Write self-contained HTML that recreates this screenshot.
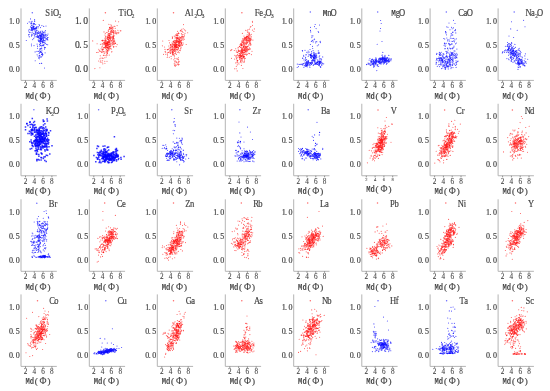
<!DOCTYPE html>
<html><head><meta charset="utf-8"><style>html,body{margin:0;padding:0;background:#fff;overflow:hidden;}svg{display:block}</style></head>
<body><svg width="550" height="391" viewBox="0 0 550 391">
<rect width="550" height="391" fill="#fff"/>
<path d="M28.6 34.9h0M32.1 35.0h0M41.8 46.8h0M32.0 25.6h0M37.6 33.0h0M42.0 41.6h0M47.8 37.5h0M30.0 32.4h0M41.3 39.3h0M41.2 36.3h0M39.4 36.8h0M33.7 28.4h0M37.5 48.2h0M39.1 35.7h0M46.1 34.5h0M35.1 31.2h0M40.9 52.2h0M42.9 54.6h0M34.2 33.2h0M43.3 37.1h0M35.2 60.7h0M29.3 36.8h0M38.4 32.9h0M43.7 26.4h0M41.9 41.2h0M42.9 34.6h0M44.5 49.1h0M40.2 38.8h0M39.9 35.1h0M39.6 46.0h0M41.9 54.3h0M41.0 33.8h0M34.2 29.2h0M45.1 38.6h0M40.7 43.4h0M36.3 33.0h0M39.5 63.5h0M35.4 33.6h0M39.5 52.7h0M43.7 37.0h0M41.8 37.8h0M41.2 63.2h0M44.5 68.0h0M42.7 41.4h0M37.6 46.3h0M33.8 26.7h0M34.6 21.1h0M42.3 54.3h0M42.5 42.8h0M37.1 44.1h0M36.8 27.8h0M41.9 33.3h0M32.4 28.8h0M36.2 27.8h0M43.4 36.8h0M45.2 35.4h0M40.5 41.4h0M39.1 53.5h0M40.1 42.3h0M31.8 27.9h0M34.4 35.5h0M32.6 28.1h0M42.8 32.1h0M38.8 37.7h0M44.2 36.0h0M29.3 32.2h0M34.7 28.4h0M43.2 45.4h0M37.5 46.0h0M35.8 29.0h0M31.8 28.5h0M34.0 45.6h0M31.0 23.6h0M36.0 28.1h0M33.2 24.5h0M45.1 43.0h0M41.3 36.2h0M32.2 29.5h0M34.2 34.6h0M41.1 36.5h0M37.4 32.7h0M29.2 36.5h0M40.4 36.1h0M39.7 55.4h0M33.7 38.3h0M27.5 23.2h0M40.8 37.9h0M31.0 22.0h0M42.0 38.8h0M31.5 45.8h0M42.1 53.9h0M36.2 28.0h0M38.3 36.4h0M40.5 27.6h0M39.7 57.5h0M44.8 47.4h0M34.8 36.9h0M41.5 34.9h0M40.7 40.1h0M36.9 37.0h0M46.1 39.7h0M42.4 33.3h0M42.0 38.2h0M40.2 52.1h0M41.8 37.8h0" stroke="#0000ff" stroke-opacity="0.7" stroke-width="1.15" stroke-linecap="round" fill="none"/>
<path d="M35.9 30.2h0M38.2 39.9h0M42.6 34.3h0M36.2 36.5h0M44.5 42.2h0M33.8 27.9h0M37.7 35.5h0M46.7 38.4h0M40.6 32.6h0M34.6 19.5h0M39.4 55.9h0M46.7 44.4h0M39.7 40.8h0M47.9 37.5h0M41.1 37.9h0M32.1 32.3h0M34.3 23.8h0M44.4 40.5h0M41.8 48.8h0M39.4 38.3h0M32.0 21.4h0M39.6 35.5h0M40.4 35.6h0M42.2 45.5h0M45.1 52.8h0M36.1 28.4h0M43.0 40.0h0M41.2 38.8h0M37.1 30.2h0M41.2 39.1h0M46.6 36.0h0M39.1 24.6h0M44.8 31.8h0M40.8 37.7h0M31.5 29.8h0M46.0 26.0h0M33.2 27.5h0M42.1 31.1h0M44.1 35.7h0M42.3 34.4h0M38.1 27.8h0M34.0 26.3h0M40.9 38.0h0M36.0 32.2h0M42.4 53.5h0M35.7 24.6h0M42.6 42.3h0M43.2 38.9h0M35.7 31.8h0M39.6 41.7h0M34.1 23.2h0M32.7 30.7h0M45.4 30.6h0M45.3 37.0h0M35.3 28.3h0M36.0 29.0h0M39.6 44.4h0M37.2 34.9h0M40.6 40.4h0M46.6 38.6h0M42.8 45.0h0M34.8 28.9h0M40.4 43.8h0M38.4 40.4h0M29.2 29.4h0M34.7 28.2h0M33.5 29.6h0M41.4 41.0h0M43.9 44.4h0M38.2 37.0h0M40.5 45.6h0M33.0 29.2h0M40.9 37.2h0M38.4 31.3h0M40.4 38.0h0M43.8 45.7h0M41.1 35.1h0M41.1 36.1h0M43.5 42.4h0M40.7 51.5h0M36.1 27.3h0M38.8 37.8h0M46.2 38.8h0M33.3 28.8h0M41.9 50.8h0M40.2 56.2h0M39.7 49.0h0M43.4 37.0h0M43.1 35.4h0M30.5 26.9h0M35.5 34.6h0M37.0 51.4h0M38.5 57.9h0M31.5 27.4h0M44.1 34.6h0M42.9 41.1h0M40.5 36.1h0M45.2 43.6h0M41.2 36.7h0M47.3 39.2h0M41.9 25.6h0M42.5 37.9h0M37.9 35.8h0M32.4 27.0h0M42.4 31.2h0" stroke="#0000ff" stroke-opacity="0.7" stroke-width="1.15" stroke-linecap="round" fill="none"/>
<path d="M28.7 30.9h0M33.4 26.3h0M40.9 36.0h0M42.0 54.3h0M31.9 28.0h0M39.7 50.9h0M39.5 25.6h0M38.0 37.3h0M45.3 47.6h0M41.7 63.3h0M40.3 37.8h0M41.6 38.9h0M29.2 21.9h0M38.4 51.4h0M39.2 33.5h0M41.4 34.9h0M43.5 34.0h0M38.5 41.5h0M41.1 41.7h0M34.5 30.0h0M31.9 23.5h0M36.3 27.9h0M41.1 45.4h0M32.0 34.1h0M31.8 34.9h0M48.0 34.0h0M37.9 32.6h0M44.0 40.9h0M42.6 55.5h0M35.5 32.3h0M47.5 38.8h0M26.3 40.5h0M41.8 52.5h0M31.5 36.1h0M40.2 39.2h0M41.2 48.4h0M40.3 48.6h0M45.5 34.8h0M45.1 37.1h0M40.2 49.7h0M35.1 51.9h0M43.6 40.4h0M31.4 30.3h0M32.9 26.0h0M36.9 26.5h0M40.8 32.9h0M44.4 47.8h0M43.4 32.6h0M47.8 39.9h0M33.5 33.2h0M37.8 36.4h0M39.4 58.7h0M41.6 39.8h0M38.5 33.5h0M39.6 34.0h0M30.5 18.9h0M47.7 44.7h0M38.2 26.5h0M45.3 40.8h0M31.4 25.2h0M40.6 35.1h0M40.3 31.4h0M31.1 23.8h0M42.3 36.4h0M44.1 37.4h0M40.7 51.7h0M42.1 40.3h0M36.8 34.0h0M41.8 56.3h0M31.8 29.3h0M37.8 37.4h0M38.0 56.0h0M33.9 23.3h0M31.4 44.1h0M41.0 52.1h0M34.3 24.1h0M40.6 38.8h0M33.5 23.6h0M31.7 22.8h0M43.7 32.2h0M36.6 30.9h0M33.3 27.2h0M40.3 39.7h0M34.7 21.1h0M33.3 27.0h0M43.6 39.9h0M37.6 33.1h0M47.3 35.3h0M43.2 35.4h0M33.6 26.3h0M37.1 54.7h0M43.4 38.7h0M42.1 36.8h0M31.4 28.5h0M32.7 39.6h0M30.6 30.0h0M29.1 34.4h0M41.0 57.5h0M37.3 37.0h0M39.5 32.5h0M43.5 38.8h0M39.7 40.9h0M45.0 32.9h0M41.6 54.4h0M32.5 30.1h0" stroke="#0000ff" stroke-opacity="0.7" stroke-width="1.15" stroke-linecap="round" fill="none"/>
<path d="M21.0 8.400000000000006V80.4H56.8" fill="none" stroke="#b4b4b4" stroke-width="1"/>
<path d="M25.50 80.4v1.6M34.30 80.4v1.6M43.10 80.4v1.6M51.90 80.4v1.6" stroke="#777" stroke-width="0.8"/>
<text x="10.95 13.40 17.85" y="24.1" font-size="8" text-anchor="middle" fill="#444444" stroke="#444444" stroke-width="0.18" font-family="Liberation Serif, serif">1.0</text>
<text x="10.95 13.40 17.85" y="48.1" font-size="8" text-anchor="middle" fill="#444444" stroke="#444444" stroke-width="0.18" font-family="Liberation Serif, serif">0.5</text>
<text x="10.95 13.40 17.85" y="72.1" font-size="8" text-anchor="middle" fill="#444444" stroke="#444444" stroke-width="0.18" font-family="Liberation Serif, serif">0.0</text>
<text x="25.5" y="88.3" font-size="7.2" text-anchor="middle" fill="#444444" stroke="#444444" stroke-width="0.08" font-family="Liberation Serif, serif">2</text>
<text x="34.3" y="88.3" font-size="7.2" text-anchor="middle" fill="#444444" stroke="#444444" stroke-width="0.08" font-family="Liberation Serif, serif">4</text>
<text x="43.1" y="88.3" font-size="7.2" text-anchor="middle" fill="#444444" stroke="#444444" stroke-width="0.08" font-family="Liberation Serif, serif">6</text>
<text x="51.9" y="88.3" font-size="7.2" text-anchor="middle" fill="#444444" stroke="#444444" stroke-width="0.08" font-family="Liberation Serif, serif">8</text>
<text y="99.4" font-size="9" fill="#444444" stroke="#444444" stroke-width="0.18" font-family="Liberation Serif, Noto Serif CJK SC, serif"><tspan x="25.4" font-family="Liberation Mono, monospace" font-size="9.5" font-weight="bold" stroke-width="0" textLength="8.6" lengthAdjust="spacingAndGlyphs">Md</tspan><tspan x="34.8">(</tspan><tspan x="39.6" font-size="9.6" stroke-width="0.05">Φ</tspan><tspan x="47.6">)</tspan></text>
<circle cx="32.3" cy="12.7" r="0.75" fill="#0000ff" fill-opacity="0.6"/>
<text transform="scale(0.9,1)" font-size="9.5" text-anchor="middle" fill="#444444" stroke="#444444" stroke-width="0.18" font-family="Liberation Serif, serif"><tspan x="52.92" y="16.2">S</tspan><tspan x="57.64" y="16.2">i</tspan><tspan x="62.36" y="16.2">O</tspan><tspan x="66.42" y="18.099999999999998" font-size="5.89">2</tspan></text>
<path d="M109.6 34.0h0M110.6 33.0h0M105.4 41.4h0M109.1 35.4h0M108.5 36.0h0M102.9 43.5h0M101.9 49.7h0M111.7 40.3h0M106.0 43.4h0M110.3 46.2h0M109.4 34.7h0M102.5 46.7h0M105.5 42.0h0M114.1 31.8h0M109.0 42.3h0M114.0 38.9h0M113.3 36.6h0M106.7 45.7h0M106.0 44.9h0M104.8 44.2h0M110.5 31.0h0M102.4 40.9h0M111.4 34.5h0M112.2 39.9h0M109.8 42.5h0M107.3 43.0h0M105.4 45.9h0M107.0 36.3h0M115.5 43.3h0M106.9 51.4h0M111.8 28.9h0M109.7 38.5h0M109.7 28.3h0M104.2 44.2h0M108.0 44.0h0M102.8 63.8h0M109.5 35.8h0M111.2 49.1h0M104.0 31.9h0M108.5 48.5h0M100.4 44.3h0M113.5 33.0h0M113.1 31.7h0M113.6 46.8h0M105.5 46.4h0M115.6 21.1h0M106.9 43.2h0M115.6 31.0h0M109.0 47.1h0M110.5 45.7h0M107.8 44.7h0M107.0 61.2h0M110.2 37.9h0M111.6 28.1h0M110.9 24.8h0M110.2 44.6h0M103.7 55.4h0M113.6 36.3h0M112.9 39.3h0M107.4 52.9h0M110.4 34.5h0M108.4 41.7h0M104.9 63.2h0M111.1 26.9h0M113.1 35.1h0M107.3 38.2h0M113.5 37.2h0M113.3 34.9h0M109.7 44.7h0M108.3 37.8h0M108.3 42.2h0M111.0 28.3h0M108.6 40.1h0M108.7 45.0h0M98.7 61.0h0M102.0 44.0h0M107.0 44.0h0M116.2 33.6h0M107.5 44.3h0M114.9 26.3h0M117.1 25.6h0M105.1 55.5h0M118.8 32.2h0M104.8 40.9h0M101.1 48.7h0M107.3 36.7h0M94.9 68.6h0M109.5 27.3h0M120.9 30.7h0M101.7 47.0h0M99.3 50.6h0M107.1 55.1h0M103.4 55.4h0M105.0 35.0h0M106.1 50.1h0M112.3 27.1h0M111.2 41.1h0M108.6 48.9h0M109.8 35.5h0M102.9 49.0h0M104.9 42.6h0M97.1 43.7h0M110.9 28.8h0M113.4 38.3h0M107.5 50.8h0M106.0 47.6h0M114.1 40.4h0M108.4 37.3h0M108.3 39.8h0M114.5 44.0h0M107.4 42.1h0M110.2 46.8h0M109.7 38.2h0M107.1 45.6h0M109.6 27.8h0M108.6 48.6h0M111.8 31.6h0M107.4 47.5h0M98.0 52.4h0M112.6 29.7h0M105.5 40.3h0M102.4 58.1h0M99.9 67.7h0" stroke="#ff0000" stroke-opacity="0.62" stroke-width="1.15" stroke-linecap="round" fill="none"/>
<path d="M111.0 32.2h0M111.6 25.7h0M107.1 45.6h0M103.1 49.4h0M107.1 44.2h0M109.5 33.4h0M110.6 38.1h0M107.6 48.6h0M111.9 37.6h0M110.8 36.1h0M105.1 38.3h0M107.5 41.9h0M110.5 39.6h0M115.2 28.3h0M113.4 40.9h0M105.3 37.5h0M104.6 42.9h0M107.1 43.5h0M102.1 51.2h0M114.1 41.7h0M107.3 47.3h0M100.2 51.2h0M109.3 35.5h0M108.1 47.3h0M112.1 31.6h0M108.4 39.8h0M106.2 57.0h0M109.3 40.8h0M107.5 52.0h0M101.0 58.0h0M109.3 48.6h0M107.2 45.4h0M103.1 58.3h0M113.7 47.1h0M105.2 46.3h0M106.9 42.9h0M112.2 43.0h0M115.2 32.3h0M105.3 43.7h0M109.9 46.4h0M106.5 41.2h0M109.5 43.7h0M109.5 36.8h0M106.7 42.9h0M106.2 44.9h0M102.6 60.7h0M112.7 38.5h0M106.3 42.3h0M113.9 38.8h0M104.1 40.7h0M104.1 47.9h0M115.6 43.3h0M106.6 54.9h0M107.3 46.0h0M108.8 44.4h0M112.6 42.2h0M112.6 36.9h0M108.9 46.0h0M113.6 32.3h0M106.7 38.1h0M109.6 27.6h0M106.8 52.0h0M103.9 40.4h0M107.7 50.4h0M113.2 43.5h0M111.1 32.6h0M105.3 33.3h0M106.9 43.7h0M105.9 48.4h0M107.5 37.1h0M110.2 37.4h0M107.8 38.2h0M107.1 46.9h0M108.5 38.0h0M113.5 30.8h0M109.6 44.3h0M105.6 39.8h0M102.2 52.0h0M115.0 42.9h0M99.9 58.8h0M110.6 38.8h0M104.8 61.2h0M112.2 40.7h0M111.9 32.5h0M110.0 36.9h0M105.0 51.9h0M105.1 43.9h0M112.2 37.9h0M111.9 45.8h0M109.0 29.4h0M96.6 52.5h0M109.8 43.5h0M106.2 43.5h0M111.7 38.0h0M112.7 32.4h0M108.0 43.5h0M108.7 42.7h0M106.3 53.0h0M109.1 50.0h0M109.8 40.8h0M104.3 47.5h0M109.4 36.9h0M108.2 37.2h0M107.2 46.1h0M105.5 45.1h0M111.5 30.5h0M110.1 42.0h0M112.8 44.6h0M105.8 43.3h0M110.3 27.3h0M102.5 50.1h0M112.1 42.1h0M106.4 47.0h0M112.6 27.9h0M106.0 39.9h0M111.6 37.0h0M102.7 40.4h0M105.3 46.2h0M110.7 43.7h0M111.3 32.9h0M108.2 34.0h0M115.2 33.6h0" stroke="#ff0000" stroke-opacity="0.62" stroke-width="1.15" stroke-linecap="round" fill="none"/>
<path d="M108.0 35.7h0M117.1 44.6h0M105.2 44.9h0M111.9 51.6h0M113.2 28.0h0M103.7 42.4h0M108.5 33.3h0M113.2 30.4h0M113.8 41.4h0M107.6 42.8h0M105.6 47.8h0M107.1 32.6h0M108.8 41.3h0M114.1 43.6h0M103.9 52.0h0M105.1 44.9h0M110.9 40.2h0M104.9 42.7h0M92.7 40.9h0M106.3 46.1h0M102.5 40.2h0M108.3 30.3h0M109.3 40.8h0M109.9 29.5h0M108.9 24.3h0M111.7 51.9h0M104.3 53.6h0M115.0 30.7h0M109.2 55.1h0M107.6 37.5h0M107.4 47.2h0M113.0 28.0h0M103.3 20.4h0M100.0 51.2h0M104.7 43.3h0M107.9 41.5h0M109.9 41.0h0M118.6 21.7h0M108.6 39.5h0M106.9 43.0h0M109.0 39.3h0M117.9 30.2h0M118.6 33.1h0M111.7 30.8h0M104.6 47.5h0M108.8 46.3h0M110.6 33.0h0M113.9 33.6h0M113.8 36.5h0M109.2 35.5h0M105.1 39.0h0M113.8 46.2h0M108.3 45.1h0M101.8 52.3h0M109.1 47.8h0M116.1 46.6h0M116.8 33.8h0M110.7 48.4h0M107.0 44.3h0M106.7 47.2h0M102.0 62.3h0M101.8 40.5h0M109.5 38.3h0M114.0 26.3h0M110.8 28.5h0M109.7 37.2h0M116.3 32.2h0M110.3 31.2h0M120.3 30.8h0M108.3 45.2h0M108.2 50.9h0M108.0 47.9h0M101.4 52.1h0M103.6 47.6h0M109.5 46.8h0M106.0 40.5h0M107.0 45.1h0M111.2 43.9h0M109.4 41.9h0M113.7 44.1h0M108.2 41.4h0M102.8 49.3h0M117.5 32.7h0M113.4 37.6h0M109.0 39.3h0M110.1 37.1h0M108.2 34.4h0M112.8 44.0h0M112.9 36.9h0M107.7 43.6h0M109.6 41.0h0M108.4 31.4h0M102.8 45.0h0M105.5 36.3h0M109.6 38.3h0M100.3 62.1h0M105.0 41.7h0M100.8 60.8h0M114.8 41.1h0M109.4 38.9h0M107.1 49.8h0M106.5 49.2h0M109.2 37.0h0M108.4 42.4h0M106.7 32.5h0M114.0 35.4h0M108.3 44.7h0M107.5 53.5h0M100.3 55.7h0M104.8 57.7h0M107.2 42.7h0M103.8 51.6h0M108.8 49.5h0M103.5 51.3h0M109.1 47.2h0M108.1 35.3h0M105.8 47.2h0M113.7 42.3h0M107.6 39.4h0M105.9 43.4h0M103.3 43.9h0M98.8 49.2h0" stroke="#ff0000" stroke-opacity="0.62" stroke-width="1.15" stroke-linecap="round" fill="none"/>
<path d="M89.3 8.400000000000006V80.4H125.1" fill="none" stroke="#b4b4b4" stroke-width="1"/>
<path d="M93.80 80.4v1.6M102.60 80.4v1.6M111.40 80.4v1.6M120.20 80.4v1.6" stroke="#777" stroke-width="0.8"/>
<text x="77.48 80.42 85.76" y="24.1" font-size="9.6" text-anchor="middle" fill="#444444" stroke="#444444" stroke-width="0.18" font-family="Liberation Serif, serif">1.0</text>
<text x="77.48 80.42 85.76" y="48.1" font-size="9.6" text-anchor="middle" fill="#444444" stroke="#444444" stroke-width="0.18" font-family="Liberation Serif, serif">0.5</text>
<text x="77.48 80.42 85.76" y="72.1" font-size="9.6" text-anchor="middle" fill="#444444" stroke="#444444" stroke-width="0.18" font-family="Liberation Serif, serif">0.0</text>
<text x="93.8" y="88.3" font-size="7.2" text-anchor="middle" fill="#444444" stroke="#444444" stroke-width="0.08" font-family="Liberation Serif, serif">2</text>
<text x="102.6" y="88.3" font-size="7.2" text-anchor="middle" fill="#444444" stroke="#444444" stroke-width="0.08" font-family="Liberation Serif, serif">4</text>
<text x="111.4" y="88.3" font-size="7.2" text-anchor="middle" fill="#444444" stroke="#444444" stroke-width="0.08" font-family="Liberation Serif, serif">6</text>
<text x="120.2" y="88.3" font-size="7.2" text-anchor="middle" fill="#444444" stroke="#444444" stroke-width="0.08" font-family="Liberation Serif, serif">8</text>
<text y="99.4" font-size="9" fill="#444444" stroke="#444444" stroke-width="0.18" font-family="Liberation Serif, Noto Serif CJK SC, serif"><tspan x="93.7" font-family="Liberation Mono, monospace" font-size="9.5" font-weight="bold" stroke-width="0" textLength="8.6" lengthAdjust="spacingAndGlyphs">Md</tspan><tspan x="103.1">(</tspan><tspan x="107.9" font-size="9.6" stroke-width="0.05">Φ</tspan><tspan x="115.9">)</tspan></text>
<circle cx="105.4" cy="12.8" r="0.75" fill="#ff0000" fill-opacity="0.6"/>
<text transform="scale(0.9,1)" font-size="9.5" text-anchor="middle" fill="#444444" stroke="#444444" stroke-width="0.18" font-family="Liberation Serif, serif"><tspan x="134.47" y="16.2">T</tspan><tspan x="139.19" y="16.2">i</tspan><tspan x="143.92" y="16.2">O</tspan><tspan x="147.98" y="18.099999999999998" font-size="5.89">2</tspan></text>
<path d="M177.8 42.3h0M167.4 49.8h0M175.4 46.4h0M174.3 50.0h0M176.0 45.1h0M179.4 41.7h0M178.7 38.5h0M183.2 28.7h0M179.2 42.2h0M172.7 44.3h0M179.6 42.6h0M168.4 49.4h0M172.1 47.1h0M176.4 44.2h0M174.9 43.1h0M169.5 42.8h0M170.3 53.0h0M172.7 52.9h0M177.7 46.8h0M178.7 43.6h0M187.7 32.7h0M170.7 50.7h0M176.5 46.2h0M173.3 49.9h0M176.6 46.0h0M182.0 36.6h0M174.5 40.2h0M169.0 40.5h0M174.6 44.0h0M182.9 37.4h0M175.2 46.5h0M177.2 59.3h0M174.1 51.0h0M177.4 47.5h0M181.7 29.2h0M171.4 49.8h0M178.3 41.9h0M177.0 50.0h0M182.9 44.2h0M175.7 41.0h0M177.6 31.3h0M179.0 45.3h0M170.3 50.4h0M179.4 45.3h0M176.1 48.1h0M175.0 46.6h0M176.7 46.0h0M176.0 41.8h0M179.0 41.1h0M174.1 53.5h0M173.9 44.4h0M179.1 42.2h0M172.7 46.5h0M182.6 38.8h0M169.3 57.2h0M179.3 52.7h0M174.1 49.3h0M175.0 61.4h0M175.8 43.0h0M174.2 55.5h0M178.5 57.7h0M179.4 42.0h0M176.4 42.3h0M181.9 34.8h0M178.9 39.6h0M183.0 32.5h0M178.5 41.9h0M177.0 35.4h0M173.8 41.8h0M178.9 45.6h0M178.7 61.1h0M173.8 49.5h0M177.7 38.2h0M175.7 46.7h0M179.2 45.5h0M179.4 40.2h0M177.2 64.5h0M175.8 51.4h0M178.9 33.5h0M174.9 62.0h0M170.4 44.5h0M162.4 45.8h0M174.9 58.4h0M179.6 45.2h0M177.6 42.3h0M178.5 47.2h0M176.3 41.1h0M171.6 49.8h0M171.3 46.6h0M162.7 41.0h0M178.5 48.9h0M178.6 48.0h0M173.1 50.2h0M172.5 49.4h0M170.4 45.8h0M167.5 55.8h0M175.3 44.7h0M171.0 45.4h0M178.2 41.7h0M174.6 65.5h0M183.5 24.6h0M176.4 49.4h0M180.4 41.9h0M181.1 47.1h0M177.2 34.4h0M177.4 38.5h0M173.3 44.5h0M176.3 47.2h0M185.6 30.8h0M167.4 54.2h0M174.6 45.9h0M183.1 40.1h0M179.0 37.8h0M177.0 41.3h0M184.6 29.8h0M178.0 35.6h0M179.6 39.2h0M178.8 43.5h0M179.3 50.3h0" stroke="#ff0000" stroke-opacity="0.62" stroke-width="1.15" stroke-linecap="round" fill="none"/>
<path d="M172.2 51.6h0M177.4 40.3h0M178.4 64.9h0M179.1 42.6h0M172.1 47.4h0M175.2 46.1h0M174.7 48.0h0M174.2 46.1h0M180.3 50.6h0M175.3 50.1h0M181.8 42.4h0M179.7 44.4h0M177.0 37.6h0M174.7 44.3h0M178.0 37.5h0M175.1 60.7h0M176.0 46.0h0M176.7 62.1h0M180.4 41.3h0M177.6 49.8h0M168.8 52.3h0M174.3 47.8h0M179.8 45.0h0M176.8 44.4h0M176.1 45.9h0M177.2 41.7h0M182.0 36.5h0M184.0 34.5h0M177.8 48.0h0M177.3 45.6h0M175.0 49.0h0M176.3 54.4h0M178.6 44.9h0M181.5 43.3h0M182.5 34.7h0M175.8 50.0h0M175.0 44.9h0M171.0 44.7h0M174.2 36.1h0M184.5 35.9h0M174.9 45.5h0M172.6 52.2h0M177.1 35.4h0M176.0 47.4h0M172.4 38.4h0M176.0 45.2h0M172.8 44.0h0M180.2 40.3h0M170.5 47.2h0M183.7 38.7h0M178.6 62.6h0M174.9 49.7h0M180.3 44.9h0M173.2 54.6h0M175.3 65.0h0M175.1 46.7h0M174.4 56.7h0M175.4 47.2h0M180.4 37.8h0M173.6 45.2h0M178.3 64.1h0M174.9 41.2h0M172.8 53.3h0M170.6 53.5h0M179.3 39.5h0M177.9 44.3h0M177.9 47.1h0M172.1 51.1h0M175.5 43.2h0M176.0 35.3h0M165.2 51.4h0M172.6 54.3h0M179.3 46.3h0M179.2 45.3h0M173.9 48.4h0M165.0 49.4h0M169.2 48.0h0M180.6 48.9h0M172.7 45.9h0M181.1 40.4h0M180.4 37.7h0M167.3 52.9h0M180.9 48.1h0M177.0 41.0h0M176.0 42.1h0M173.9 42.6h0M178.8 45.7h0M180.3 30.9h0M175.2 42.6h0M173.2 51.5h0M172.9 43.6h0M173.4 41.5h0M177.3 38.7h0M178.4 41.8h0M175.3 40.6h0M174.4 49.5h0M173.2 50.5h0M178.9 38.2h0M173.9 54.2h0M177.0 58.4h0M176.5 37.9h0M175.4 53.3h0M176.6 47.3h0M172.7 51.8h0M171.9 51.1h0M171.0 44.5h0M172.4 52.0h0M176.5 40.4h0M176.7 44.2h0M173.6 52.5h0M170.1 48.9h0M177.0 33.6h0M171.1 56.4h0M185.0 33.3h0M180.3 44.6h0M168.8 46.0h0M179.0 40.7h0M172.0 52.4h0" stroke="#ff0000" stroke-opacity="0.62" stroke-width="1.15" stroke-linecap="round" fill="none"/>
<path d="M171.3 58.7h0M183.8 37.1h0M179.7 38.0h0M175.0 50.7h0M179.1 64.5h0M183.2 43.0h0M179.4 43.4h0M179.5 43.2h0M172.3 36.8h0M172.4 48.3h0M182.3 31.3h0M179.2 41.4h0M172.6 51.8h0M170.3 51.9h0M178.5 32.7h0M181.8 37.0h0M177.3 63.0h0M181.2 38.7h0M167.2 57.5h0M174.6 46.5h0M176.9 46.7h0M177.8 52.3h0M173.7 47.3h0M176.0 34.6h0M175.0 64.0h0M172.5 37.4h0M176.7 45.0h0M174.3 47.4h0M178.8 43.7h0M175.5 48.7h0M176.6 42.2h0M169.4 51.0h0M177.6 38.5h0M177.1 44.3h0M172.8 52.3h0M181.4 33.6h0M183.0 36.4h0M177.4 49.2h0M173.7 41.0h0M180.4 45.8h0M172.1 42.9h0M175.9 44.5h0M179.1 61.6h0M186.2 44.5h0M172.5 49.7h0M173.8 59.7h0M174.2 63.8h0M168.3 52.5h0M178.4 45.6h0M174.4 42.3h0M170.8 44.7h0M170.3 47.8h0M179.4 46.1h0M178.5 41.7h0M171.5 49.1h0M176.8 39.4h0M165.4 52.2h0M180.8 38.8h0M173.0 55.1h0M172.3 46.1h0M176.1 40.0h0M174.4 51.3h0M179.6 41.2h0M175.1 36.7h0M163.5 54.3h0M181.6 31.1h0M177.1 36.8h0M181.3 43.9h0M174.5 51.3h0M178.0 33.7h0M180.7 30.4h0M175.1 38.1h0M176.3 47.0h0M175.2 46.1h0M167.4 49.5h0M174.3 42.7h0M181.3 45.2h0M177.2 37.8h0M176.4 38.2h0M180.5 42.8h0M178.5 59.5h0M178.4 39.9h0M175.1 44.7h0M172.3 53.7h0M176.1 45.3h0M175.9 43.8h0M176.1 37.5h0M174.6 45.1h0M184.3 39.2h0M181.5 37.8h0M172.7 49.5h0M179.1 41.9h0M173.1 41.2h0M170.3 49.7h0M180.9 42.2h0M181.3 40.9h0M176.0 43.9h0M176.1 65.3h0M175.7 52.7h0M178.5 51.9h0M181.5 43.0h0M181.7 44.9h0M176.3 62.1h0M179.3 36.7h0M178.7 33.6h0M175.2 66.3h0M176.5 47.3h0M170.1 52.7h0M183.6 36.8h0M177.5 41.0h0M164.6 47.0h0M182.4 45.4h0M175.7 47.1h0M165.7 54.2h0M179.7 46.4h0M181.9 39.8h0M176.1 35.0h0M180.4 37.4h0" stroke="#ff0000" stroke-opacity="0.62" stroke-width="1.15" stroke-linecap="round" fill="none"/>
<path d="M157.3 8.400000000000006V80.4H193.10000000000002" fill="none" stroke="#b4b4b4" stroke-width="1"/>
<path d="M161.80 80.4v1.6M170.60 80.4v1.6M179.40 80.4v1.6M188.20 80.4v1.6" stroke="#777" stroke-width="0.8"/>
<text x="147.25 149.70 154.15" y="24.1" font-size="8" text-anchor="middle" fill="#444444" stroke="#444444" stroke-width="0.18" font-family="Liberation Serif, serif">1.0</text>
<text x="147.25 149.70 154.15" y="48.1" font-size="8" text-anchor="middle" fill="#444444" stroke="#444444" stroke-width="0.18" font-family="Liberation Serif, serif">0.5</text>
<text x="147.25 149.70 154.15" y="72.1" font-size="8" text-anchor="middle" fill="#444444" stroke="#444444" stroke-width="0.18" font-family="Liberation Serif, serif">0.0</text>
<text x="161.8" y="88.3" font-size="7.2" text-anchor="middle" fill="#444444" stroke="#444444" stroke-width="0.08" font-family="Liberation Serif, serif">2</text>
<text x="170.6" y="88.3" font-size="7.2" text-anchor="middle" fill="#444444" stroke="#444444" stroke-width="0.08" font-family="Liberation Serif, serif">4</text>
<text x="179.4" y="88.3" font-size="7.2" text-anchor="middle" fill="#444444" stroke="#444444" stroke-width="0.08" font-family="Liberation Serif, serif">6</text>
<text x="188.2" y="88.3" font-size="7.2" text-anchor="middle" fill="#444444" stroke="#444444" stroke-width="0.08" font-family="Liberation Serif, serif">8</text>
<text y="99.4" font-size="9" fill="#444444" stroke="#444444" stroke-width="0.18" font-family="Liberation Serif, Noto Serif CJK SC, serif"><tspan x="161.7" font-family="Liberation Mono, monospace" font-size="9.5" font-weight="bold" stroke-width="0" textLength="8.6" lengthAdjust="spacingAndGlyphs">Md</tspan><tspan x="171.1">(</tspan><tspan x="175.9" font-size="9.6" stroke-width="0.05">Φ</tspan><tspan x="183.9">)</tspan></text>
<circle cx="173.5" cy="12.7" r="0.75" fill="#ff0000" fill-opacity="0.6"/>
<text transform="scale(0.9,1)" font-size="9.5" text-anchor="middle" fill="#444444" stroke="#444444" stroke-width="0.18" font-family="Liberation Serif, serif"><tspan x="208.81" y="16.2">A</tspan><tspan x="213.53" y="16.2">l</tspan><tspan x="217.59" y="18.099999999999998" font-size="5.89">2</tspan><tspan x="221.65" y="16.2">O</tspan><tspan x="225.71" y="18.099999999999998" font-size="5.89">3</tspan></text>
<path d="M248.8 49.0h0M240.2 44.4h0M241.4 44.6h0M250.3 27.1h0M246.3 54.0h0M244.4 43.7h0M243.4 53.0h0M244.5 56.9h0M247.4 46.7h0M244.2 42.1h0M250.4 38.9h0M236.4 52.1h0M250.8 40.1h0M243.2 47.2h0M249.7 39.1h0M246.0 38.1h0M241.8 50.1h0M243.3 43.8h0M245.1 42.6h0M250.1 45.2h0M240.3 47.2h0M244.4 47.1h0M243.1 52.4h0M238.3 47.2h0M234.7 59.1h0M249.1 42.3h0M246.9 47.7h0M248.8 53.4h0M234.9 55.4h0M241.8 58.7h0M230.8 50.6h0M241.8 52.1h0M239.0 53.7h0M240.1 56.9h0M251.1 44.7h0M240.9 50.4h0M240.7 43.6h0M244.8 37.9h0M245.9 47.7h0M252.5 25.3h0M241.0 52.9h0M243.5 46.6h0M231.8 49.5h0M240.7 45.1h0M243.7 52.5h0M245.6 50.7h0M244.2 61.4h0M239.6 46.2h0M244.6 38.4h0M242.5 54.0h0M249.5 42.9h0M241.8 55.8h0M253.9 31.3h0M234.6 68.7h0M251.2 34.4h0M249.8 40.9h0M251.1 36.2h0M247.2 36.9h0M238.2 55.6h0M237.1 57.6h0M248.6 33.1h0M243.1 50.6h0M243.8 56.3h0M237.5 52.4h0M247.3 49.2h0M249.4 47.8h0M238.9 51.0h0M241.4 43.8h0M243.4 47.0h0M239.6 53.6h0M248.3 46.1h0M241.4 56.3h0M240.9 58.9h0M244.6 52.0h0M246.7 36.6h0M249.6 34.5h0M243.4 40.0h0M245.4 47.1h0M248.1 40.6h0M250.6 43.3h0M245.5 54.3h0M244.1 47.5h0M248.8 49.5h0M244.1 50.8h0M244.7 50.3h0M240.3 57.1h0M244.6 58.3h0M241.3 47.1h0M246.4 50.8h0M240.3 44.4h0M237.8 60.6h0M244.4 59.9h0M238.3 49.9h0M237.3 64.8h0M244.2 54.3h0M241.7 45.5h0M244.3 42.0h0M238.1 63.0h0M239.8 55.5h0M243.5 40.7h0M245.6 51.5h0M245.4 37.3h0M240.2 62.3h0M242.9 68.5h0M247.3 30.9h0M247.4 42.3h0M245.1 44.8h0M248.7 38.7h0M242.0 49.3h0M250.2 39.8h0M247.5 36.8h0M251.5 39.1h0M243.1 57.2h0M242.6 52.4h0M240.4 44.4h0M241.5 51.2h0M240.4 54.6h0M236.0 56.9h0M244.5 45.7h0M242.4 33.4h0M242.3 54.2h0M238.3 51.1h0M242.6 58.1h0M249.1 41.0h0M231.5 58.3h0M248.5 39.7h0M236.3 66.3h0" stroke="#ff0000" stroke-opacity="0.62" stroke-width="1.15" stroke-linecap="round" fill="none"/>
<path d="M244.9 39.2h0M249.7 37.9h0M242.2 51.8h0M238.9 50.6h0M252.5 22.2h0M231.1 50.1h0M243.2 47.7h0M242.8 40.4h0M250.9 26.5h0M245.1 52.0h0M243.2 39.6h0M247.2 51.2h0M247.1 39.9h0M248.0 36.7h0M242.4 50.6h0M242.5 42.3h0M247.0 36.3h0M235.8 62.9h0M243.5 49.7h0M246.7 40.6h0M246.0 40.7h0M243.6 55.8h0M239.5 58.9h0M241.3 52.8h0M238.0 52.0h0M245.6 49.8h0M247.2 54.4h0M239.8 54.1h0M241.3 56.3h0M242.8 53.2h0M246.4 36.4h0M240.5 52.0h0M242.4 50.7h0M247.3 54.3h0M252.4 30.1h0M237.3 62.1h0M238.0 48.0h0M242.7 52.3h0M244.7 44.0h0M251.4 54.6h0M243.2 47.4h0M241.2 56.2h0M236.2 68.7h0M246.5 40.5h0M249.6 53.6h0M247.7 48.7h0M244.0 62.4h0M242.1 61.5h0M240.9 60.4h0M245.5 38.8h0M250.1 48.8h0M245.6 46.8h0M237.0 55.4h0M243.9 44.2h0M244.7 52.4h0M252.9 40.1h0M244.2 49.1h0M249.3 40.2h0M241.0 55.4h0M244.5 39.9h0M245.8 43.2h0M247.1 36.9h0M246.7 40.8h0M243.9 45.8h0M242.6 50.1h0M236.8 59.9h0M241.5 41.1h0M239.9 55.6h0M246.1 49.7h0M247.2 34.7h0M246.6 49.9h0M236.6 58.4h0M241.5 44.5h0M241.7 57.0h0M241.9 45.1h0M239.0 64.0h0M247.5 50.3h0M243.2 53.0h0M240.8 58.1h0M239.6 46.4h0M246.3 46.8h0M248.2 38.2h0M250.2 44.6h0M241.2 58.3h0M250.3 38.4h0M249.8 39.4h0M240.7 60.6h0M248.1 40.2h0M245.5 51.5h0M246.7 38.4h0M241.3 45.2h0M240.3 54.2h0M239.8 59.3h0M249.2 36.3h0M246.7 41.5h0M244.7 39.0h0M254.4 28.9h0M238.8 51.1h0M237.5 54.2h0M246.1 39.4h0M241.3 53.1h0M243.7 58.0h0M234.3 50.5h0M246.2 37.4h0M243.9 56.6h0M247.0 41.9h0M242.4 55.2h0M239.5 57.4h0M243.1 56.4h0M248.0 29.6h0M244.0 36.1h0M242.6 41.2h0M239.8 50.7h0M248.7 44.8h0M247.4 48.8h0M243.4 41.8h0M244.2 54.7h0M246.4 42.5h0M237.5 60.6h0M249.0 49.7h0M236.1 56.0h0M247.6 36.2h0M242.1 60.3h0M246.7 38.7h0M248.8 37.9h0M248.9 37.7h0M239.6 55.7h0" stroke="#ff0000" stroke-opacity="0.62" stroke-width="1.15" stroke-linecap="round" fill="none"/>
<path d="M245.1 50.2h0M241.8 45.3h0M249.5 33.4h0M245.6 48.2h0M251.1 37.1h0M250.4 42.8h0M250.0 35.4h0M242.1 59.6h0M246.8 43.6h0M243.1 43.8h0M243.5 42.9h0M241.0 47.6h0M245.4 38.2h0M240.6 57.1h0M241.9 58.6h0M241.4 65.4h0M246.5 51.8h0M243.0 50.0h0M241.2 45.6h0M246.9 50.0h0M250.0 49.0h0M243.3 56.9h0M245.0 53.1h0M238.2 56.8h0M242.5 51.6h0M246.3 44.6h0M249.6 29.1h0M244.9 49.8h0M244.8 39.9h0M247.7 32.3h0M252.0 51.2h0M248.5 41.0h0M248.4 35.4h0M248.5 37.5h0M246.7 50.0h0M243.4 46.1h0M241.7 49.3h0M242.4 48.2h0M241.7 50.9h0M242.8 44.3h0M241.4 49.7h0M243.8 43.0h0M247.7 38.0h0M244.2 49.8h0M243.4 46.4h0M237.6 60.7h0M241.6 43.1h0M241.6 48.5h0M239.3 57.7h0M243.8 38.3h0M248.0 32.0h0M246.3 39.2h0M244.6 48.7h0M241.8 62.7h0M246.6 55.1h0M235.7 48.7h0M240.6 61.4h0M247.5 42.8h0M241.7 55.6h0M244.1 48.2h0M244.3 48.6h0M249.9 41.2h0M242.0 42.3h0M241.4 53.2h0M246.4 47.3h0M237.0 62.0h0M243.4 57.4h0M243.0 45.8h0M247.2 39.1h0M249.6 32.8h0M242.2 54.9h0M247.7 41.0h0M245.0 48.6h0M240.3 55.6h0M244.9 50.6h0M242.9 51.5h0M240.1 56.7h0M243.2 42.1h0M246.6 48.7h0M249.0 34.3h0M244.9 49.8h0M242.5 49.1h0M245.8 30.4h0M244.9 49.3h0M244.0 56.6h0M245.4 40.7h0M244.9 49.6h0M249.7 35.5h0M249.2 40.8h0M236.2 50.8h0M250.7 40.6h0M247.4 46.4h0M243.6 43.0h0M246.2 46.7h0M243.4 50.2h0M245.1 46.4h0M239.3 51.5h0M246.6 37.5h0M249.3 38.4h0M252.4 21.3h0M240.7 51.2h0M248.4 49.7h0M245.3 58.3h0M240.0 55.9h0M246.2 48.6h0M245.9 43.5h0M240.8 56.7h0M241.1 51.2h0M240.7 53.1h0M245.7 48.8h0M241.0 55.9h0M239.6 57.6h0M237.2 70.9h0M246.0 43.3h0M247.0 46.8h0M246.9 40.5h0M244.7 37.6h0M246.7 52.0h0M249.7 43.7h0M243.4 54.7h0M242.5 56.0h0M249.2 41.2h0M239.0 55.6h0M248.1 36.4h0M244.6 50.3h0M242.5 38.8h0" stroke="#ff0000" stroke-opacity="0.62" stroke-width="1.15" stroke-linecap="round" fill="none"/>
<path d="M225.3 8.400000000000006V80.4H261.1" fill="none" stroke="#b4b4b4" stroke-width="1"/>
<path d="M229.80 80.4v1.6M238.60 80.4v1.6M247.40 80.4v1.6M256.20 80.4v1.6" stroke="#777" stroke-width="0.8"/>
<text x="215.25 217.70 222.15" y="24.1" font-size="8" text-anchor="middle" fill="#444444" stroke="#444444" stroke-width="0.18" font-family="Liberation Serif, serif">1.0</text>
<text x="215.25 217.70 222.15" y="48.1" font-size="8" text-anchor="middle" fill="#444444" stroke="#444444" stroke-width="0.18" font-family="Liberation Serif, serif">0.5</text>
<text x="215.25 217.70 222.15" y="72.1" font-size="8" text-anchor="middle" fill="#444444" stroke="#444444" stroke-width="0.18" font-family="Liberation Serif, serif">0.0</text>
<text x="229.8" y="88.3" font-size="7.2" text-anchor="middle" fill="#444444" stroke="#444444" stroke-width="0.08" font-family="Liberation Serif, serif">2</text>
<text x="238.6" y="88.3" font-size="7.2" text-anchor="middle" fill="#444444" stroke="#444444" stroke-width="0.08" font-family="Liberation Serif, serif">4</text>
<text x="247.4" y="88.3" font-size="7.2" text-anchor="middle" fill="#444444" stroke="#444444" stroke-width="0.08" font-family="Liberation Serif, serif">6</text>
<text x="256.2" y="88.3" font-size="7.2" text-anchor="middle" fill="#444444" stroke="#444444" stroke-width="0.08" font-family="Liberation Serif, serif">8</text>
<text y="99.4" font-size="9" fill="#444444" stroke="#444444" stroke-width="0.18" font-family="Liberation Serif, Noto Serif CJK SC, serif"><tspan x="229.7" font-family="Liberation Mono, monospace" font-size="9.5" font-weight="bold" stroke-width="0" textLength="8.6" lengthAdjust="spacingAndGlyphs">Md</tspan><tspan x="239.1">(</tspan><tspan x="243.9" font-size="9.6" stroke-width="0.05">Φ</tspan><tspan x="251.9">)</tspan></text>
<circle cx="241.9" cy="12.7" r="0.75" fill="#ff0000" fill-opacity="0.6"/>
<text transform="scale(0.9,1)" font-size="9.5" text-anchor="middle" fill="#444444" stroke="#444444" stroke-width="0.18" font-family="Liberation Serif, serif"><tspan x="285.58" y="16.2">F</tspan><tspan x="290.31" y="16.2">e</tspan><tspan x="294.37" y="18.099999999999998" font-size="5.89">2</tspan><tspan x="298.43" y="16.2">O</tspan><tspan x="302.49" y="18.099999999999998" font-size="5.89">3</tspan></text>
<path d="M311.3 55.0h0M320.1 63.6h0M307.9 65.6h0M319.2 56.9h0M304.0 59.9h0M306.9 64.1h0M308.0 52.8h0M308.1 60.5h0M302.5 50.9h0M308.2 61.7h0M311.1 58.0h0M315.7 42.8h0M312.4 59.6h0M312.7 48.5h0M303.3 63.5h0M313.2 41.9h0M318.6 61.2h0M315.1 61.7h0M306.5 65.8h0M305.5 60.3h0M315.6 56.8h0M318.6 44.8h0M304.1 63.5h0M308.8 54.8h0M310.9 55.0h0M320.6 66.7h0M318.9 65.3h0M312.6 55.8h0M308.1 51.1h0M303.6 55.2h0M305.5 60.5h0M319.7 61.8h0M318.8 63.8h0M310.0 49.5h0M306.6 65.1h0M318.3 52.9h0M320.1 62.2h0M322.7 63.8h0M315.6 57.3h0M314.5 26.6h0M307.2 66.8h0M311.9 62.8h0M310.0 54.5h0M321.5 64.7h0M305.4 58.8h0M310.5 54.3h0M315.7 63.1h0M319.5 61.9h0M320.4 42.6h0M309.2 64.6h0M314.2 57.4h0M306.7 52.2h0M302.7 58.3h0M314.4 62.1h0M305.6 57.4h0M314.3 60.8h0M307.2 64.6h0M303.8 56.3h0M313.4 57.6h0M310.2 62.7h0M311.9 37.6h0M311.0 55.7h0M309.5 63.0h0M313.7 55.0h0M311.8 53.1h0M319.5 25.0h0M316.2 62.7h0M316.1 28.6h0M306.5 65.9h0M312.7 61.0h0M311.9 60.4h0M319.4 64.0h0M312.5 62.9h0M315.9 53.7h0M319.8 60.7h0M305.2 66.4h0M306.0 64.8h0M304.6 65.2h0M316.4 55.0h0M314.9 61.4h0M313.2 65.3h0M313.9 60.0h0M311.5 64.4h0M308.3 61.4h0M322.4 63.6h0M317.3 45.7h0M305.6 60.3h0M306.1 54.5h0M321.9 62.2h0M301.1 64.5h0M308.0 63.9h0M304.8 65.5h0M319.6 62.9h0M314.8 58.2h0" stroke="#0000ff" stroke-opacity="0.7" stroke-width="1.15" stroke-linecap="round" fill="none"/>
<path d="M297.2 67.5h0M316.1 58.8h0M309.8 65.8h0M305.5 63.1h0M311.2 63.6h0M314.7 54.1h0M315.9 55.8h0M315.6 58.9h0M314.5 55.5h0M319.5 65.8h0M312.5 46.3h0M321.8 65.2h0M319.5 58.9h0M316.1 64.2h0M307.9 61.4h0M299.0 64.3h0M310.5 55.3h0M311.8 56.1h0M319.5 64.3h0M313.4 64.8h0M310.3 54.6h0M313.7 54.1h0M310.5 63.4h0M320.5 58.8h0M314.2 53.5h0M313.1 50.6h0M316.8 64.2h0M316.0 53.8h0M307.6 62.4h0M319.3 53.2h0M308.3 63.5h0M320.6 61.7h0M320.1 41.7h0M314.2 55.6h0M307.1 62.0h0M308.7 62.8h0M306.5 61.2h0M320.2 41.2h0M321.0 58.8h0M302.3 50.6h0M312.1 60.3h0M321.0 63.3h0M314.3 54.8h0M311.5 61.9h0M313.6 58.9h0M302.9 65.2h0M298.4 66.6h0M314.1 60.7h0M314.1 58.7h0M314.0 54.5h0M314.9 54.4h0M317.2 61.3h0M316.7 56.1h0M315.4 63.5h0M317.8 62.4h0M323.7 63.8h0M307.6 63.9h0M314.2 58.6h0M310.5 27.3h0M312.9 35.8h0M318.2 31.5h0M306.1 66.2h0M318.2 53.5h0M314.0 57.7h0M303.9 67.3h0M314.1 56.7h0M301.1 64.2h0M314.1 39.6h0M314.9 63.0h0M321.2 60.8h0M311.3 53.9h0M306.6 63.6h0M317.1 62.7h0M306.9 62.6h0M319.9 61.5h0M317.9 60.1h0M311.4 41.4h0M311.3 57.1h0M317.7 59.9h0M310.4 44.5h0M321.0 62.3h0M316.2 63.5h0M313.5 57.5h0M310.0 62.7h0M310.2 55.3h0M311.6 51.6h0M310.8 63.1h0M310.7 31.9h0M306.6 59.6h0M315.2 24.5h0M302.7 64.3h0M313.3 56.8h0M319.3 62.7h0M305.9 65.2h0" stroke="#0000ff" stroke-opacity="0.7" stroke-width="1.15" stroke-linecap="round" fill="none"/>
<path d="M319.7 55.8h0M304.9 62.0h0M318.7 65.0h0M297.3 64.1h0M314.1 56.0h0M315.0 60.4h0M321.6 59.2h0M306.2 62.6h0M310.5 57.4h0M320.9 61.9h0M308.4 60.9h0M314.6 56.8h0M306.5 62.3h0M309.9 67.3h0M308.2 56.3h0M310.9 63.1h0M317.1 62.6h0M308.6 62.3h0M314.7 64.1h0M316.0 41.5h0M309.9 64.7h0M312.0 62.6h0M315.3 64.2h0M315.8 63.8h0M311.9 35.9h0M320.0 63.1h0M306.0 55.0h0M317.5 62.3h0M311.9 55.5h0M313.6 52.8h0M320.7 67.5h0M314.0 52.4h0M314.3 56.1h0M312.9 61.1h0M316.8 57.6h0M318.9 64.2h0M307.9 65.1h0M306.1 65.4h0M318.1 61.2h0M316.1 63.0h0M305.6 64.4h0M305.9 65.1h0M302.9 64.1h0M320.6 66.7h0M310.5 30.4h0M316.9 62.5h0M316.8 41.7h0M307.3 63.0h0M319.0 61.8h0M307.2 65.2h0M322.7 56.9h0M314.6 39.0h0M313.5 58.6h0M314.8 55.3h0M315.7 56.4h0M312.6 63.1h0M314.7 64.4h0M313.2 60.4h0M313.6 55.8h0M319.0 52.4h0M313.6 57.5h0M318.6 32.5h0M311.3 55.6h0M314.7 56.0h0M310.3 64.9h0M318.3 50.8h0M312.6 56.6h0M309.1 52.1h0M314.7 58.3h0M307.1 63.9h0M314.3 59.1h0M302.7 58.0h0M311.6 58.2h0M318.0 63.1h0M312.8 40.2h0M319.2 62.5h0M311.2 56.9h0M310.4 55.2h0M305.0 50.3h0M312.2 40.7h0M315.2 57.7h0M313.9 60.0h0M316.5 57.2h0M299.9 64.5h0M315.9 55.6h0M320.1 61.8h0M320.2 61.6h0M310.0 62.8h0M313.3 57.4h0M310.4 56.0h0M317.5 64.4h0M305.9 63.3h0M314.4 55.2h0" stroke="#0000ff" stroke-opacity="0.7" stroke-width="1.15" stroke-linecap="round" fill="none"/>
<path d="M293.7 8.400000000000006V80.4H329.5" fill="none" stroke="#b4b4b4" stroke-width="1"/>
<path d="M298.20 80.4v1.6M307.00 80.4v1.6M315.80 80.4v1.6M324.60 80.4v1.6" stroke="#777" stroke-width="0.8"/>
<text x="283.65 286.10 290.55" y="24.1" font-size="8" text-anchor="middle" fill="#444444" stroke="#444444" stroke-width="0.18" font-family="Liberation Serif, serif">1.0</text>
<text x="283.65 286.10 290.55" y="48.1" font-size="8" text-anchor="middle" fill="#444444" stroke="#444444" stroke-width="0.18" font-family="Liberation Serif, serif">0.5</text>
<text x="283.65 286.10 290.55" y="72.1" font-size="8" text-anchor="middle" fill="#444444" stroke="#444444" stroke-width="0.18" font-family="Liberation Serif, serif">0.0</text>
<text x="298.2" y="88.3" font-size="7.2" text-anchor="middle" fill="#444444" stroke="#444444" stroke-width="0.08" font-family="Liberation Serif, serif">2</text>
<text x="307.0" y="88.3" font-size="7.2" text-anchor="middle" fill="#444444" stroke="#444444" stroke-width="0.08" font-family="Liberation Serif, serif">4</text>
<text x="315.8" y="88.3" font-size="7.2" text-anchor="middle" fill="#444444" stroke="#444444" stroke-width="0.08" font-family="Liberation Serif, serif">6</text>
<text x="324.6" y="88.3" font-size="7.2" text-anchor="middle" fill="#444444" stroke="#444444" stroke-width="0.08" font-family="Liberation Serif, serif">8</text>
<text y="99.4" font-size="9" fill="#444444" stroke="#444444" stroke-width="0.18" font-family="Liberation Serif, Noto Serif CJK SC, serif"><tspan x="298.1" font-family="Liberation Mono, monospace" font-size="9.5" font-weight="bold" stroke-width="0" textLength="8.6" lengthAdjust="spacingAndGlyphs">Md</tspan><tspan x="307.5">(</tspan><tspan x="312.3" font-size="9.6" stroke-width="0.05">Φ</tspan><tspan x="320.3">)</tspan></text>
<circle cx="310.3" cy="11.9" r="0.75" fill="#0000ff" fill-opacity="0.6"/>
<text transform="scale(0.9,1)" font-size="9.5" text-anchor="middle" fill="#444444" stroke="#444444" stroke-width="0.18" font-family="Liberation Serif, serif"><tspan x="358.69" y="16.2" font-family="Liberation Mono, monospace" font-weight="bold" stroke-width="0" textLength="5.11" lengthAdjust="spacingAndGlyphs" text-anchor="start">M</tspan><tspan x="365.97" y="16.2">n</tspan><tspan x="370.69" y="16.2">O</tspan></text>
<path d="M376.1 60.0h0M379.6 61.1h0M385.4 61.1h0M387.1 58.1h0M377.4 66.0h0M386.7 60.0h0M375.6 58.0h0M382.8 57.5h0M372.0 62.3h0M386.4 60.9h0M386.4 60.0h0M383.1 57.8h0M376.6 62.0h0M388.2 61.3h0M371.9 64.0h0M384.2 57.1h0M385.0 59.2h0M380.0 63.5h0M369.9 58.5h0M378.2 61.6h0M368.1 63.1h0M381.3 61.8h0M373.5 62.8h0M373.4 65.0h0M373.1 61.3h0M380.3 58.7h0M381.8 62.4h0M375.9 57.7h0M371.6 61.4h0M388.5 59.7h0M377.1 65.6h0M373.6 60.4h0M384.0 61.9h0M379.1 59.5h0M386.2 59.1h0M371.5 59.6h0M387.1 60.1h0M384.9 56.0h0M379.4 61.5h0M370.4 65.1h0M381.3 59.2h0M369.0 63.9h0M374.0 63.8h0M375.9 60.2h0M384.1 63.3h0M372.2 63.5h0M375.3 61.9h0M384.4 60.2h0M390.8 59.8h0M376.2 58.8h0M371.5 61.0h0M377.8 61.5h0M376.3 61.1h0M388.8 55.4h0M382.5 58.7h0M384.3 62.9h0M379.0 59.2h0M381.5 61.8h0M382.3 61.6h0M386.2 61.0h0M384.1 58.0h0M369.1 60.1h0M371.5 59.8h0M388.5 59.4h0M384.9 58.9h0M380.4 62.3h0M382.3 60.0h0M389.1 61.5h0M372.5 63.7h0M382.2 58.9h0M374.5 62.4h0M389.2 58.3h0M382.4 55.1h0M381.7 63.8h0M383.7 60.2h0M383.0 61.4h0M382.5 58.4h0M375.6 60.0h0M382.7 57.0h0M381.9 55.2h0M388.1 58.8h0M387.8 60.5h0M391.0 58.8h0M385.3 60.8h0" stroke="#0000ff" stroke-opacity="0.7" stroke-width="1.15" stroke-linecap="round" fill="none"/>
<path d="M389.1 61.5h0M382.4 57.5h0M388.0 60.9h0M384.3 59.8h0M375.2 62.9h0M374.6 63.0h0M382.3 59.1h0M380.5 59.3h0M386.4 60.7h0M385.2 59.2h0M373.7 67.2h0M385.5 60.6h0M386.0 60.1h0M382.8 52.4h0M376.1 60.4h0M378.6 66.5h0M376.2 61.9h0M379.3 58.2h0M382.0 41.5h0M386.3 58.6h0M384.4 58.6h0M380.5 58.4h0M381.1 57.9h0M373.7 66.2h0M384.5 61.6h0M377.1 62.0h0M384.3 62.7h0M386.0 61.1h0M380.6 20.5h0M380.0 31.0h0M372.9 59.6h0M381.2 23.5h0M378.6 59.0h0M384.1 58.7h0M366.5 64.6h0M382.2 57.9h0M379.8 63.2h0M373.3 60.2h0M372.3 59.0h0M371.0 61.9h0M380.7 61.0h0M376.5 60.1h0M386.0 61.0h0M387.1 58.1h0M373.9 65.5h0M376.8 70.6h0M371.1 62.4h0M386.3 61.8h0M381.9 62.7h0M371.4 62.1h0M380.6 59.8h0M386.9 61.8h0M381.5 59.1h0M386.2 60.9h0M386.3 59.6h0M382.9 58.1h0M378.8 59.1h0M381.8 62.3h0M381.9 60.7h0M389.6 60.9h0M386.2 62.1h0M387.7 57.6h0M380.7 60.0h0M372.9 63.8h0M383.1 57.8h0M377.7 65.1h0M384.8 60.9h0M383.3 58.4h0M386.4 64.2h0M375.3 62.1h0M387.4 61.8h0M385.5 58.7h0M373.0 61.8h0M388.1 60.2h0M383.4 59.4h0M384.4 57.1h0M375.4 63.7h0M379.6 62.3h0M373.1 61.4h0M378.6 62.1h0M382.4 59.2h0M374.9 59.7h0M376.0 63.7h0M380.5 60.6h0" stroke="#0000ff" stroke-opacity="0.7" stroke-width="1.15" stroke-linecap="round" fill="none"/>
<path d="M384.4 60.4h0M384.8 60.6h0M369.9 64.7h0M382.4 60.4h0M383.7 59.1h0M368.4 64.0h0M385.1 59.5h0M372.7 59.8h0M386.0 59.8h0M370.9 65.2h0M375.9 62.6h0M376.6 61.6h0M379.9 58.0h0M378.2 62.3h0M373.7 64.5h0M373.4 63.9h0M374.4 66.2h0M376.1 59.4h0M373.8 63.1h0M374.5 61.4h0M383.9 62.6h0M380.1 61.4h0M390.9 60.7h0M380.5 28.5h0M375.7 60.9h0M385.0 55.2h0M379.3 61.4h0M377.3 60.5h0M375.3 63.5h0M385.5 62.3h0M382.7 56.7h0M385.4 60.8h0M371.1 61.6h0M385.4 58.5h0M383.2 61.9h0M383.0 61.0h0M386.8 63.6h0M383.5 64.0h0M379.8 58.3h0M382.2 58.8h0M373.2 63.1h0M384.7 58.3h0M376.1 63.7h0M374.9 64.9h0M372.0 64.2h0M376.0 64.3h0M380.2 63.3h0M384.0 59.9h0M385.4 57.1h0M376.0 61.5h0M388.9 59.9h0M385.3 62.1h0M385.7 61.0h0M378.1 61.6h0M378.4 61.4h0M382.4 59.7h0M377.8 64.6h0M380.8 59.2h0M366.9 64.3h0M370.7 60.8h0M379.4 59.0h0M389.5 59.7h0M385.0 59.7h0M380.3 64.0h0M388.8 62.3h0M381.8 58.3h0M385.0 61.9h0M380.9 59.4h0M387.9 60.4h0M372.2 64.5h0M386.2 57.7h0M378.6 60.6h0M370.0 63.3h0M375.2 60.0h0M379.1 62.9h0M391.2 59.0h0M379.3 60.3h0M383.7 58.2h0M382.0 59.0h0M380.2 62.4h0M387.1 63.5h0M373.4 61.7h0M377.2 44.2h0" stroke="#0000ff" stroke-opacity="0.7" stroke-width="1.15" stroke-linecap="round" fill="none"/>
<path d="M361.8 8.400000000000006V80.4H397.6" fill="none" stroke="#b4b4b4" stroke-width="1"/>
<path d="M366.30 80.4v1.6M375.10 80.4v1.6M383.90 80.4v1.6M392.70 80.4v1.6" stroke="#777" stroke-width="0.8"/>
<text x="351.75 354.20 358.65" y="24.1" font-size="8" text-anchor="middle" fill="#444444" stroke="#444444" stroke-width="0.18" font-family="Liberation Serif, serif">1.0</text>
<text x="351.75 354.20 358.65" y="48.1" font-size="8" text-anchor="middle" fill="#444444" stroke="#444444" stroke-width="0.18" font-family="Liberation Serif, serif">0.5</text>
<text x="351.75 354.20 358.65" y="72.1" font-size="8" text-anchor="middle" fill="#444444" stroke="#444444" stroke-width="0.18" font-family="Liberation Serif, serif">0.0</text>
<text x="366.3" y="88.3" font-size="7.2" text-anchor="middle" fill="#444444" stroke="#444444" stroke-width="0.08" font-family="Liberation Serif, serif">2</text>
<text x="375.1" y="88.3" font-size="7.2" text-anchor="middle" fill="#444444" stroke="#444444" stroke-width="0.08" font-family="Liberation Serif, serif">4</text>
<text x="383.9" y="88.3" font-size="7.2" text-anchor="middle" fill="#444444" stroke="#444444" stroke-width="0.08" font-family="Liberation Serif, serif">6</text>
<text x="392.7" y="88.3" font-size="7.2" text-anchor="middle" fill="#444444" stroke="#444444" stroke-width="0.08" font-family="Liberation Serif, serif">8</text>
<text y="99.4" font-size="9" fill="#444444" stroke="#444444" stroke-width="0.18" font-family="Liberation Serif, Noto Serif CJK SC, serif"><tspan x="366.2" font-family="Liberation Mono, monospace" font-size="9.5" font-weight="bold" stroke-width="0" textLength="8.6" lengthAdjust="spacingAndGlyphs">Md</tspan><tspan x="375.6">(</tspan><tspan x="380.4" font-size="9.6" stroke-width="0.05">Φ</tspan><tspan x="388.4">)</tspan></text>
<circle cx="377.7" cy="11.9" r="0.75" fill="#0000ff" fill-opacity="0.6"/>
<text transform="scale(0.9,1)" font-size="9.5" text-anchor="middle" fill="#444444" stroke="#444444" stroke-width="0.18" font-family="Liberation Serif, serif"><tspan x="434.69" y="16.2" font-family="Liberation Mono, monospace" font-weight="bold" stroke-width="0" textLength="5.11" lengthAdjust="spacingAndGlyphs" text-anchor="start">M</tspan><tspan x="441.97" y="16.2">g</tspan><tspan x="446.69" y="16.2">O</tspan></text>
<path d="M443.4 64.9h0M439.4 52.4h0M449.6 56.9h0M448.2 50.0h0M446.8 38.0h0M448.0 59.0h0M439.6 54.8h0M447.7 48.1h0M453.0 52.5h0M456.5 57.0h0M454.5 41.8h0M455.5 58.1h0M456.9 49.1h0M448.1 67.7h0M439.9 58.8h0M445.8 63.8h0M446.9 65.9h0M454.1 50.9h0M453.0 32.0h0M447.3 56.2h0M453.2 58.8h0M438.9 57.0h0M437.8 58.8h0M439.6 66.6h0M437.3 66.3h0M458.0 61.1h0M456.7 53.2h0M444.5 67.1h0M441.2 54.9h0M445.6 31.6h0M445.2 61.4h0M436.1 64.2h0M445.1 60.7h0M453.5 20.3h0M446.7 53.0h0M452.0 41.3h0M451.2 55.0h0M441.9 61.1h0M451.6 53.3h0M453.8 63.7h0M436.8 58.4h0M446.2 43.3h0M447.4 66.7h0M450.0 60.3h0M452.2 61.5h0M436.1 62.8h0M452.7 34.9h0M450.8 48.8h0M453.0 58.5h0M451.0 68.6h0M442.9 61.0h0M442.9 61.7h0M443.2 61.5h0M442.9 66.1h0M444.1 45.3h0M445.9 59.3h0M455.5 56.8h0M440.2 57.9h0M440.5 54.9h0M443.8 62.1h0M440.2 55.4h0M445.7 61.3h0M447.7 59.7h0M453.3 54.5h0M445.1 48.5h0M453.6 54.8h0M444.7 60.5h0M444.6 57.8h0M450.2 55.7h0M440.2 53.1h0M456.7 55.7h0M446.3 59.0h0M445.7 64.1h0M455.1 30.7h0M446.4 64.9h0M448.3 69.0h0M444.3 60.4h0M451.1 54.7h0M448.9 43.3h0M445.6 68.6h0M451.6 59.5h0M454.6 64.1h0M446.3 56.1h0M449.8 58.1h0M441.3 52.2h0M449.3 64.3h0M440.6 61.1h0M449.9 45.6h0M456.6 64.6h0M452.5 60.2h0M445.2 46.5h0M442.3 59.8h0M440.7 57.5h0M439.1 54.1h0M445.7 67.5h0M452.6 64.2h0M450.2 52.1h0M449.7 41.1h0M444.4 43.8h0M456.3 38.8h0M452.5 57.7h0M450.7 65.0h0M443.8 38.5h0M445.3 69.4h0M455.2 56.7h0M452.9 59.1h0M452.4 54.1h0" stroke="#0000ff" stroke-opacity="0.7" stroke-width="1.15" stroke-linecap="round" fill="none"/>
<path d="M443.6 58.0h0M449.7 61.5h0M453.0 56.2h0M445.9 67.3h0M436.5 59.5h0M450.5 57.9h0M455.2 54.2h0M442.0 62.4h0M455.5 29.6h0M452.0 64.9h0M450.8 48.6h0M436.6 54.4h0M447.7 52.1h0M448.0 27.2h0M447.0 66.5h0M446.5 53.7h0M455.0 51.0h0M440.1 60.0h0M449.5 54.7h0M444.7 39.0h0M456.6 62.0h0M450.1 66.6h0M451.8 52.9h0M451.4 55.3h0M449.3 60.6h0M447.3 63.1h0M451.3 67.3h0M454.9 39.8h0M457.5 54.7h0M444.4 64.1h0M441.5 58.8h0M439.7 58.9h0M452.8 41.5h0M439.5 54.8h0M450.8 44.5h0M440.7 64.2h0M448.2 53.0h0M443.0 58.3h0M451.1 57.3h0M453.0 67.6h0M450.2 64.3h0M453.5 61.7h0M442.8 68.0h0M440.2 53.6h0M452.3 62.6h0M450.8 60.5h0M455.4 65.4h0M456.1 67.4h0M439.7 60.6h0M440.3 58.5h0M444.9 67.9h0M441.7 59.8h0M447.7 62.7h0M447.2 65.7h0M448.4 66.6h0M452.7 32.4h0M448.9 59.8h0M450.8 62.0h0M441.3 59.5h0M451.3 54.4h0M449.4 44.1h0M443.9 66.1h0M449.9 62.4h0M450.3 64.9h0M450.0 29.7h0M454.3 55.5h0M454.9 58.2h0M455.0 30.4h0M442.4 60.2h0M449.5 60.7h0M443.0 59.1h0M456.4 43.0h0M449.1 56.3h0M455.7 62.7h0M446.0 51.4h0M451.6 27.3h0M451.7 43.8h0M452.2 28.7h0M450.3 38.1h0M447.3 62.8h0M451.8 35.2h0M445.8 65.9h0M449.6 63.0h0M449.3 59.9h0M448.0 61.4h0M448.3 62.8h0M450.9 59.8h0M453.2 47.9h0M442.4 60.6h0M452.6 65.5h0M454.0 46.0h0M444.8 58.3h0M442.9 62.6h0M446.9 65.8h0M448.7 43.8h0M442.1 62.0h0M440.4 62.8h0M452.8 59.8h0M438.0 60.3h0M439.5 58.0h0M443.0 53.9h0M449.6 59.3h0M449.9 53.7h0M448.2 66.2h0M455.5 43.8h0M441.5 57.9h0M444.7 43.1h0" stroke="#0000ff" stroke-opacity="0.7" stroke-width="1.15" stroke-linecap="round" fill="none"/>
<path d="M439.8 64.5h0M444.7 63.0h0M436.6 62.6h0M447.6 57.6h0M450.0 63.7h0M457.7 61.6h0M450.0 55.4h0M445.7 45.0h0M442.4 56.9h0M450.1 58.5h0M457.0 57.8h0M452.9 53.6h0M454.1 55.5h0M441.3 60.6h0M455.0 23.5h0M443.7 53.9h0M441.0 65.1h0M455.7 55.7h0M451.1 33.7h0M448.8 65.9h0M441.7 60.5h0M453.9 38.2h0M441.9 63.9h0M445.3 62.4h0M442.6 60.9h0M439.4 60.2h0M443.9 54.3h0M451.4 59.4h0M452.3 55.1h0M442.1 64.0h0M450.1 56.8h0M456.5 57.6h0M446.6 55.9h0M441.5 68.6h0M436.9 53.4h0M448.1 60.8h0M451.6 33.8h0M451.9 38.2h0M448.5 59.1h0M455.9 54.6h0M452.3 48.0h0M452.4 48.7h0M441.3 60.3h0M452.1 44.0h0M439.5 60.1h0M452.5 48.7h0M447.0 62.5h0M447.6 48.6h0M446.8 61.2h0M449.9 56.1h0M443.1 55.7h0M442.6 59.3h0M449.8 64.9h0M445.8 32.9h0M444.9 43.3h0M455.8 32.9h0M456.5 62.9h0M445.6 31.7h0M443.0 66.1h0M446.7 63.4h0M449.0 39.7h0M452.2 52.9h0M438.5 64.7h0M448.4 59.6h0M443.7 57.3h0M453.1 38.5h0M446.4 64.4h0M444.3 65.6h0M454.1 57.3h0M443.8 57.4h0M438.4 58.4h0M454.8 53.3h0M453.5 27.8h0M441.4 58.2h0M438.8 61.8h0M453.9 47.0h0M449.9 61.8h0M450.8 58.6h0M449.0 23.0h0M445.0 48.8h0M450.2 63.7h0M447.2 61.3h0M456.0 60.7h0M449.8 48.1h0M453.8 40.8h0M446.7 56.5h0M436.2 60.7h0M453.0 60.3h0M447.7 39.8h0M446.6 56.9h0M446.2 32.7h0M451.9 52.5h0M448.0 66.0h0M448.0 62.6h0M444.4 65.5h0M450.6 36.0h0M446.8 26.8h0M447.8 40.9h0M445.5 56.9h0M442.7 55.6h0M449.9 44.4h0M443.0 56.1h0M445.6 62.1h0M446.4 34.8h0M446.8 51.9h0M447.8 63.7h0" stroke="#0000ff" stroke-opacity="0.7" stroke-width="1.15" stroke-linecap="round" fill="none"/>
<path d="M430.1 8.400000000000006V80.4H465.90000000000003" fill="none" stroke="#b4b4b4" stroke-width="1"/>
<path d="M434.60 80.4v1.6M443.40 80.4v1.6M452.20 80.4v1.6M461.00 80.4v1.6" stroke="#777" stroke-width="0.8"/>
<text x="420.05 422.50 426.95" y="24.1" font-size="8" text-anchor="middle" fill="#444444" stroke="#444444" stroke-width="0.18" font-family="Liberation Serif, serif">1.0</text>
<text x="420.05 422.50 426.95" y="48.1" font-size="8" text-anchor="middle" fill="#444444" stroke="#444444" stroke-width="0.18" font-family="Liberation Serif, serif">0.5</text>
<text x="420.05 422.50 426.95" y="72.1" font-size="8" text-anchor="middle" fill="#444444" stroke="#444444" stroke-width="0.18" font-family="Liberation Serif, serif">0.0</text>
<text x="434.6" y="88.3" font-size="7.2" text-anchor="middle" fill="#444444" stroke="#444444" stroke-width="0.08" font-family="Liberation Serif, serif">2</text>
<text x="443.4" y="88.3" font-size="7.2" text-anchor="middle" fill="#444444" stroke="#444444" stroke-width="0.08" font-family="Liberation Serif, serif">4</text>
<text x="452.2" y="88.3" font-size="7.2" text-anchor="middle" fill="#444444" stroke="#444444" stroke-width="0.08" font-family="Liberation Serif, serif">6</text>
<text x="461.0" y="88.3" font-size="7.2" text-anchor="middle" fill="#444444" stroke="#444444" stroke-width="0.08" font-family="Liberation Serif, serif">8</text>
<text y="99.4" font-size="9" fill="#444444" stroke="#444444" stroke-width="0.18" font-family="Liberation Serif, Noto Serif CJK SC, serif"><tspan x="434.5" font-family="Liberation Mono, monospace" font-size="9.5" font-weight="bold" stroke-width="0" textLength="8.6" lengthAdjust="spacingAndGlyphs">Md</tspan><tspan x="443.9">(</tspan><tspan x="448.7" font-size="9.6" stroke-width="0.05">Φ</tspan><tspan x="456.7">)</tspan></text>
<circle cx="446.3" cy="11.9" r="0.75" fill="#0000ff" fill-opacity="0.6"/>
<text transform="scale(0.9,1)" font-size="9.5" text-anchor="middle" fill="#444444" stroke="#444444" stroke-width="0.18" font-family="Liberation Serif, serif"><tspan x="512.47" y="16.2">C</tspan><tspan x="517.19" y="16.2">a</tspan><tspan x="521.92" y="16.2">O</tspan></text>
<path d="M525.9 61.8h0M509.7 45.8h0M518.1 63.6h0M517.7 63.3h0M511.9 51.2h0M509.3 47.8h0M520.4 66.5h0M520.3 53.5h0M509.0 36.0h0M511.5 21.7h0M515.9 50.8h0M514.5 48.3h0M518.5 62.0h0M519.3 66.0h0M511.1 57.0h0M513.8 57.9h0M512.8 51.7h0M521.9 62.3h0M516.9 58.6h0M515.7 51.6h0M506.9 50.6h0M510.5 54.0h0M513.7 58.1h0M508.6 55.2h0M521.0 63.1h0M510.4 44.4h0M510.5 49.2h0M507.5 50.1h0M509.7 48.5h0M510.8 57.2h0M514.1 56.5h0M515.0 52.0h0M521.2 59.2h0M512.8 53.7h0M513.0 55.1h0M507.2 51.7h0M511.6 58.0h0M507.0 46.2h0M510.6 52.6h0M525.4 61.8h0M519.7 59.8h0M521.2 63.1h0M517.2 53.1h0M508.6 49.6h0M516.5 60.2h0M515.7 54.4h0M518.4 62.1h0M512.3 52.2h0M523.4 64.6h0M511.3 53.5h0M511.5 59.3h0M513.1 50.9h0M521.0 60.1h0M521.8 59.3h0M510.9 49.3h0M512.6 50.8h0M514.7 52.0h0M514.2 52.1h0M510.6 55.0h0M511.5 51.5h0M521.0 52.5h0M505.4 46.2h0M518.6 61.5h0M513.7 52.7h0M518.1 62.8h0M510.7 49.9h0M519.6 62.7h0M505.7 49.8h0M513.6 37.5h0M512.2 47.5h0M520.8 59.7h0M510.1 51.2h0M511.3 52.4h0M515.1 54.3h0M521.6 62.7h0M516.0 59.1h0M507.6 44.6h0M514.1 52.9h0M513.6 52.3h0M518.8 63.6h0M516.9 52.2h0M518.6 63.5h0M502.6 52.5h0M517.0 57.4h0M511.8 51.8h0M516.4 57.8h0M524.9 65.9h0M518.1 55.0h0M511.7 61.5h0M514.1 53.9h0M513.4 50.1h0M504.6 52.3h0M505.0 50.7h0M520.9 59.7h0M510.1 46.3h0M521.4 61.0h0M524.2 65.1h0" stroke="#0000ff" stroke-opacity="0.7" stroke-width="1.15" stroke-linecap="round" fill="none"/>
<path d="M520.1 67.5h0M508.5 52.4h0M516.9 51.9h0M510.7 28.9h0M525.0 26.7h0M518.6 65.1h0M523.6 20.3h0M516.1 54.9h0M521.8 61.9h0M511.4 52.9h0M515.1 55.4h0M524.4 60.7h0M502.9 51.7h0M516.7 63.7h0M524.7 65.6h0M519.3 63.6h0M524.8 55.9h0M521.7 61.7h0M525.1 58.7h0M515.4 54.3h0M509.1 59.7h0M521.6 63.5h0M511.4 45.1h0M511.1 50.1h0M522.2 64.5h0M517.5 62.6h0M516.3 55.8h0M513.3 58.5h0M522.7 60.2h0M518.5 56.2h0M507.7 46.4h0M512.6 51.0h0M510.5 52.8h0M507.5 49.5h0M507.5 42.5h0M517.2 54.2h0M517.8 61.8h0M513.9 50.3h0M512.7 51.3h0M519.1 48.4h0M511.0 61.0h0M518.9 64.7h0M523.9 63.1h0M510.0 44.2h0M520.5 54.9h0M513.6 55.4h0M508.6 48.2h0M518.5 65.1h0M511.7 43.4h0M518.2 56.8h0M518.5 54.6h0M510.6 58.0h0M517.7 59.1h0M519.5 64.2h0M519.3 53.3h0M513.4 54.3h0M508.4 48.3h0M521.4 61.7h0M509.2 43.5h0M515.4 51.2h0M513.9 53.5h0M514.3 60.5h0M514.1 55.1h0M508.7 49.4h0M513.1 53.9h0M512.5 54.0h0M513.1 50.9h0M518.0 50.1h0M526.2 63.2h0M516.8 51.5h0M518.0 67.0h0M511.0 56.6h0M518.1 60.4h0M517.2 55.4h0M513.0 53.0h0M506.9 58.6h0M519.7 58.2h0M511.3 60.4h0M520.3 63.2h0M509.6 46.7h0M502.9 51.5h0M515.4 47.4h0M525.1 62.0h0M514.9 44.4h0M508.6 52.0h0M509.1 52.1h0M512.8 59.5h0M517.2 30.3h0M514.7 56.3h0M521.9 56.8h0M520.5 51.2h0M522.3 62.9h0M516.3 56.6h0M513.6 54.7h0M514.3 55.6h0M511.8 53.5h0M510.2 50.7h0" stroke="#0000ff" stroke-opacity="0.7" stroke-width="1.15" stroke-linecap="round" fill="none"/>
<path d="M519.2 60.9h0M506.7 52.5h0M522.4 61.2h0M519.4 58.6h0M512.2 55.5h0M518.6 62.9h0M516.3 53.0h0M518.8 58.9h0M509.6 50.2h0M519.6 50.7h0M512.0 49.4h0M514.4 52.9h0M508.2 49.8h0M508.5 59.0h0M517.9 63.9h0M510.8 50.7h0M521.2 60.8h0M508.5 43.9h0M507.8 45.3h0M517.9 60.7h0M511.2 45.9h0M511.1 56.5h0M513.0 62.5h0M512.7 57.2h0M518.9 63.4h0M511.4 54.2h0M516.5 52.7h0M515.8 63.2h0M514.2 55.8h0M508.6 48.2h0M527.7 59.2h0M509.1 47.0h0M518.8 49.9h0M513.1 48.2h0M520.0 62.3h0M523.2 63.0h0M520.1 56.6h0M515.7 53.5h0M511.7 47.2h0M522.5 57.7h0M504.7 50.7h0M515.8 60.2h0M520.5 59.9h0M508.8 46.7h0M522.6 63.3h0M520.8 63.4h0M519.0 64.3h0M512.4 53.5h0M517.6 57.2h0M523.1 65.2h0M516.2 56.5h0M509.2 53.9h0M521.2 63.0h0M521.0 60.7h0M518.6 56.2h0M502.3 53.0h0M512.4 55.2h0M519.7 59.5h0M518.5 59.1h0M513.4 48.8h0M515.1 62.0h0M515.5 51.5h0M518.5 53.1h0M518.0 69.4h0M515.7 60.0h0M508.4 47.2h0M518.0 62.1h0M508.9 46.4h0M524.2 63.2h0M515.1 53.0h0M518.7 58.6h0M518.6 67.5h0M519.6 63.7h0M512.3 49.7h0M513.5 51.0h0M519.5 54.9h0M513.3 50.2h0M517.7 64.2h0M512.7 50.0h0M513.2 46.3h0M511.6 42.6h0M518.3 60.6h0M510.2 57.5h0M516.6 50.5h0M508.5 50.3h0M512.2 48.1h0M510.9 58.1h0M508.8 48.5h0M520.9 61.5h0M514.2 61.5h0M515.3 51.4h0M520.1 64.3h0M525.4 53.8h0M512.2 54.0h0M511.4 48.6h0M514.7 53.0h0" stroke="#0000ff" stroke-opacity="0.7" stroke-width="1.15" stroke-linecap="round" fill="none"/>
<path d="M498.1 8.400000000000006V80.4H533.9" fill="none" stroke="#b4b4b4" stroke-width="1"/>
<path d="M502.60 80.4v1.6M511.40 80.4v1.6M520.20 80.4v1.6M529.00 80.4v1.6" stroke="#777" stroke-width="0.8"/>
<text x="488.05 490.50 494.95" y="24.1" font-size="8" text-anchor="middle" fill="#444444" stroke="#444444" stroke-width="0.18" font-family="Liberation Serif, serif">1.0</text>
<text x="488.05 490.50 494.95" y="48.1" font-size="8" text-anchor="middle" fill="#444444" stroke="#444444" stroke-width="0.18" font-family="Liberation Serif, serif">0.5</text>
<text x="488.05 490.50 494.95" y="72.1" font-size="8" text-anchor="middle" fill="#444444" stroke="#444444" stroke-width="0.18" font-family="Liberation Serif, serif">0.0</text>
<text x="502.6" y="88.3" font-size="7.2" text-anchor="middle" fill="#444444" stroke="#444444" stroke-width="0.08" font-family="Liberation Serif, serif">2</text>
<text x="511.4" y="88.3" font-size="7.2" text-anchor="middle" fill="#444444" stroke="#444444" stroke-width="0.08" font-family="Liberation Serif, serif">4</text>
<text x="520.2" y="88.3" font-size="7.2" text-anchor="middle" fill="#444444" stroke="#444444" stroke-width="0.08" font-family="Liberation Serif, serif">6</text>
<text x="529.0" y="88.3" font-size="7.2" text-anchor="middle" fill="#444444" stroke="#444444" stroke-width="0.08" font-family="Liberation Serif, serif">8</text>
<text y="99.4" font-size="9" fill="#444444" stroke="#444444" stroke-width="0.18" font-family="Liberation Serif, Noto Serif CJK SC, serif"><tspan x="502.5" font-family="Liberation Mono, monospace" font-size="9.5" font-weight="bold" stroke-width="0" textLength="8.6" lengthAdjust="spacingAndGlyphs">Md</tspan><tspan x="511.9">(</tspan><tspan x="516.7" font-size="9.6" stroke-width="0.05">Φ</tspan><tspan x="524.7">)</tspan></text>
<circle cx="514.2" cy="11.9" r="0.75" fill="#0000ff" fill-opacity="0.6"/>
<text transform="scale(0.9,1)" font-size="9.5" text-anchor="middle" fill="#444444" stroke="#444444" stroke-width="0.18" font-family="Liberation Serif, serif"><tspan x="587.36" y="16.2">N</tspan><tspan x="592.08" y="16.2">a</tspan><tspan x="596.14" y="18.099999999999998" font-size="5.89">2</tspan><tspan x="600.21" y="16.2">O</tspan></text>
<path d="M48.0 141.9h0M33.9 141.6h0M46.9 139.7h0M34.5 140.7h0M35.1 150.8h0M36.0 147.0h0M37.7 144.6h0M39.3 128.3h0M38.4 134.0h0M37.3 132.5h0M37.9 130.6h0M44.4 140.3h0M44.1 139.1h0M43.2 120.1h0M38.6 132.3h0M39.1 142.7h0M31.8 133.4h0M36.5 140.1h0M30.2 122.1h0M36.8 159.4h0M39.5 130.3h0M31.7 148.4h0M38.2 147.7h0M37.0 136.4h0M44.6 139.2h0M38.5 145.8h0M41.9 154.0h0M31.1 139.9h0M32.9 125.9h0M38.3 159.4h0M39.0 135.2h0M41.5 136.2h0M34.2 127.8h0M43.4 141.9h0M36.1 131.7h0M45.2 156.8h0M36.5 139.0h0M40.2 140.3h0M40.2 135.4h0M45.3 142.0h0M32.6 134.5h0M47.1 118.9h0M43.2 146.8h0M38.9 145.4h0M45.9 146.3h0M43.4 134.3h0M25.5 129.8h0M38.6 134.4h0M48.5 132.5h0M41.1 136.3h0M42.5 139.6h0M41.4 149.8h0M37.3 141.1h0M42.2 128.2h0M39.0 128.4h0M39.2 160.0h0M42.3 139.1h0M29.8 141.8h0M45.9 144.3h0M46.4 144.3h0M39.0 135.6h0M44.5 133.5h0M48.4 143.9h0M37.9 141.2h0M37.0 150.3h0M32.2 129.6h0M32.3 118.6h0M35.3 145.9h0M35.8 140.5h0M37.6 143.4h0M31.9 142.8h0M42.0 134.0h0M45.7 127.0h0M40.9 132.7h0M47.4 121.1h0M37.0 129.4h0M39.9 141.3h0M41.1 135.7h0M40.6 135.8h0M34.4 129.8h0M42.4 128.5h0M26.9 123.4h0M38.9 146.9h0M41.6 141.4h0M36.7 145.7h0M36.8 143.2h0M39.8 138.7h0M37.3 141.0h0M39.6 132.9h0M31.5 129.7h0M41.1 152.9h0M48.7 142.6h0M44.1 128.2h0M38.6 142.0h0M46.6 136.3h0M41.3 136.6h0M39.7 143.6h0M45.5 133.5h0M38.5 132.7h0M39.6 132.1h0M44.5 144.0h0M35.6 143.3h0M39.7 137.7h0M45.9 129.2h0M43.3 132.1h0M36.9 129.6h0M52.0 145.7h0M28.0 133.6h0M38.0 137.4h0M36.3 145.8h0M43.9 157.1h0M41.2 130.8h0M42.9 137.9h0M39.8 137.8h0M29.9 133.4h0M46.0 140.6h0M41.1 139.7h0M37.2 144.8h0M36.9 141.3h0M47.3 146.9h0M37.3 139.9h0M35.8 127.5h0M47.8 150.1h0M43.6 133.8h0M43.9 134.1h0" stroke="#0000ff" stroke-opacity="0.8" stroke-width="1.5" stroke-linecap="square" fill="none"/>
<path d="M46.8 148.9h0M35.9 135.4h0M35.0 132.2h0M36.2 137.7h0M46.3 146.6h0M36.5 140.2h0M41.5 141.8h0M40.8 147.2h0M37.5 130.6h0M43.4 130.3h0M34.1 130.1h0M44.7 137.6h0M32.8 127.2h0M32.8 124.7h0M35.6 145.9h0M36.5 141.5h0M39.0 145.4h0M34.0 130.3h0M25.5 127.0h0M35.5 143.7h0M35.1 143.1h0M36.3 144.9h0M46.2 161.4h0M40.1 139.8h0M44.0 121.3h0M42.5 141.5h0M45.2 137.7h0M37.7 134.5h0M44.5 141.3h0M42.4 146.6h0M36.4 153.1h0M35.7 140.3h0M39.8 141.5h0M34.5 136.2h0M39.1 130.0h0M40.6 132.5h0M36.6 145.2h0M46.7 131.0h0M35.5 142.0h0M45.2 138.7h0M36.0 134.4h0M46.7 135.2h0M42.8 142.7h0M32.2 129.1h0M49.8 154.0h0M44.2 146.2h0M38.8 154.6h0M44.6 135.1h0M50.5 130.7h0M43.3 139.6h0M42.2 133.5h0M40.3 149.4h0M41.1 159.9h0M46.4 133.4h0M47.0 129.4h0M39.8 137.5h0M48.9 133.0h0M34.9 141.3h0M40.9 137.1h0M42.2 137.3h0M46.1 133.8h0M32.4 130.6h0M37.5 141.4h0M47.3 143.5h0M41.5 138.7h0M30.2 148.9h0M33.4 142.9h0M46.7 145.5h0M46.3 134.6h0M40.1 135.2h0M41.7 134.5h0M38.2 136.3h0M47.1 130.0h0M37.6 134.1h0M36.6 153.7h0M38.4 154.5h0M42.2 143.0h0M41.7 153.5h0M44.8 138.4h0M40.5 134.1h0M44.7 137.5h0M43.7 135.2h0M45.7 132.6h0M48.7 140.0h0M43.5 125.1h0M40.8 146.8h0M43.2 127.4h0M36.5 137.5h0M42.4 137.9h0M37.9 139.7h0M32.8 133.8h0M35.4 144.9h0M43.5 146.3h0M32.5 145.5h0M39.9 131.0h0M46.3 136.2h0M34.1 141.1h0M44.0 137.0h0M41.1 136.8h0M36.9 160.7h0M43.4 158.5h0M43.7 130.1h0M31.2 130.0h0M40.2 140.0h0M29.4 131.3h0M36.7 138.6h0M36.0 129.9h0M39.6 137.8h0M48.6 135.2h0M36.6 142.2h0M39.8 133.3h0M31.4 142.1h0M33.1 146.4h0M44.3 140.8h0M36.0 148.7h0M38.3 141.1h0M35.1 143.3h0M46.3 146.9h0M41.6 157.8h0M39.4 144.3h0M38.5 145.1h0M41.9 141.9h0M42.2 138.0h0M47.7 141.2h0M36.4 130.3h0" stroke="#0000ff" stroke-opacity="0.8" stroke-width="1.5" stroke-linecap="square" fill="none"/>
<path d="M42.0 131.6h0M39.9 136.0h0M41.4 141.1h0M43.8 140.6h0M41.9 140.3h0M38.8 141.9h0M45.6 138.7h0M40.5 143.9h0M38.0 131.0h0M45.1 150.9h0M37.8 143.4h0M41.9 137.7h0M49.0 146.7h0M43.1 136.8h0M34.5 121.4h0M31.3 135.1h0M47.0 141.2h0M39.4 144.8h0M44.9 143.8h0M38.9 131.7h0M37.5 151.5h0M38.6 149.1h0M42.5 131.2h0M46.7 130.2h0M38.1 149.2h0M46.3 133.7h0M41.5 134.2h0M41.2 126.8h0M47.6 138.7h0M43.8 143.2h0M35.3 139.6h0M42.5 137.6h0M41.5 148.1h0M40.0 141.7h0M44.7 146.6h0M39.6 136.3h0M34.0 125.6h0M41.0 157.6h0M30.6 132.0h0M40.9 139.8h0M42.7 141.3h0M44.6 135.8h0M35.8 137.3h0M39.6 138.7h0M34.9 124.7h0M45.1 145.7h0M26.8 123.8h0M44.3 139.0h0M45.3 137.4h0M40.5 143.1h0M37.9 136.8h0M37.0 149.9h0M41.5 142.5h0M37.1 132.8h0M43.9 139.0h0M36.6 130.7h0M31.7 130.8h0M42.9 147.3h0M38.7 133.7h0M39.3 138.9h0M44.8 147.2h0M40.3 144.5h0M40.1 134.9h0M43.0 140.5h0M44.9 149.8h0M42.2 145.2h0M39.3 142.4h0M32.0 143.5h0M39.4 134.7h0M43.6 133.2h0M41.7 136.7h0M31.5 124.4h0M37.9 142.8h0M45.3 131.1h0M44.9 123.8h0M31.7 124.3h0M42.8 132.0h0M46.9 150.1h0M43.4 121.5h0M37.5 146.6h0M36.4 154.2h0M33.6 122.5h0M40.9 139.4h0M34.8 144.5h0M44.0 135.6h0M40.6 127.9h0M32.3 145.6h0M34.3 132.0h0M42.4 134.1h0M40.8 148.8h0M36.0 150.7h0M37.8 145.8h0M43.1 148.1h0M41.7 126.8h0M38.9 156.2h0M29.8 122.2h0M47.5 155.5h0M46.9 139.8h0M43.9 140.4h0M31.8 133.1h0M40.8 143.5h0M38.4 133.4h0M30.1 124.6h0M47.6 138.3h0M27.9 125.4h0M46.3 155.2h0M30.3 127.2h0M42.8 139.1h0M40.9 138.8h0M48.6 140.1h0M39.6 138.1h0M39.5 145.1h0M39.0 139.5h0M43.1 140.1h0M40.1 127.2h0M36.0 127.6h0M44.5 130.5h0M42.0 141.6h0M34.4 128.4h0M39.3 129.8h0M40.3 140.9h0M44.8 160.4h0M46.5 143.2h0M44.6 146.4h0M45.9 143.4h0" stroke="#0000ff" stroke-opacity="0.8" stroke-width="1.5" stroke-linecap="square" fill="none"/>
<path d="M21.0 103.75V175.75H56.8" fill="none" stroke="#b4b4b4" stroke-width="1"/>
<path d="M25.50 175.75v1.6M34.30 175.75v1.6M43.10 175.75v1.6M51.90 175.75v1.6" stroke="#777" stroke-width="0.8"/>
<text x="10.95 13.40 17.85" y="119.4" font-size="8" text-anchor="middle" fill="#444444" stroke="#444444" stroke-width="0.18" font-family="Liberation Serif, serif">1.0</text>
<text x="10.95 13.40 17.85" y="143.4" font-size="8" text-anchor="middle" fill="#444444" stroke="#444444" stroke-width="0.18" font-family="Liberation Serif, serif">0.5</text>
<text x="10.95 13.40 17.85" y="167.4" font-size="8" text-anchor="middle" fill="#444444" stroke="#444444" stroke-width="0.18" font-family="Liberation Serif, serif">0.0</text>
<text x="25.5" y="183.7" font-size="7.2" text-anchor="middle" fill="#444444" stroke="#444444" stroke-width="0.08" font-family="Liberation Serif, serif">2</text>
<text x="34.3" y="183.7" font-size="7.2" text-anchor="middle" fill="#444444" stroke="#444444" stroke-width="0.08" font-family="Liberation Serif, serif">4</text>
<text x="43.1" y="183.7" font-size="7.2" text-anchor="middle" fill="#444444" stroke="#444444" stroke-width="0.08" font-family="Liberation Serif, serif">6</text>
<text x="51.9" y="183.7" font-size="7.2" text-anchor="middle" fill="#444444" stroke="#444444" stroke-width="0.08" font-family="Liberation Serif, serif">8</text>
<text y="193.7" font-size="9" fill="#444444" stroke="#444444" stroke-width="0.18" font-family="Liberation Serif, Noto Serif CJK SC, serif"><tspan x="25.4" font-family="Liberation Mono, monospace" font-size="9.5" font-weight="bold" stroke-width="0" textLength="8.6" lengthAdjust="spacingAndGlyphs">Md</tspan><tspan x="34.8">(</tspan><tspan x="39.6" font-size="9.6" stroke-width="0.05">Φ</tspan><tspan x="47.6">)</tspan></text>
<circle cx="33.9" cy="109.8" r="0.75" fill="#0000ff" fill-opacity="0.6"/>
<text transform="scale(0.9,1)" font-size="9.5" text-anchor="middle" fill="#444444" stroke="#444444" stroke-width="0.18" font-family="Liberation Serif, serif"><tspan x="54.36" y="113.7">K</tspan><tspan x="58.42" y="115.60000000000001" font-size="5.89">2</tspan><tspan x="62.48" y="113.7">O</tspan></text>
<path d="M111.4 162.5h0M117.6 155.7h0M100.4 154.9h0M110.3 160.1h0M107.6 159.4h0M108.9 159.4h0M106.3 151.8h0M103.7 151.8h0M95.8 161.8h0M111.9 152.9h0M105.4 152.9h0M113.1 158.8h0M105.7 158.3h0M107.7 159.1h0M109.1 162.6h0M111.6 159.2h0M109.2 158.5h0M109.8 155.1h0M104.8 160.1h0M103.2 156.4h0M120.9 157.4h0M105.8 155.4h0M105.6 151.4h0M112.8 157.8h0M109.2 160.2h0M117.6 156.5h0M112.3 159.9h0M112.1 155.2h0M99.2 162.5h0M105.7 151.4h0M108.1 156.5h0M111.4 159.8h0M117.5 150.6h0M112.8 161.1h0M110.2 155.4h0M103.7 158.7h0M107.9 147.3h0M112.5 159.1h0M103.5 158.7h0M99.3 155.0h0M107.4 150.9h0M97.4 159.1h0M111.4 154.7h0M113.7 159.9h0M106.2 159.0h0M105.9 159.8h0M111.8 157.0h0M108.6 159.5h0M107.9 155.1h0M97.4 152.6h0M104.9 146.1h0M109.0 154.1h0M109.8 157.3h0M110.7 153.6h0M104.1 155.6h0M110.0 158.0h0M113.1 157.7h0M108.6 162.3h0M106.2 156.2h0M110.7 158.3h0M113.1 157.4h0M113.5 158.9h0M105.0 154.2h0M116.5 154.1h0M110.7 155.5h0M111.9 156.6h0M98.6 153.0h0M118.0 155.0h0M108.0 155.0h0M124.1 156.5h0M103.7 157.6h0M106.1 156.5h0M107.4 156.8h0M114.5 158.3h0M117.5 155.7h0M99.6 155.3h0M112.1 156.3h0M109.9 158.4h0M104.7 160.9h0M97.5 146.0h0M104.3 156.5h0M103.1 146.2h0M102.8 153.9h0M115.7 155.6h0M102.1 158.2h0M109.3 159.8h0M114.7 159.7h0M116.4 149.4h0M106.2 154.3h0M108.6 147.1h0M115.2 157.5h0" stroke="#0000ff" stroke-opacity="0.8" stroke-width="1.5" stroke-linecap="square" fill="none"/>
<path d="M98.8 156.0h0M107.6 161.7h0M110.5 155.6h0M102.5 155.8h0M105.1 150.5h0M104.9 157.3h0M101.2 155.9h0M111.7 157.0h0M108.2 158.7h0M109.2 159.8h0M113.7 154.0h0M106.7 156.5h0M104.6 160.3h0M101.8 155.5h0M102.0 158.7h0M104.9 161.9h0M111.2 160.2h0M111.8 158.6h0M109.1 157.6h0M93.9 155.6h0M107.0 155.8h0M107.3 154.3h0M110.7 158.8h0M104.8 154.8h0M116.3 155.5h0M115.5 152.9h0M97.7 157.9h0M106.8 158.0h0M99.3 154.7h0M118.2 159.4h0M109.7 158.9h0M117.9 156.4h0M106.4 152.3h0M102.4 161.5h0M116.4 153.1h0M112.9 156.9h0M99.5 154.4h0M105.5 156.2h0M108.4 162.7h0M116.6 155.2h0M109.8 156.8h0M103.9 153.7h0M116.5 151.0h0M113.3 154.1h0M116.5 160.9h0M100.9 155.5h0M113.1 156.8h0M108.0 155.3h0M98.8 157.5h0M100.9 162.8h0M115.5 149.6h0M116.0 157.2h0M108.7 150.0h0M96.4 157.6h0M110.8 159.2h0M114.4 158.0h0M107.3 157.0h0M116.4 148.4h0M108.9 155.1h0M104.3 155.0h0M109.6 154.9h0M108.4 156.3h0M108.5 162.4h0M112.9 157.8h0M114.3 160.4h0M103.8 149.4h0M113.4 152.1h0M100.4 152.4h0M107.4 153.1h0M103.4 161.3h0M108.1 156.8h0M98.0 159.2h0M121.1 159.2h0M111.5 153.3h0M103.2 156.2h0M103.4 152.7h0M104.2 148.7h0M107.6 158.5h0M103.1 157.9h0M107.3 156.3h0M105.5 149.3h0M108.4 159.1h0M99.2 152.8h0M110.9 159.7h0M117.0 156.9h0M109.9 156.5h0M110.6 156.1h0M113.2 153.5h0M110.7 155.9h0M104.1 150.2h0" stroke="#0000ff" stroke-opacity="0.8" stroke-width="1.5" stroke-linecap="square" fill="none"/>
<path d="M105.7 152.0h0M105.0 156.6h0M106.4 156.6h0M109.2 156.0h0M108.9 155.0h0M105.5 161.1h0M114.1 151.9h0M107.1 158.0h0M105.4 155.3h0M106.3 159.0h0M99.9 161.4h0M113.7 159.9h0M115.3 157.9h0M105.3 154.7h0M104.1 156.9h0M102.7 157.1h0M108.8 153.5h0M102.9 153.7h0M105.1 154.8h0M106.3 160.1h0M117.8 156.2h0M111.0 154.9h0M103.5 158.6h0M103.1 153.2h0M118.2 155.9h0M106.3 156.8h0M116.4 159.7h0M114.9 156.5h0M104.6 161.4h0M113.8 154.8h0M107.3 147.4h0M105.3 154.5h0M116.7 154.5h0M105.3 157.2h0M113.3 156.0h0M103.2 154.3h0M114.4 136.8h0M113.5 155.5h0M104.4 156.4h0M110.6 159.3h0M114.9 154.7h0M103.5 159.0h0M101.5 153.8h0M111.1 155.2h0M112.2 162.1h0M113.0 152.7h0M109.9 159.5h0M106.8 155.7h0M101.4 150.2h0M111.5 156.0h0M108.2 155.8h0M111.6 154.4h0M118.7 158.4h0M106.4 156.2h0M102.1 151.8h0M98.5 146.4h0M99.8 159.8h0M114.8 157.1h0M110.1 155.1h0M113.3 157.2h0M105.4 157.6h0M112.5 158.7h0M109.1 156.0h0M110.6 159.4h0M100.1 151.5h0M106.0 158.5h0M115.8 151.3h0M100.9 151.2h0M112.9 152.3h0M109.3 159.8h0M105.6 155.5h0M106.8 156.2h0M96.9 148.4h0M103.1 157.7h0M105.7 160.3h0M106.2 156.2h0M114.4 155.9h0M101.2 153.6h0M105.7 159.3h0M97.9 154.7h0M116.7 155.1h0M108.1 154.8h0M108.9 153.9h0M105.8 156.3h0M115.1 157.1h0M104.4 152.3h0M105.9 152.1h0M116.0 156.6h0M113.5 157.6h0M108.6 154.9h0" stroke="#0000ff" stroke-opacity="0.8" stroke-width="1.5" stroke-linecap="square" fill="none"/>
<path d="M89.3 103.75V175.75H125.1" fill="none" stroke="#b4b4b4" stroke-width="1"/>
<path d="M93.80 175.75v1.6M102.60 175.75v1.6M111.40 175.75v1.6M120.20 175.75v1.6" stroke="#777" stroke-width="0.8"/>
<text x="79.25 81.70 86.15" y="119.4" font-size="8" text-anchor="middle" fill="#444444" stroke="#444444" stroke-width="0.18" font-family="Liberation Serif, serif">1.0</text>
<text x="79.25 81.70 86.15" y="143.4" font-size="8" text-anchor="middle" fill="#444444" stroke="#444444" stroke-width="0.18" font-family="Liberation Serif, serif">0.5</text>
<text x="79.25 81.70 86.15" y="167.4" font-size="8" text-anchor="middle" fill="#444444" stroke="#444444" stroke-width="0.18" font-family="Liberation Serif, serif">0.0</text>
<text x="93.8" y="183.7" font-size="7.2" text-anchor="middle" fill="#444444" stroke="#444444" stroke-width="0.08" font-family="Liberation Serif, serif">2</text>
<text x="102.6" y="183.7" font-size="7.2" text-anchor="middle" fill="#444444" stroke="#444444" stroke-width="0.08" font-family="Liberation Serif, serif">4</text>
<text x="111.4" y="183.7" font-size="7.2" text-anchor="middle" fill="#444444" stroke="#444444" stroke-width="0.08" font-family="Liberation Serif, serif">6</text>
<text x="120.2" y="183.7" font-size="7.2" text-anchor="middle" fill="#444444" stroke="#444444" stroke-width="0.08" font-family="Liberation Serif, serif">8</text>
<text y="193.7" font-size="9" fill="#444444" stroke="#444444" stroke-width="0.18" font-family="Liberation Serif, Noto Serif CJK SC, serif"><tspan x="93.7" font-family="Liberation Mono, monospace" font-size="9.5" font-weight="bold" stroke-width="0" textLength="8.6" lengthAdjust="spacingAndGlyphs">Md</tspan><tspan x="103.1">(</tspan><tspan x="107.9" font-size="9.6" stroke-width="0.05">Φ</tspan><tspan x="115.9">)</tspan></text>
<circle cx="98.6" cy="109.8" r="0.75" fill="#0000ff" fill-opacity="0.6"/>
<text transform="scale(0.9,1)" font-size="9.5" text-anchor="middle" fill="#444444" stroke="#444444" stroke-width="0.18" font-family="Liberation Serif, serif"><tspan x="126.03" y="113.7">P</tspan><tspan x="130.09" y="115.60000000000001" font-size="5.89">2</tspan><tspan x="134.15" y="113.7">O</tspan><tspan x="138.21" y="115.60000000000001" font-size="5.89">5</tspan></text>
<path d="M177.6 158.4h0M165.6 148.8h0M183.4 160.5h0M181.3 140.9h0M179.1 152.6h0M173.0 151.8h0M183.7 157.6h0M179.7 154.6h0M170.7 154.6h0M173.6 150.7h0M180.4 140.2h0M170.0 153.6h0M176.0 153.6h0M180.7 160.0h0M179.6 164.8h0M172.2 157.1h0M172.2 155.2h0M174.1 158.9h0M183.2 150.1h0M180.5 155.2h0M181.5 154.3h0M176.0 155.2h0M177.2 155.4h0M182.7 156.1h0M170.1 158.4h0M166.5 156.4h0M176.3 146.5h0M180.2 156.4h0M183.5 150.5h0M182.6 157.4h0M175.1 150.3h0M186.7 154.7h0M179.7 157.7h0M180.7 158.6h0M186.2 155.8h0M166.6 158.2h0M175.1 152.7h0M179.8 156.4h0M178.9 156.9h0M176.0 143.3h0M167.1 153.8h0M178.1 154.7h0M174.6 159.6h0M171.9 157.6h0M175.0 124.7h0M179.6 153.1h0M173.6 122.1h0M169.9 156.7h0M176.8 152.4h0M179.4 158.2h0M174.5 153.2h0M170.4 152.7h0M177.0 142.7h0M170.0 152.5h0M172.7 153.0h0M168.7 153.2h0M181.5 159.9h0M168.7 160.2h0M181.6 153.9h0M172.6 151.9h0M166.6 148.6h0M170.8 150.6h0M172.7 154.5h0M182.5 157.9h0M177.5 157.0h0M180.8 153.9h0M182.9 158.4h0M165.6 156.1h0M169.8 151.9h0M170.8 152.1h0M169.9 151.7h0M171.1 150.8h0M174.7 156.3h0M177.9 151.2h0M175.5 157.6h0M167.5 150.5h0M172.5 157.1h0M179.3 155.5h0M171.7 153.5h0M166.4 146.8h0M181.2 148.9h0M183.6 154.4h0M174.7 154.1h0M166.5 153.2h0M172.2 148.7h0M180.4 151.6h0M180.3 147.6h0" stroke="#0000ff" stroke-opacity="0.7" stroke-width="1.15" stroke-linecap="round" fill="none"/>
<path d="M180.7 155.2h0M177.8 156.4h0M179.4 158.2h0M173.1 130.2h0M170.1 156.8h0M181.7 140.6h0M173.5 149.8h0M179.9 141.1h0M175.2 126.0h0M177.9 145.6h0M167.3 154.6h0M180.2 155.8h0M169.7 155.1h0M173.6 156.7h0M179.7 157.7h0M169.2 153.2h0M178.0 142.2h0M173.6 150.1h0M173.8 152.2h0M179.1 158.3h0M175.4 126.2h0M169.2 153.8h0M184.2 156.4h0M174.6 143.4h0M177.1 153.5h0M176.9 155.5h0M168.2 160.0h0M175.1 159.7h0M180.6 157.8h0M173.7 159.6h0M166.7 149.0h0M172.4 156.4h0M173.2 141.9h0M175.9 147.3h0M178.0 144.1h0M180.2 159.6h0M180.4 151.1h0M179.1 157.3h0M178.4 147.4h0M174.1 154.6h0M167.1 160.4h0M181.4 152.1h0M169.4 156.4h0M164.2 148.5h0M180.3 147.1h0M177.9 142.8h0M174.2 146.9h0M171.0 155.1h0M170.0 152.2h0M170.0 151.5h0M174.3 118.5h0M176.8 158.6h0M183.7 161.9h0M166.2 156.4h0M173.9 155.4h0M184.1 161.4h0M181.4 142.3h0M177.8 145.7h0M179.1 154.5h0M170.7 158.7h0M170.8 154.7h0M180.4 141.0h0M174.7 156.5h0M179.9 154.1h0M180.0 157.3h0M177.3 153.3h0M172.5 153.6h0M167.8 153.2h0M183.7 157.1h0M162.2 148.3h0M175.1 124.7h0M175.5 153.8h0M176.3 159.5h0M174.3 147.2h0M180.5 152.6h0M177.6 153.2h0M178.7 146.9h0M175.7 157.6h0M178.1 156.3h0M180.3 159.2h0M177.9 154.9h0M173.4 153.9h0M178.7 156.7h0M178.9 156.2h0M176.0 150.5h0M181.7 143.1h0M171.0 153.6h0" stroke="#0000ff" stroke-opacity="0.7" stroke-width="1.15" stroke-linecap="round" fill="none"/>
<path d="M169.8 158.3h0M174.6 130.6h0M182.2 156.9h0M185.7 159.0h0M180.9 151.4h0M167.6 156.1h0M182.3 138.8h0M165.6 155.1h0M163.9 145.2h0M166.7 156.1h0M170.7 153.7h0M173.4 133.7h0M171.7 151.9h0M175.6 152.7h0M168.5 154.2h0M183.0 160.5h0M181.5 155.2h0M167.7 160.0h0M188.7 158.3h0M182.0 139.7h0M172.5 152.7h0M170.2 154.1h0M175.9 149.9h0M182.3 159.9h0M171.2 150.7h0M175.3 153.3h0M176.6 142.3h0M179.2 155.7h0M162.9 145.3h0M174.3 154.3h0M186.1 154.5h0M179.3 149.9h0M173.9 160.3h0M179.3 155.9h0M180.5 159.9h0M172.7 156.0h0M171.4 152.9h0M176.7 150.4h0M177.3 149.1h0M182.5 159.7h0M172.3 154.2h0M170.5 156.7h0M178.7 147.8h0M182.9 156.5h0M175.0 147.8h0M167.0 153.9h0M176.4 157.8h0M167.8 153.1h0M176.8 161.7h0M181.3 157.3h0M177.9 145.3h0M179.4 138.2h0M166.6 148.5h0M170.3 152.0h0M183.5 153.2h0M171.6 153.6h0M172.7 153.6h0M182.0 138.1h0M178.2 155.0h0M172.0 151.2h0M176.8 138.1h0M164.5 147.5h0M179.6 156.3h0M170.6 154.8h0M174.2 121.6h0M182.3 144.2h0M178.6 149.6h0M167.5 155.6h0M173.8 155.1h0M175.1 159.0h0M172.5 155.7h0M168.8 157.1h0M182.5 156.3h0M165.7 144.8h0M171.2 154.9h0M183.6 158.3h0M173.5 150.3h0M175.5 150.8h0M168.6 153.7h0M170.7 154.7h0M178.8 153.2h0M170.7 152.1h0M173.6 158.8h0M169.5 160.0h0M166.7 154.5h0M167.4 156.3h0" stroke="#0000ff" stroke-opacity="0.7" stroke-width="1.15" stroke-linecap="round" fill="none"/>
<path d="M157.3 103.75V175.75H193.10000000000002" fill="none" stroke="#b4b4b4" stroke-width="1"/>
<path d="M161.80 175.75v1.6M170.60 175.75v1.6M179.40 175.75v1.6M188.20 175.75v1.6" stroke="#777" stroke-width="0.8"/>
<text x="147.25 149.70 154.15" y="119.4" font-size="8" text-anchor="middle" fill="#444444" stroke="#444444" stroke-width="0.18" font-family="Liberation Serif, serif">1.0</text>
<text x="147.25 149.70 154.15" y="143.4" font-size="8" text-anchor="middle" fill="#444444" stroke="#444444" stroke-width="0.18" font-family="Liberation Serif, serif">0.5</text>
<text x="147.25 149.70 154.15" y="167.4" font-size="8" text-anchor="middle" fill="#444444" stroke="#444444" stroke-width="0.18" font-family="Liberation Serif, serif">0.0</text>
<text x="161.8" y="183.7" font-size="7.2" text-anchor="middle" fill="#444444" stroke="#444444" stroke-width="0.08" font-family="Liberation Serif, serif">2</text>
<text x="170.6" y="183.7" font-size="7.2" text-anchor="middle" fill="#444444" stroke="#444444" stroke-width="0.08" font-family="Liberation Serif, serif">4</text>
<text x="179.4" y="183.7" font-size="7.2" text-anchor="middle" fill="#444444" stroke="#444444" stroke-width="0.08" font-family="Liberation Serif, serif">6</text>
<text x="188.2" y="183.7" font-size="7.2" text-anchor="middle" fill="#444444" stroke="#444444" stroke-width="0.08" font-family="Liberation Serif, serif">8</text>
<text y="193.7" font-size="9" fill="#444444" stroke="#444444" stroke-width="0.18" font-family="Liberation Serif, Noto Serif CJK SC, serif"><tspan x="161.7" font-family="Liberation Mono, monospace" font-size="9.5" font-weight="bold" stroke-width="0" textLength="8.6" lengthAdjust="spacingAndGlyphs">Md</tspan><tspan x="171.1">(</tspan><tspan x="175.9" font-size="9.6" stroke-width="0.05">Φ</tspan><tspan x="183.9">)</tspan></text>
<circle cx="171.8" cy="109.8" r="0.75" fill="#0000ff" fill-opacity="0.6"/>
<text transform="scale(0.9,1)" font-size="9.5" text-anchor="middle" fill="#444444" stroke="#444444" stroke-width="0.18" font-family="Liberation Serif, serif"><tspan x="207.36" y="113.7">S</tspan><tspan x="212.08" y="113.7">r</tspan></text>
<path d="M242.1 150.7h0M237.2 154.2h0M240.5 148.1h0M240.2 142.8h0M248.5 158.4h0M242.7 156.9h0M246.7 156.1h0M244.3 154.1h0M247.5 156.5h0M242.2 160.5h0M245.9 155.2h0M247.7 155.7h0M247.1 156.7h0M247.1 160.8h0M244.0 161.7h0M240.7 153.9h0M247.8 155.8h0M241.6 156.3h0M247.8 159.3h0M248.6 159.1h0M249.9 152.7h0M254.3 152.1h0M253.2 155.7h0M252.5 151.9h0M253.0 157.8h0M245.3 157.1h0M246.9 161.3h0M241.8 152.7h0M245.9 156.2h0M239.4 157.5h0M242.1 156.7h0M247.0 156.5h0M244.7 156.1h0M252.0 158.1h0M244.0 148.7h0M244.4 154.0h0M243.4 155.2h0M250.1 152.8h0M248.6 153.8h0M246.5 157.4h0M247.9 159.0h0M245.8 155.9h0M245.3 151.2h0M247.2 151.7h0M245.4 156.9h0M237.7 142.3h0M246.7 153.7h0M239.1 155.2h0M249.5 157.0h0M242.0 153.3h0M247.6 155.3h0M251.6 152.4h0M245.2 154.0h0M240.3 141.6h0M240.0 160.7h0M240.5 159.2h0M250.5 157.1h0M235.7 150.4h0M253.7 155.5h0M252.4 155.9h0M244.4 150.9h0M246.5 157.2h0M245.0 157.2h0M243.0 157.6h0M244.3 157.6h0M243.0 156.0h0M246.5 155.3h0M242.3 153.7h0M250.7 152.5h0M237.3 151.9h0M244.0 157.6h0M244.4 155.6h0M245.7 155.0h0M253.4 153.9h0M238.6 140.8h0M238.5 158.9h0M243.3 157.1h0M238.6 145.3h0M239.8 132.9h0M245.0 155.6h0M246.6 154.2h0" stroke="#0000ff" stroke-opacity="0.7" stroke-width="1.15" stroke-linecap="round" fill="none"/>
<path d="M241.0 154.2h0M245.9 154.9h0M240.6 156.6h0M247.2 155.3h0M250.7 153.1h0M244.0 152.8h0M242.8 156.9h0M248.7 156.6h0M250.4 154.2h0M246.3 152.9h0M248.1 158.8h0M247.3 157.3h0M244.6 152.8h0M250.1 161.4h0M240.6 148.8h0M242.5 153.1h0M247.9 155.8h0M254.7 154.5h0M243.8 156.7h0M239.0 122.0h0M240.8 160.0h0M243.1 159.7h0M245.4 153.1h0M251.0 153.7h0M254.0 161.7h0M244.8 153.7h0M248.8 154.4h0M248.3 157.6h0M253.6 150.5h0M238.4 151.3h0M243.3 155.1h0M246.2 156.6h0M237.4 142.0h0M248.3 156.9h0M244.0 155.4h0M245.1 156.9h0M247.4 153.9h0M242.2 157.7h0M246.2 160.1h0M248.7 156.7h0M249.3 154.1h0M248.9 153.2h0M247.9 153.1h0M245.1 156.2h0M247.1 158.3h0M248.8 157.5h0M252.2 156.3h0M246.7 150.8h0M252.9 161.0h0M249.3 161.5h0M241.1 161.1h0M247.5 154.3h0M235.8 156.1h0M248.2 161.3h0M251.7 154.3h0M243.9 156.5h0M255.2 151.9h0M247.2 155.0h0M252.3 155.1h0M248.0 152.3h0M248.0 155.6h0M241.2 157.2h0M251.5 154.2h0M247.4 156.4h0M245.8 153.9h0M252.6 161.1h0M240.5 141.4h0M250.3 158.3h0M244.3 156.1h0M248.9 155.1h0M247.4 151.4h0M252.8 152.8h0M247.5 155.5h0M246.6 156.1h0M245.4 161.0h0M243.2 156.1h0M244.9 158.9h0M248.0 157.2h0M249.9 159.3h0M244.0 154.9h0M236.2 152.9h0" stroke="#0000ff" stroke-opacity="0.7" stroke-width="1.15" stroke-linecap="round" fill="none"/>
<path d="M246.9 156.7h0M248.3 153.3h0M237.8 142.8h0M252.8 156.1h0M246.2 156.8h0M246.3 155.8h0M236.2 150.4h0M249.0 155.0h0M245.8 151.2h0M244.0 142.0h0M250.1 158.1h0M238.6 158.6h0M247.3 155.1h0M240.1 147.7h0M250.4 132.0h0M254.7 154.0h0M235.0 155.8h0M240.3 158.9h0M243.2 155.9h0M247.3 155.6h0M241.3 159.1h0M252.3 156.3h0M246.2 151.9h0M250.9 155.7h0M248.4 156.1h0M252.5 154.3h0M249.4 157.2h0M247.0 154.4h0M239.9 157.5h0M252.5 139.5h0M246.4 155.4h0M241.0 156.1h0M253.1 157.8h0M252.3 151.6h0M239.6 146.6h0M252.1 155.1h0M254.1 158.5h0M253.2 153.3h0M245.5 159.3h0M247.5 127.1h0M249.5 158.8h0M247.9 153.6h0M239.0 155.2h0M249.0 155.7h0M239.0 156.9h0M249.7 151.7h0M244.0 154.8h0M241.0 137.0h0M253.4 154.1h0M246.7 151.9h0M245.4 155.4h0M237.2 155.9h0M238.8 142.5h0M240.3 141.6h0M245.3 151.6h0M251.3 157.2h0M245.1 157.2h0M237.9 146.4h0M250.1 157.3h0M237.2 161.0h0M251.9 154.4h0M244.5 155.4h0M238.6 151.8h0M248.4 156.2h0M245.2 156.0h0M245.9 155.5h0M239.3 161.0h0M248.6 158.1h0M243.6 158.2h0M248.7 154.3h0M245.6 151.6h0M249.6 150.4h0M244.5 153.3h0M246.5 156.1h0M240.6 158.4h0M244.9 155.8h0M246.8 155.9h0M251.9 156.6h0M250.5 151.5h0M247.0 158.1h0" stroke="#0000ff" stroke-opacity="0.7" stroke-width="1.15" stroke-linecap="round" fill="none"/>
<path d="M225.3 103.75V175.75H261.1" fill="none" stroke="#b4b4b4" stroke-width="1"/>
<path d="M229.80 175.75v1.6M238.60 175.75v1.6M247.40 175.75v1.6M256.20 175.75v1.6" stroke="#777" stroke-width="0.8"/>
<text x="215.25 217.70 222.15" y="119.4" font-size="8" text-anchor="middle" fill="#444444" stroke="#444444" stroke-width="0.18" font-family="Liberation Serif, serif">1.0</text>
<text x="215.25 217.70 222.15" y="143.4" font-size="8" text-anchor="middle" fill="#444444" stroke="#444444" stroke-width="0.18" font-family="Liberation Serif, serif">0.5</text>
<text x="215.25 217.70 222.15" y="167.4" font-size="8" text-anchor="middle" fill="#444444" stroke="#444444" stroke-width="0.18" font-family="Liberation Serif, serif">0.0</text>
<text x="229.8" y="183.7" font-size="7.2" text-anchor="middle" fill="#444444" stroke="#444444" stroke-width="0.08" font-family="Liberation Serif, serif">2</text>
<text x="238.6" y="183.7" font-size="7.2" text-anchor="middle" fill="#444444" stroke="#444444" stroke-width="0.08" font-family="Liberation Serif, serif">4</text>
<text x="247.4" y="183.7" font-size="7.2" text-anchor="middle" fill="#444444" stroke="#444444" stroke-width="0.08" font-family="Liberation Serif, serif">6</text>
<text x="256.2" y="183.7" font-size="7.2" text-anchor="middle" fill="#444444" stroke="#444444" stroke-width="0.08" font-family="Liberation Serif, serif">8</text>
<text y="193.7" font-size="9" fill="#444444" stroke="#444444" stroke-width="0.18" font-family="Liberation Serif, Noto Serif CJK SC, serif"><tspan x="229.7" font-family="Liberation Mono, monospace" font-size="9.5" font-weight="bold" stroke-width="0" textLength="8.6" lengthAdjust="spacingAndGlyphs">Md</tspan><tspan x="239.1">(</tspan><tspan x="243.9" font-size="9.6" stroke-width="0.05">Φ</tspan><tspan x="251.9">)</tspan></text>
<circle cx="239.9" cy="109.8" r="0.75" fill="#0000ff" fill-opacity="0.6"/>
<text transform="scale(0.9,1)" font-size="9.5" text-anchor="middle" fill="#444444" stroke="#444444" stroke-width="0.18" font-family="Liberation Serif, serif"><tspan x="283.47" y="113.7">Z</tspan><tspan x="288.19" y="113.7">r</tspan></text>
<path d="M311.3 156.3h0M308.3 153.8h0M314.2 153.8h0M308.9 154.1h0M318.3 153.3h0M311.2 153.6h0M313.3 156.2h0M320.2 154.8h0M317.9 157.0h0M305.0 151.7h0M320.3 155.0h0M315.1 145.8h0M320.1 153.3h0M318.6 155.2h0M318.9 157.2h0M313.1 159.7h0M304.4 159.9h0M317.5 153.8h0M317.0 154.8h0M300.7 152.6h0M315.6 154.0h0M307.3 151.3h0M314.9 157.5h0M312.2 136.2h0M306.5 153.4h0M307.9 152.9h0M304.4 153.3h0M319.7 155.6h0M317.0 155.7h0M309.1 150.8h0M318.8 157.0h0M314.9 157.0h0M318.9 155.8h0M307.5 154.7h0M310.4 155.5h0M315.6 143.3h0M303.5 150.7h0M310.4 156.9h0M306.9 150.1h0M305.2 152.3h0M306.9 152.2h0M317.2 156.3h0M318.7 153.4h0M314.4 154.0h0M302.6 152.9h0M316.5 153.8h0M303.9 151.0h0M307.5 155.0h0M306.0 152.8h0M315.6 145.6h0M316.6 157.1h0M315.5 157.0h0M304.9 152.0h0M300.8 155.9h0M316.0 157.3h0M308.9 154.7h0M310.2 155.8h0M314.1 148.7h0M319.6 157.5h0M315.1 158.8h0M318.4 159.8h0M307.0 152.0h0M308.3 154.1h0M301.5 155.1h0M299.7 153.6h0M315.8 155.3h0M315.8 155.4h0M312.2 155.2h0M305.5 153.4h0M307.1 149.0h0M307.8 152.9h0M315.4 158.1h0M316.6 160.5h0M300.6 150.9h0M305.9 153.1h0M298.6 148.5h0M313.8 149.0h0M316.4 156.3h0M313.9 149.3h0M307.0 154.9h0M317.1 144.0h0M310.5 158.3h0M316.7 153.5h0M318.9 157.3h0M316.5 155.4h0" stroke="#0000ff" stroke-opacity="0.7" stroke-width="1.15" stroke-linecap="round" fill="none"/>
<path d="M314.0 154.2h0M300.4 153.0h0M302.2 158.4h0M319.0 155.4h0M320.3 154.8h0M317.3 158.2h0M302.4 156.2h0M314.4 148.5h0M316.9 155.1h0M307.1 155.0h0M316.7 158.2h0M316.7 151.4h0M307.9 151.5h0M307.1 152.2h0M314.6 152.4h0M312.7 156.3h0M309.2 153.2h0M304.7 152.0h0M312.2 149.0h0M301.9 151.8h0M305.9 151.8h0M301.9 158.7h0M308.3 151.3h0M310.1 155.6h0M307.5 149.6h0M308.2 155.4h0M309.8 153.8h0M305.8 148.5h0M315.1 150.0h0M314.7 156.1h0M302.1 151.6h0M305.4 152.2h0M312.5 158.5h0M311.3 155.7h0M314.7 155.1h0M313.3 137.5h0M307.0 153.7h0M306.8 153.8h0M300.7 148.9h0M312.9 156.6h0M305.7 152.1h0M309.2 156.1h0M307.2 152.7h0M318.5 154.8h0M308.2 154.4h0M314.6 156.1h0M314.9 149.3h0M315.1 155.1h0M317.0 122.3h0M311.3 151.4h0M302.1 152.7h0M306.5 151.9h0M301.1 150.8h0M308.1 153.2h0M318.0 153.4h0M301.7 149.4h0M306.6 158.0h0M312.8 158.5h0M320.0 154.1h0M308.6 154.3h0M316.8 155.6h0M311.8 158.2h0M302.9 150.7h0M319.1 153.9h0M307.0 151.9h0M315.1 154.4h0M302.3 151.5h0M319.6 132.5h0M306.7 152.1h0M317.0 157.3h0M308.8 154.2h0M319.3 155.9h0M314.8 158.2h0M314.3 157.0h0M312.5 155.9h0M303.9 150.6h0M303.6 154.7h0M317.6 154.0h0M315.7 153.4h0M307.1 151.4h0M302.5 148.4h0M322.8 148.3h0M308.5 153.8h0M310.5 156.2h0M306.8 153.2h0" stroke="#0000ff" stroke-opacity="0.7" stroke-width="1.15" stroke-linecap="round" fill="none"/>
<path d="M308.6 153.0h0M322.7 149.4h0M313.8 155.9h0M315.1 152.6h0M316.7 153.6h0M304.0 154.6h0M315.6 143.3h0M308.8 149.6h0M314.2 153.8h0M313.9 156.5h0M317.7 156.7h0M316.6 155.7h0M304.4 153.9h0M314.9 152.7h0M318.0 157.5h0M302.4 148.6h0M312.9 154.6h0M316.1 155.3h0M314.9 154.8h0M314.2 153.0h0M313.9 155.0h0M320.0 155.1h0M317.1 153.8h0M305.0 152.3h0M308.3 151.3h0M317.4 153.7h0M307.5 151.0h0M301.4 149.2h0M317.0 158.2h0M319.9 156.0h0M303.7 152.2h0M314.7 153.9h0M310.0 152.5h0M316.8 144.6h0M306.9 152.0h0M308.7 153.4h0M317.3 156.0h0M318.2 159.4h0M303.0 152.0h0M314.4 157.3h0M315.5 156.3h0M305.4 158.0h0M313.3 155.2h0M310.9 152.1h0M299.6 149.6h0M318.4 156.7h0M312.3 154.5h0M314.5 154.0h0M315.5 154.8h0M305.9 153.8h0M314.6 134.9h0M319.6 132.4h0M319.3 134.9h0M315.7 154.0h0M313.5 140.4h0M317.1 159.6h0M315.5 153.0h0M317.3 158.9h0M302.7 158.7h0M315.3 154.1h0M310.6 153.7h0M316.2 157.9h0M320.8 158.9h0M309.9 152.9h0M298.6 151.4h0M309.4 156.9h0M303.9 155.3h0M313.5 153.5h0M315.6 156.4h0M311.7 151.1h0M312.0 154.5h0M307.7 155.9h0M313.8 155.9h0M308.4 153.5h0M301.4 154.4h0M307.2 152.5h0M317.1 157.5h0M319.1 154.2h0M313.6 158.3h0M309.7 152.0h0M310.6 150.5h0M306.0 151.6h0M306.5 149.3h0M307.6 154.0h0" stroke="#0000ff" stroke-opacity="0.7" stroke-width="1.15" stroke-linecap="round" fill="none"/>
<path d="M293.7 103.75V175.75H329.5" fill="none" stroke="#b4b4b4" stroke-width="1"/>
<path d="M298.20 175.75v1.6M307.00 175.75v1.6M315.80 175.75v1.6M324.60 175.75v1.6" stroke="#777" stroke-width="0.8"/>
<text x="283.65 286.10 290.55" y="119.4" font-size="8" text-anchor="middle" fill="#444444" stroke="#444444" stroke-width="0.18" font-family="Liberation Serif, serif">1.0</text>
<text x="283.65 286.10 290.55" y="143.4" font-size="8" text-anchor="middle" fill="#444444" stroke="#444444" stroke-width="0.18" font-family="Liberation Serif, serif">0.5</text>
<text x="283.65 286.10 290.55" y="167.4" font-size="8" text-anchor="middle" fill="#444444" stroke="#444444" stroke-width="0.18" font-family="Liberation Serif, serif">0.0</text>
<text x="298.2" y="183.7" font-size="7.2" text-anchor="middle" fill="#444444" stroke="#444444" stroke-width="0.08" font-family="Liberation Serif, serif">2</text>
<text x="307.0" y="183.7" font-size="7.2" text-anchor="middle" fill="#444444" stroke="#444444" stroke-width="0.08" font-family="Liberation Serif, serif">4</text>
<text x="315.8" y="183.7" font-size="7.2" text-anchor="middle" fill="#444444" stroke="#444444" stroke-width="0.08" font-family="Liberation Serif, serif">6</text>
<text x="324.6" y="183.7" font-size="7.2" text-anchor="middle" fill="#444444" stroke="#444444" stroke-width="0.08" font-family="Liberation Serif, serif">8</text>
<text y="193.7" font-size="9" fill="#444444" stroke="#444444" stroke-width="0.18" font-family="Liberation Serif, Noto Serif CJK SC, serif"><tspan x="298.1" font-family="Liberation Mono, monospace" font-size="9.5" font-weight="bold" stroke-width="0" textLength="8.6" lengthAdjust="spacingAndGlyphs">Md</tspan><tspan x="307.5">(</tspan><tspan x="312.3" font-size="9.6" stroke-width="0.05">Φ</tspan><tspan x="320.3">)</tspan></text>
<circle cx="308.2" cy="109.8" r="0.75" fill="#0000ff" fill-opacity="0.6"/>
<text transform="scale(0.9,1)" font-size="9.5" text-anchor="middle" fill="#444444" stroke="#444444" stroke-width="0.18" font-family="Liberation Serif, serif"><tspan x="359.81" y="113.7">B</tspan><tspan x="364.53" y="113.7">a</tspan></text>
<path d="M378.6 148.6h0M371.1 155.3h0M376.8 147.8h0M385.6 137.0h0M380.7 151.0h0M373.4 156.5h0M380.0 152.2h0M385.6 139.0h0M377.5 144.3h0M386.9 136.5h0M380.9 133.9h0M380.2 147.3h0M380.6 142.7h0M381.1 151.9h0M384.6 134.2h0M375.1 152.6h0M375.7 150.6h0M382.0 143.7h0M377.8 147.9h0M381.0 140.3h0M377.7 149.6h0M377.8 127.7h0M381.9 132.1h0M385.1 126.0h0M384.5 144.6h0M382.6 144.9h0M384.7 145.5h0M376.2 156.9h0M379.5 149.9h0M373.3 159.3h0M378.8 142.1h0M377.0 145.4h0M367.4 162.8h0M376.7 144.6h0M381.5 138.1h0M379.4 149.3h0M380.1 142.6h0M384.7 134.3h0M383.4 140.1h0M379.1 151.6h0M381.9 136.0h0M381.0 140.6h0M386.8 127.2h0M384.3 141.9h0M391.9 123.9h0M382.8 148.6h0M376.1 156.3h0M379.2 155.4h0M381.6 141.0h0M376.8 149.8h0M383.4 132.9h0M376.0 151.4h0M378.3 146.3h0M377.7 143.4h0M382.4 141.1h0M382.5 139.7h0M378.4 158.4h0M382.9 141.9h0M381.4 139.1h0M384.6 133.5h0M382.1 145.3h0M376.1 147.3h0M386.8 138.0h0M380.8 143.2h0M380.4 144.5h0M381.1 149.5h0M384.3 138.9h0M381.4 141.9h0M381.8 139.8h0M379.9 138.8h0M381.1 134.7h0M376.3 152.8h0M381.5 140.2h0M380.3 144.9h0M380.5 149.2h0M382.9 145.5h0M376.9 145.8h0M381.9 148.4h0M383.8 143.7h0M382.7 152.3h0M382.4 142.9h0M379.1 146.8h0M384.8 130.7h0M385.0 121.0h0M382.0 147.7h0M381.6 141.7h0M378.4 145.6h0M378.6 146.3h0M381.2 142.5h0M372.4 147.7h0M386.9 138.5h0M382.4 146.3h0M377.2 144.3h0M381.4 130.5h0M377.5 155.9h0M383.3 135.3h0M378.5 149.7h0M385.0 128.9h0M383.6 136.6h0M376.7 146.8h0M380.0 141.3h0M373.7 147.3h0M380.5 146.9h0M382.9 138.1h0M381.0 152.1h0M379.3 142.6h0M382.8 140.1h0M384.1 139.7h0M382.7 142.1h0M380.0 151.2h0M376.9 147.1h0M381.9 133.3h0M376.1 145.6h0M373.0 144.6h0M381.0 139.4h0M379.7 142.3h0M385.9 143.4h0M383.5 144.5h0M375.0 147.2h0M383.0 135.9h0" stroke="#ff0000" stroke-opacity="0.62" stroke-width="1.15" stroke-linecap="round" fill="none"/>
<path d="M380.8 141.9h0M383.2 137.9h0M378.0 150.7h0M379.8 148.7h0M375.2 149.1h0M380.7 143.9h0M387.4 134.2h0M374.0 143.2h0M382.0 144.7h0M378.8 149.0h0M381.6 136.0h0M374.7 152.8h0M384.7 139.5h0M384.9 139.4h0M381.1 133.3h0M380.6 150.5h0M385.6 138.4h0M379.8 155.1h0M381.0 147.0h0M377.0 156.6h0M383.3 134.9h0M377.3 146.6h0M382.3 146.2h0M378.1 140.3h0M380.6 141.3h0M380.8 139.1h0M372.3 148.3h0M379.3 140.6h0M377.1 146.5h0M384.0 142.7h0M377.3 151.3h0M376.1 145.6h0M375.4 155.3h0M383.3 144.1h0M382.0 130.1h0M372.6 152.8h0M380.4 142.0h0M376.9 144.4h0M382.8 137.6h0M379.9 150.7h0M384.3 138.4h0M379.1 143.2h0M381.6 147.4h0M383.3 135.7h0M379.8 138.3h0M378.2 142.6h0M382.4 141.2h0M382.6 147.2h0M380.3 142.9h0M379.0 148.7h0M379.9 143.7h0M382.1 130.9h0M380.4 145.5h0M382.1 148.5h0M379.6 146.8h0M375.3 158.2h0M386.1 136.5h0M382.6 136.6h0M378.7 145.9h0M374.0 147.2h0M392.1 124.3h0M378.3 133.1h0M383.8 133.0h0M386.4 139.0h0M382.6 141.8h0M381.1 146.6h0M381.9 134.5h0M382.2 140.1h0M379.6 151.4h0M384.9 131.0h0M382.3 134.5h0M385.8 137.4h0M384.4 137.0h0M384.5 146.4h0M380.3 149.3h0M377.4 144.6h0M380.8 141.9h0M379.1 142.9h0M380.3 147.6h0M377.6 139.2h0M379.3 145.8h0M374.7 155.5h0M378.2 148.5h0M375.4 145.3h0M380.6 140.5h0M379.0 142.8h0M382.3 139.9h0M385.3 136.6h0M376.0 151.4h0M376.0 143.5h0M384.4 131.3h0M379.6 136.6h0M379.8 133.6h0M381.6 142.1h0M378.8 149.8h0M377.9 147.5h0M370.1 158.0h0M383.8 146.4h0M380.8 139.8h0M378.6 142.0h0M377.1 147.4h0M379.8 147.3h0M381.2 149.3h0M381.2 138.5h0M376.4 143.4h0M383.1 148.8h0M385.3 132.4h0M378.6 144.2h0M382.9 139.6h0M383.2 139.6h0M384.7 139.2h0M382.8 141.9h0M385.5 125.2h0M378.4 146.7h0M378.5 147.5h0M381.4 142.0h0M380.3 137.4h0M383.1 139.6h0M381.3 147.1h0M381.8 138.8h0" stroke="#ff0000" stroke-opacity="0.62" stroke-width="1.15" stroke-linecap="round" fill="none"/>
<path d="M391.0 142.2h0M381.7 139.9h0M382.2 149.7h0M378.7 147.1h0M378.7 147.0h0M378.6 149.0h0M377.7 150.5h0M384.2 138.6h0M383.0 147.3h0M382.0 150.0h0M374.1 155.4h0M383.3 149.6h0M379.9 140.5h0M375.7 146.2h0M385.0 140.4h0M379.4 147.8h0M381.2 148.7h0M379.0 142.3h0M381.3 141.0h0M375.2 143.8h0M384.8 140.9h0M385.8 137.7h0M382.1 139.3h0M386.0 142.4h0M380.2 145.6h0M379.4 145.2h0M381.0 128.5h0M376.7 151.9h0M384.3 146.1h0M376.2 150.7h0M381.5 145.4h0M379.7 146.8h0M379.5 145.9h0M385.5 131.2h0M382.1 154.6h0M375.8 151.3h0M382.7 144.6h0M380.9 139.6h0M377.0 143.1h0M381.7 132.4h0M379.9 151.4h0M380.6 140.5h0M374.2 152.2h0M388.8 126.4h0M381.4 147.2h0M375.9 153.8h0M376.7 143.5h0M379.0 138.7h0M375.4 146.3h0M381.3 142.2h0M381.5 139.2h0M378.0 141.1h0M378.4 139.2h0M382.5 144.3h0M386.2 142.7h0M378.4 149.9h0M371.2 156.2h0M378.3 136.8h0M381.8 150.6h0M382.0 142.4h0M374.5 160.7h0M380.9 146.2h0M375.9 150.8h0M383.3 131.5h0M382.0 135.1h0M379.5 138.5h0M382.0 141.1h0M378.2 139.0h0M379.9 143.4h0M386.4 117.5h0M381.4 143.3h0M374.7 157.8h0M382.9 142.7h0M381.9 147.6h0M372.4 160.0h0M377.9 146.8h0M378.4 151.1h0M377.9 154.2h0M382.6 140.3h0M384.6 131.4h0M381.1 136.0h0M379.3 142.2h0M382.2 143.2h0M383.7 136.9h0M369.2 150.3h0M381.3 146.5h0M383.8 138.0h0M380.8 145.9h0M379.2 146.5h0M379.7 139.3h0M385.2 128.1h0M384.6 133.4h0M380.9 143.3h0M379.6 155.2h0M381.0 143.5h0M380.2 144.9h0M380.0 145.8h0M373.4 157.7h0M374.1 150.8h0M379.5 140.2h0M381.3 136.4h0M377.1 151.0h0M381.6 148.3h0M379.3 142.5h0M380.3 139.9h0M377.4 143.5h0M381.7 143.8h0M381.5 152.4h0M385.7 138.0h0M372.9 158.3h0M383.9 136.7h0M371.4 150.8h0M378.1 149.6h0M382.9 133.0h0M379.4 145.9h0M381.7 137.4h0M374.1 150.9h0M383.8 128.6h0M384.4 142.9h0M383.7 139.8h0" stroke="#ff0000" stroke-opacity="0.62" stroke-width="1.15" stroke-linecap="round" fill="none"/>
<path d="M361.8 103.75V175.75H397.6" fill="none" stroke="#b4b4b4" stroke-width="1"/>
<path d="M366.30 175.75v1.6M375.10 175.75v1.6M383.90 175.75v1.6M392.70 175.75v1.6" stroke="#777" stroke-width="0.8"/>
<text x="351.75 354.20 358.65" y="119.4" font-size="8" text-anchor="middle" fill="#444444" stroke="#444444" stroke-width="0.18" font-family="Liberation Serif, serif">1.0</text>
<text x="351.75 354.20 358.65" y="143.4" font-size="8" text-anchor="middle" fill="#444444" stroke="#444444" stroke-width="0.18" font-family="Liberation Serif, serif">0.5</text>
<text x="351.75 354.20 358.65" y="167.4" font-size="8" text-anchor="middle" fill="#444444" stroke="#444444" stroke-width="0.18" font-family="Liberation Serif, serif">0.0</text>
<text x="366.3" y="181.2" font-size="4.5" text-anchor="middle" fill="#444444" stroke="#444444" stroke-width="0.08" font-family="Liberation Serif, serif">2</text>
<text x="375.1" y="181.2" font-size="4.5" text-anchor="middle" fill="#444444" stroke="#444444" stroke-width="0.08" font-family="Liberation Serif, serif">4</text>
<text x="383.9" y="181.2" font-size="4.5" text-anchor="middle" fill="#444444" stroke="#444444" stroke-width="0.08" font-family="Liberation Serif, serif">6</text>
<text x="392.7" y="181.2" font-size="4.5" text-anchor="middle" fill="#444444" stroke="#444444" stroke-width="0.08" font-family="Liberation Serif, serif">8</text>
<text y="191.9" font-size="9" fill="#444444" stroke="#444444" stroke-width="0.18" font-family="Liberation Serif, Noto Serif CJK SC, serif"><tspan x="366.2" font-family="Liberation Mono, monospace" font-size="9.5" font-weight="bold" stroke-width="0" textLength="8.6" lengthAdjust="spacingAndGlyphs">Md</tspan><tspan x="375.6">(</tspan><tspan x="380.4" font-size="9.6" stroke-width="0.05">Φ</tspan><tspan x="388.4">)</tspan></text>
<circle cx="378" cy="110" r="0.75" fill="#ff0000" fill-opacity="0.6"/>
<text transform="scale(0.9,1)" font-size="9.5" text-anchor="middle" fill="#444444" stroke="#444444" stroke-width="0.18" font-family="Liberation Serif, serif"><tspan x="437.47" y="113.7">V</tspan></text>
<path d="M443.7 145.7h0M443.0 149.3h0M444.0 149.5h0M448.7 140.5h0M448.3 151.5h0M454.5 132.3h0M443.3 151.9h0M453.3 139.3h0M451.6 133.0h0M450.8 141.4h0M448.9 123.9h0M452.0 138.6h0M441.4 147.5h0M446.3 149.3h0M444.1 143.9h0M443.6 150.8h0M440.6 148.7h0M449.2 136.8h0M444.6 151.2h0M452.5 136.9h0M452.5 140.7h0M446.5 147.6h0M452.3 137.1h0M454.1 137.8h0M449.3 134.7h0M449.7 142.0h0M448.8 139.7h0M443.8 140.2h0M444.7 143.5h0M448.3 141.2h0M443.7 153.8h0M441.4 152.7h0M455.2 129.6h0M444.1 153.3h0M449.9 130.3h0M455.3 129.0h0M443.7 148.1h0M452.8 143.4h0M447.9 135.4h0M448.2 152.5h0M443.6 160.2h0M441.4 152.6h0M447.7 148.8h0M446.5 144.0h0M443.1 156.3h0M448.2 148.2h0M446.4 136.7h0M441.5 148.7h0M447.4 135.3h0M442.8 146.3h0M448.6 133.0h0M439.9 150.3h0M446.0 145.7h0M439.1 155.4h0M439.1 154.1h0M444.3 156.3h0M447.0 159.2h0M444.8 149.9h0M445.9 148.2h0M437.5 155.1h0M455.7 137.3h0M450.9 140.5h0M449.4 143.5h0M450.4 146.9h0M446.7 139.6h0M444.7 153.3h0M447.9 151.0h0M449.8 138.4h0M450.2 132.8h0M452.0 140.7h0M447.1 145.1h0M445.3 136.1h0M445.1 142.1h0M451.3 141.3h0M445.2 145.3h0M445.8 147.1h0M449.5 145.8h0M446.7 143.8h0M449.6 141.7h0M441.0 153.6h0M451.1 143.9h0M452.0 140.9h0M452.3 137.1h0M449.8 147.9h0M442.0 147.9h0M440.7 157.9h0M451.6 121.4h0M452.5 146.0h0M447.3 147.3h0M449.6 144.7h0M454.7 141.5h0M448.7 151.9h0M460.3 124.1h0M445.6 145.4h0M445.0 144.4h0M448.9 145.2h0M454.2 140.8h0M455.5 135.8h0M445.4 145.9h0M449.6 143.1h0M455.3 126.7h0M442.3 156.5h0M448.0 145.8h0M444.5 136.5h0M449.4 141.7h0M443.6 148.4h0M445.7 152.4h0M448.4 140.8h0M445.0 147.4h0M444.8 149.9h0M444.2 147.2h0M446.2 147.2h0M451.9 141.4h0M447.3 138.5h0M441.6 156.6h0M448.2 144.3h0M447.1 146.4h0M453.2 136.4h0M445.8 154.8h0M451.6 139.2h0M449.5 133.8h0M447.3 155.0h0M442.1 156.9h0M446.4 152.7h0M441.1 151.4h0M444.7 140.2h0M453.2 133.9h0M446.8 144.6h0M443.2 155.9h0M453.1 133.1h0" stroke="#ff0000" stroke-opacity="0.62" stroke-width="1.15" stroke-linecap="round" fill="none"/>
<path d="M447.8 138.4h0M447.1 135.5h0M446.0 136.2h0M443.8 149.6h0M456.2 138.0h0M452.4 137.9h0M451.3 130.0h0M444.6 147.0h0M439.3 160.4h0M443.9 151.5h0M452.6 132.5h0M446.7 143.5h0M441.8 155.9h0M449.0 138.3h0M447.0 133.7h0M448.4 142.8h0M444.3 142.5h0M444.1 148.0h0M449.5 145.9h0M447.4 148.7h0M445.2 141.6h0M452.2 135.0h0M454.8 120.2h0M446.8 146.3h0M448.0 139.4h0M448.6 140.4h0M444.2 148.5h0M440.8 152.9h0M448.8 137.1h0M448.4 141.7h0M452.8 137.1h0M446.5 148.8h0M453.8 132.9h0M445.4 147.7h0M453.7 124.1h0M448.6 153.1h0M451.5 132.2h0M451.5 137.1h0M455.0 136.7h0M451.6 140.1h0M449.1 126.3h0M443.0 146.2h0M449.2 139.2h0M447.9 133.5h0M447.0 146.6h0M451.6 133.8h0M449.3 135.1h0M445.5 151.1h0M450.2 142.1h0M445.3 147.4h0M447.0 144.5h0M447.3 143.2h0M449.9 142.4h0M445.6 144.5h0M450.4 138.3h0M449.9 145.2h0M445.0 148.0h0M446.9 144.8h0M450.4 133.3h0M450.4 138.2h0M447.4 150.8h0M449.9 140.4h0M443.0 140.8h0M451.7 142.7h0M447.6 143.9h0M451.8 132.4h0M451.8 146.1h0M444.6 152.2h0M448.8 144.1h0M437.9 159.5h0M441.2 153.5h0M449.9 137.9h0M447.0 143.5h0M453.2 135.0h0M443.9 149.8h0M448.7 150.7h0M453.3 141.1h0M439.3 153.4h0M440.9 151.7h0M452.7 132.2h0M444.9 138.7h0M449.6 144.6h0M452.8 136.0h0M449.5 136.1h0M445.7 151.6h0M455.3 126.8h0M446.3 146.3h0M452.7 131.5h0M449.7 142.5h0M451.6 133.7h0M447.2 149.4h0M451.5 135.1h0M450.4 134.0h0M449.4 138.4h0M441.5 158.5h0M442.9 147.8h0M451.3 141.5h0M459.1 131.2h0M451.3 142.3h0M446.8 145.3h0M439.7 152.5h0M448.0 149.2h0M454.8 133.4h0M450.7 139.2h0M441.0 150.7h0M446.0 155.7h0M451.9 139.0h0M440.2 147.6h0M442.2 155.3h0M445.1 156.3h0M448.9 136.9h0M449.1 147.3h0M446.5 131.8h0M449.6 147.2h0M452.7 137.8h0M449.5 151.4h0M442.2 152.3h0M439.0 145.4h0M449.5 146.0h0M448.0 142.5h0M452.9 134.1h0M450.5 143.4h0M457.6 129.3h0M453.0 146.0h0M452.7 147.0h0M443.6 162.8h0M446.7 147.1h0M454.9 137.8h0M450.1 135.1h0" stroke="#ff0000" stroke-opacity="0.62" stroke-width="1.15" stroke-linecap="round" fill="none"/>
<path d="M453.0 136.9h0M446.3 141.2h0M434.8 163.1h0M451.3 132.4h0M446.1 135.6h0M452.4 147.5h0M449.8 142.7h0M445.0 151.3h0M456.9 136.6h0M443.0 151.5h0M444.3 150.4h0M449.3 146.0h0M451.7 140.5h0M448.3 146.7h0M443.6 152.6h0M446.0 150.2h0M450.8 150.8h0M449.4 136.4h0M446.5 145.4h0M451.8 142.2h0M450.0 139.2h0M447.3 139.9h0M450.4 142.6h0M442.0 149.6h0M452.7 135.0h0M455.3 137.4h0M447.4 149.9h0M445.7 155.2h0M452.0 136.6h0M452.2 141.9h0M456.0 137.0h0M451.8 133.9h0M444.0 150.7h0M454.1 137.4h0M443.2 146.7h0M446.5 143.0h0M452.9 127.2h0M451.2 136.4h0M450.3 134.9h0M445.8 147.9h0M442.6 153.5h0M446.4 143.0h0M444.5 153.5h0M440.0 161.8h0M451.7 134.2h0M449.6 138.6h0M441.3 150.8h0M455.7 137.0h0M450.4 155.3h0M443.0 148.6h0M448.9 136.3h0M446.2 142.7h0M445.1 136.8h0M449.9 135.3h0M453.4 133.6h0M444.3 155.4h0M444.5 145.6h0M448.8 143.1h0M446.1 155.8h0M442.7 150.8h0M446.9 145.4h0M438.3 145.7h0M445.9 144.9h0M445.7 141.0h0M448.7 125.9h0M447.0 143.5h0M450.2 140.1h0M447.5 142.4h0M451.1 138.1h0M451.7 139.6h0M438.3 159.8h0M451.5 142.4h0M444.3 150.3h0M445.8 149.0h0M445.9 152.2h0M458.4 133.2h0M450.0 145.5h0M446.5 147.6h0M436.2 151.2h0M445.3 145.9h0M450.9 139.8h0M441.7 154.8h0M448.0 144.5h0M446.2 153.9h0M451.8 140.5h0M447.4 146.6h0M447.3 145.9h0M452.2 138.5h0M441.0 154.1h0M452.4 143.1h0M451.2 137.9h0M453.8 136.9h0M446.6 149.8h0M449.5 135.3h0M453.6 137.4h0M445.4 141.5h0M451.3 140.4h0M446.4 129.9h0M444.6 145.1h0M450.1 143.0h0M451.5 133.6h0M448.6 143.1h0M444.9 156.6h0M446.8 147.0h0M445.7 147.1h0M445.2 145.7h0M444.0 150.9h0M450.5 148.6h0M450.1 155.5h0M450.1 141.7h0M448.3 153.7h0M448.0 156.3h0M448.0 147.4h0M441.9 145.2h0M446.9 132.5h0M446.7 144.4h0M452.9 151.4h0M445.3 149.4h0M444.1 144.1h0M449.2 145.5h0M446.9 143.1h0M441.6 152.0h0M441.2 148.3h0M451.2 144.7h0M448.6 146.7h0M444.6 152.2h0M449.5 130.6h0M446.7 146.1h0M446.6 159.5h0" stroke="#ff0000" stroke-opacity="0.62" stroke-width="1.15" stroke-linecap="round" fill="none"/>
<path d="M430.1 103.75V175.75H465.90000000000003" fill="none" stroke="#b4b4b4" stroke-width="1"/>
<path d="M434.60 175.75v1.6M443.40 175.75v1.6M452.20 175.75v1.6M461.00 175.75v1.6" stroke="#777" stroke-width="0.8"/>
<text x="420.05 422.50 426.95" y="119.4" font-size="8" text-anchor="middle" fill="#444444" stroke="#444444" stroke-width="0.18" font-family="Liberation Serif, serif">1.0</text>
<text x="420.05 422.50 426.95" y="143.4" font-size="8" text-anchor="middle" fill="#444444" stroke="#444444" stroke-width="0.18" font-family="Liberation Serif, serif">0.5</text>
<text x="420.05 422.50 426.95" y="167.4" font-size="8" text-anchor="middle" fill="#444444" stroke="#444444" stroke-width="0.18" font-family="Liberation Serif, serif">0.0</text>
<text x="434.6" y="183.7" font-size="7.2" text-anchor="middle" fill="#444444" stroke="#444444" stroke-width="0.08" font-family="Liberation Serif, serif">2</text>
<text x="443.4" y="183.7" font-size="7.2" text-anchor="middle" fill="#444444" stroke="#444444" stroke-width="0.08" font-family="Liberation Serif, serif">4</text>
<text x="452.2" y="183.7" font-size="7.2" text-anchor="middle" fill="#444444" stroke="#444444" stroke-width="0.08" font-family="Liberation Serif, serif">6</text>
<text x="461.0" y="183.7" font-size="7.2" text-anchor="middle" fill="#444444" stroke="#444444" stroke-width="0.08" font-family="Liberation Serif, serif">8</text>
<text y="193.7" font-size="9" fill="#444444" stroke="#444444" stroke-width="0.18" font-family="Liberation Serif, Noto Serif CJK SC, serif"><tspan x="434.5" font-family="Liberation Mono, monospace" font-size="9.5" font-weight="bold" stroke-width="0" textLength="8.6" lengthAdjust="spacingAndGlyphs">Md</tspan><tspan x="443.9">(</tspan><tspan x="448.7" font-size="9.6" stroke-width="0.05">Φ</tspan><tspan x="456.7">)</tspan></text>
<circle cx="444.6" cy="110" r="0.75" fill="#ff0000" fill-opacity="0.6"/>
<text transform="scale(0.9,1)" font-size="9.5" text-anchor="middle" fill="#444444" stroke="#444444" stroke-width="0.18" font-family="Liberation Serif, serif"><tspan x="509.92" y="113.7">C</tspan><tspan x="514.64" y="113.7">r</tspan></text>
<path d="M518.5 144.3h0M521.1 138.1h0M522.6 143.4h0M521.6 134.5h0M512.4 144.1h0M514.6 144.6h0M516.6 143.9h0M508.4 141.8h0M521.1 146.8h0M510.3 156.1h0M520.8 139.5h0M517.9 131.7h0M520.3 145.8h0M521.5 139.5h0M521.4 139.5h0M514.7 144.5h0M522.3 141.1h0M512.2 150.4h0M520.5 138.9h0M514.5 145.0h0M519.5 142.4h0M512.1 149.2h0M522.4 148.8h0M522.4 118.5h0M516.2 139.3h0M514.6 145.0h0M519.0 146.9h0M516.8 147.4h0M518.6 139.1h0M520.5 140.6h0M519.3 143.1h0M515.0 130.1h0M511.3 145.1h0M514.6 150.8h0M520.2 142.7h0M521.8 147.2h0M522.0 132.3h0M519.0 138.2h0M519.6 141.1h0M517.3 144.9h0M520.3 137.9h0M514.2 143.6h0M518.8 146.6h0M510.1 144.3h0M514.4 146.8h0M509.8 135.1h0M521.9 134.3h0M517.4 135.7h0M521.3 143.4h0M512.9 146.0h0M518.2 146.0h0M517.0 144.4h0M512.0 147.7h0M514.9 143.8h0M516.3 144.6h0M526.7 144.2h0M513.0 141.9h0M517.1 148.1h0M521.1 148.4h0M515.7 136.0h0M521.1 140.6h0M519.9 140.3h0M520.5 148.9h0M521.2 141.1h0M516.5 135.7h0M511.1 138.7h0M522.1 145.4h0M516.2 142.1h0M519.8 141.4h0M525.5 142.0h0M519.1 146.8h0M516.1 141.5h0M510.3 152.1h0M515.2 140.2h0M519.5 143.1h0M510.7 152.1h0M520.1 144.5h0M517.6 145.5h0M519.5 141.3h0M513.7 147.8h0M515.8 136.9h0M521.4 143.9h0M517.8 149.4h0M517.2 147.2h0M513.6 144.0h0M516.7 146.6h0M513.8 149.2h0M514.7 140.9h0M525.2 138.2h0M516.5 139.6h0M515.8 145.6h0M518.4 141.9h0M514.5 141.7h0M522.1 144.8h0M513.7 143.3h0M507.7 137.6h0M519.6 142.3h0M518.3 132.0h0" stroke="#ff0000" stroke-opacity="0.62" stroke-width="1.15" stroke-linecap="round" fill="none"/>
<path d="M518.5 141.9h0M520.8 140.6h0M515.4 138.6h0M513.3 141.5h0M516.6 143.8h0M517.2 148.3h0M516.4 147.8h0M517.8 132.2h0M512.8 154.8h0M523.6 136.7h0M520.1 143.4h0M518.3 143.0h0M520.7 147.9h0M517.4 134.0h0M518.7 128.5h0M516.4 142.8h0M522.9 144.6h0M517.4 150.9h0M515.6 143.6h0M523.3 139.0h0M514.3 142.5h0M526.1 132.9h0M512.6 134.1h0M520.5 150.0h0M518.8 137.7h0M503.5 151.9h0M516.2 140.4h0M519.4 140.5h0M513.1 151.4h0M514.9 147.6h0M511.8 155.5h0M515.4 144.6h0M524.6 141.6h0M520.2 137.4h0M516.9 136.4h0M519.3 150.2h0M517.2 146.0h0M509.6 145.1h0M514.8 136.6h0M527.5 152.2h0M516.9 146.3h0M517.3 147.3h0M513.0 137.7h0M515.0 146.2h0M515.5 138.4h0M518.0 139.8h0M513.0 140.8h0M520.3 137.1h0M523.7 142.1h0M513.7 139.1h0M513.8 143.7h0M517.6 142.4h0M522.8 151.5h0M512.2 156.5h0M521.9 137.5h0M510.3 133.3h0M514.3 145.2h0M514.9 148.6h0M513.1 142.9h0M523.6 151.2h0M520.9 146.3h0M511.5 147.7h0M515.4 142.8h0M516.1 139.2h0M512.9 130.0h0M517.5 139.9h0M518.4 142.3h0M516.2 143.0h0M522.8 149.4h0M526.4 139.6h0M521.0 140.9h0M525.6 138.9h0M517.7 138.9h0M514.4 142.7h0M514.1 130.9h0M515.8 156.3h0M518.8 144.9h0M515.0 143.4h0M520.3 143.8h0M516.0 148.0h0M524.6 143.6h0M511.1 133.9h0M520.8 144.0h0M515.6 156.0h0M520.9 141.6h0M529.2 126.2h0M513.8 158.4h0M516.1 140.4h0M522.9 141.1h0M515.4 140.2h0M517.0 143.2h0M515.9 146.7h0M514.3 150.9h0M519.3 154.4h0M517.6 138.4h0M514.6 137.1h0M523.1 147.4h0" stroke="#ff0000" stroke-opacity="0.62" stroke-width="1.15" stroke-linecap="round" fill="none"/>
<path d="M517.8 143.9h0M518.7 141.2h0M516.9 135.1h0M517.5 154.9h0M521.9 141.3h0M513.2 146.5h0M521.4 116.5h0M520.7 137.6h0M520.1 122.6h0M521.0 142.9h0M522.0 136.2h0M521.5 141.3h0M513.3 144.6h0M522.9 146.2h0M515.6 151.1h0M512.2 157.1h0M520.7 154.7h0M510.4 142.7h0M515.3 155.4h0M524.7 134.9h0M516.6 145.6h0M522.3 131.1h0M512.3 147.0h0M517.2 143.5h0M517.9 141.5h0M510.8 143.9h0M525.3 146.4h0M515.8 143.1h0M513.8 153.0h0M513.8 140.8h0M518.0 150.6h0M514.4 152.4h0M517.5 144.3h0M528.7 136.6h0M521.2 143.0h0M514.5 139.9h0M521.3 158.1h0M521.3 147.7h0M519.7 154.8h0M519.3 140.7h0M518.7 141.3h0M522.5 147.6h0M522.9 136.1h0M521.5 140.5h0M521.1 143.7h0M519.7 137.8h0M525.6 147.2h0M511.4 144.3h0M517.1 146.8h0M514.5 142.8h0M512.7 154.7h0M515.4 145.6h0M512.7 137.0h0M526.9 139.0h0M514.0 146.1h0M523.8 140.7h0M519.0 155.4h0M519.7 140.6h0M525.7 127.5h0M523.9 139.5h0M520.7 137.4h0M520.3 141.4h0M514.9 143.9h0M523.4 142.9h0M512.7 159.9h0M518.4 135.5h0M520.9 143.6h0M519.9 148.4h0M515.4 149.0h0M515.1 147.8h0M518.4 138.6h0M517.5 140.4h0M516.4 151.5h0M522.0 140.5h0M515.3 142.8h0M519.2 141.4h0M518.8 134.2h0M514.2 142.1h0M520.3 143.1h0M522.9 142.7h0M522.9 142.9h0M521.0 143.8h0M521.1 148.3h0M519.0 143.2h0M523.3 137.2h0M518.1 139.5h0M514.7 143.3h0M520.4 140.3h0M521.3 150.6h0M514.9 146.6h0M520.5 149.9h0M518.6 149.6h0M513.9 146.4h0M517.6 158.0h0M510.3 140.5h0M513.7 144.3h0M516.2 141.6h0" stroke="#ff0000" stroke-opacity="0.62" stroke-width="1.15" stroke-linecap="round" fill="none"/>
<path d="M498.1 103.75V175.75H533.9" fill="none" stroke="#b4b4b4" stroke-width="1"/>
<path d="M502.60 175.75v1.6M511.40 175.75v1.6M520.20 175.75v1.6M529.00 175.75v1.6" stroke="#777" stroke-width="0.8"/>
<text x="488.05 490.50 494.95" y="119.4" font-size="8" text-anchor="middle" fill="#444444" stroke="#444444" stroke-width="0.18" font-family="Liberation Serif, serif">1.0</text>
<text x="488.05 490.50 494.95" y="143.4" font-size="8" text-anchor="middle" fill="#444444" stroke="#444444" stroke-width="0.18" font-family="Liberation Serif, serif">0.5</text>
<text x="488.05 490.50 494.95" y="167.4" font-size="8" text-anchor="middle" fill="#444444" stroke="#444444" stroke-width="0.18" font-family="Liberation Serif, serif">0.0</text>
<text x="502.6" y="183.7" font-size="7.2" text-anchor="middle" fill="#444444" stroke="#444444" stroke-width="0.08" font-family="Liberation Serif, serif">2</text>
<text x="511.4" y="183.7" font-size="7.2" text-anchor="middle" fill="#444444" stroke="#444444" stroke-width="0.08" font-family="Liberation Serif, serif">4</text>
<text x="520.2" y="183.7" font-size="7.2" text-anchor="middle" fill="#444444" stroke="#444444" stroke-width="0.08" font-family="Liberation Serif, serif">6</text>
<text x="529.0" y="183.7" font-size="7.2" text-anchor="middle" fill="#444444" stroke="#444444" stroke-width="0.08" font-family="Liberation Serif, serif">8</text>
<text y="193.7" font-size="9" fill="#444444" stroke="#444444" stroke-width="0.18" font-family="Liberation Serif, Noto Serif CJK SC, serif"><tspan x="502.5" font-family="Liberation Mono, monospace" font-size="9.5" font-weight="bold" stroke-width="0" textLength="8.6" lengthAdjust="spacingAndGlyphs">Md</tspan><tspan x="511.9">(</tspan><tspan x="516.7" font-size="9.6" stroke-width="0.05">Φ</tspan><tspan x="524.7">)</tspan></text>
<circle cx="512.4" cy="110" r="0.75" fill="#ff0000" fill-opacity="0.6"/>
<text transform="scale(0.9,1)" font-size="9.5" text-anchor="middle" fill="#444444" stroke="#444444" stroke-width="0.18" font-family="Liberation Serif, serif"><tspan x="586.47" y="113.7">N</tspan><tspan x="591.19" y="113.7">d</tspan></text>
<path d="M32.3 239.4h0M36.8 237.3h0M43.3 249.9h0M42.8 241.4h0M47.4 228.4h0M43.1 235.3h0M50.3 257.2h0M41.4 257.0h0M37.9 244.2h0M39.8 257.0h0M41.9 226.5h0M47.3 228.3h0M46.8 229.4h0M43.4 256.0h0M44.1 231.3h0M40.8 255.9h0M45.7 221.8h0M37.8 249.7h0M37.9 252.5h0M46.7 233.3h0M43.4 231.4h0M42.7 256.2h0M37.1 241.6h0M32.4 257.4h0M45.1 256.9h0M39.6 229.1h0M44.4 228.7h0M50.2 257.5h0M36.4 257.3h0M43.1 237.3h0M40.5 237.3h0M32.1 235.7h0M44.1 211.5h0M44.6 243.4h0M43.1 226.3h0M40.9 225.9h0M38.6 237.2h0M33.8 243.2h0M40.3 246.6h0M43.5 257.2h0M33.7 242.0h0M41.6 223.5h0M31.7 236.0h0M39.3 221.5h0M44.3 255.5h0M47.9 256.7h0M40.7 251.5h0M40.0 256.8h0M39.9 221.3h0M38.0 237.2h0M38.1 225.7h0M44.9 256.5h0M38.4 238.1h0M32.2 233.0h0M38.0 256.8h0M42.4 228.4h0M45.4 223.6h0M38.8 249.7h0M45.5 256.6h0M44.3 233.1h0M38.8 256.7h0M46.9 224.3h0M37.5 236.0h0M39.6 224.4h0M39.4 231.3h0M45.1 255.3h0M37.1 236.5h0M38.7 235.2h0M44.2 257.1h0M32.2 252.4h0M37.3 231.4h0M45.1 257.1h0M40.4 256.2h0M32.4 250.7h0M34.2 241.6h0M44.8 229.0h0M38.2 247.0h0M41.4 223.8h0M36.6 236.1h0M45.3 230.6h0M38.5 241.0h0M41.8 233.2h0M49.4 256.7h0M43.5 240.7h0M47.8 257.3h0M33.0 245.4h0M38.9 235.9h0M33.1 250.0h0M37.9 237.7h0M44.2 256.8h0M39.8 236.1h0M39.4 240.1h0M45.6 225.6h0M42.9 230.2h0M44.6 234.7h0M43.4 236.0h0M38.4 256.5h0M44.9 247.7h0M43.7 257.1h0M44.9 232.8h0M44.6 225.0h0M38.7 245.9h0M42.2 257.7h0M46.1 231.3h0M39.9 225.7h0M44.0 256.7h0M39.0 238.8h0M40.3 243.6h0M46.9 256.8h0M41.5 257.4h0M44.6 257.8h0M45.0 229.0h0M32.1 256.3h0" stroke="#0000ff" stroke-opacity="0.7" stroke-width="1.15" stroke-linecap="round" fill="none"/>
<path d="M41.5 238.0h0M33.7 242.1h0M47.5 229.1h0M42.8 257.2h0M43.8 239.0h0M43.7 256.9h0M39.0 221.8h0M34.3 247.7h0M45.0 256.5h0M38.8 251.7h0M34.0 250.5h0M44.1 224.8h0M45.2 235.4h0M41.9 257.3h0M39.9 224.9h0M44.2 239.6h0M41.5 227.8h0M40.3 256.4h0M45.9 247.7h0M39.4 244.2h0M43.7 257.2h0M44.4 248.5h0M31.7 245.4h0M43.7 228.4h0M31.8 241.4h0M45.3 256.6h0M44.5 256.5h0M38.8 247.9h0M40.8 256.8h0M35.7 235.2h0M45.5 248.8h0M32.9 242.5h0M44.6 222.1h0M46.4 230.4h0M32.9 238.5h0M38.1 225.7h0M39.7 256.5h0M39.3 248.1h0M37.9 246.9h0M41.6 231.7h0M38.3 250.0h0M38.0 244.3h0M43.7 257.1h0M45.3 257.4h0M35.7 257.1h0M40.0 231.2h0M33.2 253.0h0M46.1 256.6h0M41.5 256.1h0M39.7 234.1h0M42.0 228.6h0M45.4 256.1h0M38.2 223.8h0M43.0 245.8h0M44.7 237.0h0M39.6 237.4h0M40.0 250.5h0M45.3 245.4h0M46.6 241.0h0M45.2 238.0h0M46.3 232.7h0M37.6 222.4h0M40.2 242.8h0M38.7 240.7h0M44.7 257.3h0M48.7 218.1h0M34.9 238.5h0M37.4 236.4h0M43.9 232.4h0M39.2 245.6h0M39.3 244.5h0M46.5 213.5h0M45.4 256.2h0M43.4 227.1h0M45.3 235.4h0M41.5 235.3h0M44.6 255.6h0M44.1 256.0h0M36.4 250.2h0M42.5 255.8h0M36.3 250.5h0M47.0 256.7h0M43.1 255.6h0M35.2 248.9h0M39.7 241.2h0M44.0 221.2h0M32.8 233.7h0M37.8 244.2h0M49.0 257.0h0M48.8 255.7h0M43.4 238.8h0M34.0 250.6h0M45.9 236.2h0M34.2 222.0h0M32.1 257.1h0M42.8 222.7h0M39.6 256.8h0M46.7 239.6h0M43.3 223.4h0M44.0 256.5h0M38.6 251.3h0M38.7 249.3h0M42.1 237.8h0M49.7 256.1h0M44.6 241.0h0M37.6 229.9h0M46.1 210.8h0M41.7 232.2h0M39.1 245.8h0M34.7 252.6h0M48.2 254.2h0M40.4 230.4h0" stroke="#0000ff" stroke-opacity="0.7" stroke-width="1.15" stroke-linecap="round" fill="none"/>
<path d="M39.9 243.9h0M43.5 244.8h0M43.3 235.3h0M47.8 227.7h0M40.3 239.2h0M47.2 256.6h0M39.0 235.7h0M38.2 246.2h0M37.4 223.6h0M34.6 237.7h0M40.3 257.7h0M38.2 257.2h0M40.0 240.5h0M45.0 234.4h0M46.1 223.7h0M43.3 218.2h0M39.0 241.2h0M40.7 227.4h0M44.5 234.9h0M44.7 257.0h0M44.4 256.3h0M49.0 256.9h0M39.3 256.8h0M39.8 256.7h0M43.3 256.4h0M38.1 232.0h0M38.2 231.8h0M42.9 225.4h0M47.8 224.2h0M40.4 237.0h0M40.0 232.6h0M35.1 246.1h0M40.8 237.3h0M39.2 235.7h0M48.5 217.5h0M40.8 229.9h0M36.4 248.4h0M39.1 236.2h0M38.8 246.1h0M43.1 226.5h0M41.2 252.7h0M34.1 242.6h0M37.8 240.3h0M38.7 227.9h0M30.8 241.4h0M45.1 229.1h0M43.0 235.4h0M33.9 241.0h0M39.6 225.5h0M43.3 255.4h0M45.0 239.1h0M37.9 246.3h0M39.9 230.1h0M38.5 216.5h0M47.3 223.7h0M41.9 257.6h0M47.5 221.8h0M37.3 221.4h0M41.9 256.8h0M35.5 247.3h0M46.2 224.4h0M45.4 255.9h0M33.9 255.2h0M39.4 238.1h0M36.9 242.4h0M45.9 224.4h0M31.8 242.7h0M44.3 256.2h0M43.5 235.8h0M41.9 256.8h0M36.8 249.0h0M41.5 257.5h0M37.6 235.9h0M34.1 235.9h0M32.7 244.3h0M42.1 240.4h0M34.1 248.4h0M42.8 256.5h0M35.9 237.3h0M38.2 240.9h0M41.7 231.9h0M40.9 252.3h0M42.5 223.6h0M37.7 224.3h0M39.5 256.3h0M36.0 242.0h0M39.5 236.5h0M48.3 216.8h0M42.4 256.4h0M48.9 256.7h0M35.6 252.4h0M38.6 239.7h0M33.9 242.7h0M47.6 225.8h0M37.9 231.6h0M43.1 226.7h0M40.5 256.5h0M39.0 234.9h0M41.9 230.6h0M34.4 245.5h0M41.0 257.3h0M48.6 253.9h0M39.2 240.8h0M46.3 229.5h0M40.9 225.5h0M39.2 235.1h0M34.3 256.2h0M36.0 244.9h0M44.3 251.0h0M40.3 242.4h0M44.9 225.6h0M37.3 218.8h0" stroke="#0000ff" stroke-opacity="0.7" stroke-width="1.15" stroke-linecap="round" fill="none"/>
<path d="M21.0 199.3V271.3H56.8" fill="none" stroke="#b4b4b4" stroke-width="1"/>
<path d="M25.50 271.3v1.6M34.30 271.3v1.6M43.10 271.3v1.6M51.90 271.3v1.6" stroke="#777" stroke-width="0.8"/>
<text x="10.95 13.40 17.85" y="215.0" font-size="8" text-anchor="middle" fill="#444444" stroke="#444444" stroke-width="0.18" font-family="Liberation Serif, serif">1.0</text>
<text x="10.95 13.40 17.85" y="239.0" font-size="8" text-anchor="middle" fill="#444444" stroke="#444444" stroke-width="0.18" font-family="Liberation Serif, serif">0.5</text>
<text x="10.95 13.40 17.85" y="263.0" font-size="8" text-anchor="middle" fill="#444444" stroke="#444444" stroke-width="0.18" font-family="Liberation Serif, serif">0.0</text>
<text x="25.5" y="279.2" font-size="7.2" text-anchor="middle" fill="#444444" stroke="#444444" stroke-width="0.08" font-family="Liberation Serif, serif">2</text>
<text x="34.3" y="279.2" font-size="7.2" text-anchor="middle" fill="#444444" stroke="#444444" stroke-width="0.08" font-family="Liberation Serif, serif">4</text>
<text x="43.1" y="279.2" font-size="7.2" text-anchor="middle" fill="#444444" stroke="#444444" stroke-width="0.08" font-family="Liberation Serif, serif">6</text>
<text x="51.9" y="279.2" font-size="7.2" text-anchor="middle" fill="#444444" stroke="#444444" stroke-width="0.08" font-family="Liberation Serif, serif">8</text>
<text y="289.6" font-size="9" fill="#444444" stroke="#444444" stroke-width="0.18" font-family="Liberation Serif, Noto Serif CJK SC, serif"><tspan x="25.4" font-family="Liberation Mono, monospace" font-size="9.5" font-weight="bold" stroke-width="0" textLength="8.6" lengthAdjust="spacingAndGlyphs">Md</tspan><tspan x="34.8">(</tspan><tspan x="39.6" font-size="9.6" stroke-width="0.05">Φ</tspan><tspan x="47.6">)</tspan></text>
<circle cx="36.8" cy="203.3" r="0.75" fill="#0000ff" fill-opacity="0.6"/>
<text transform="scale(0.9,1)" font-size="9.5" text-anchor="middle" fill="#444444" stroke="#444444" stroke-width="0.18" font-family="Liberation Serif, serif"><tspan x="57.36" y="206.8">B</tspan><tspan x="62.08" y="206.8">r</tspan></text>
<path d="M113.9 234.2h0M99.9 241.8h0M113.1 234.7h0M105.1 240.7h0M105.7 245.2h0M100.5 245.1h0M113.9 227.7h0M111.5 232.9h0M109.6 240.4h0M112.3 233.2h0M107.9 242.4h0M106.2 246.0h0M111.4 229.6h0M104.2 238.0h0M111.2 233.5h0M115.6 233.9h0M110.6 240.8h0M105.7 241.0h0M111.0 234.4h0M112.7 237.2h0M115.2 237.5h0M111.9 232.3h0M99.1 252.6h0M111.6 231.3h0M108.7 239.9h0M117.3 233.9h0M113.7 229.0h0M109.5 239.2h0M105.1 247.4h0M108.1 240.6h0M107.8 240.1h0M109.8 245.5h0M114.3 231.3h0M112.0 229.8h0M99.7 237.2h0M105.2 241.1h0M112.9 236.3h0M112.9 237.8h0M109.8 231.9h0M114.4 236.2h0M111.3 244.1h0M97.2 262.0h0M104.3 236.2h0M106.9 238.9h0M105.7 239.7h0M111.5 229.5h0M99.8 247.3h0M107.2 240.3h0M113.3 231.8h0M102.5 256.4h0M109.0 249.1h0M107.9 244.2h0M109.2 239.7h0M104.0 245.2h0M105.3 237.2h0M111.9 235.9h0M103.4 246.7h0M113.6 239.1h0M104.1 249.5h0M110.6 240.6h0M106.3 237.1h0M100.7 248.9h0M108.7 240.4h0M107.1 236.9h0M102.6 247.2h0M99.5 247.1h0M108.4 235.1h0M110.4 231.5h0M117.5 238.6h0M109.7 238.8h0M109.0 231.9h0M97.0 249.6h0M111.1 236.4h0M103.7 252.6h0M110.6 242.0h0M107.6 236.0h0M105.3 245.7h0M110.7 245.7h0M103.0 244.5h0M101.1 247.2h0M105.4 242.2h0M109.1 230.7h0M102.0 237.0h0M108.5 234.0h0M102.9 252.3h0M111.0 239.0h0M113.0 232.7h0M109.7 239.9h0M105.3 245.4h0M104.8 248.5h0M109.8 234.5h0M107.0 241.4h0M111.8 236.1h0M103.4 245.1h0M115.8 238.2h0M109.8 237.5h0M105.3 240.0h0M106.6 234.5h0M109.2 243.7h0M106.7 239.5h0M109.8 233.9h0M113.0 229.2h0M113.8 232.3h0M109.5 238.5h0M106.9 244.2h0M112.4 229.5h0M113.6 232.4h0M106.2 236.0h0M110.5 227.8h0M109.9 241.4h0" stroke="#ff0000" stroke-opacity="0.62" stroke-width="1.15" stroke-linecap="round" fill="none"/>
<path d="M113.0 234.9h0M98.5 255.1h0M107.9 232.7h0M112.5 236.8h0M103.8 241.9h0M109.7 238.5h0M115.2 228.4h0M106.7 240.6h0M116.0 232.6h0M109.6 241.9h0M110.2 243.1h0M110.2 232.0h0M111.7 237.0h0M113.6 236.8h0M109.3 237.9h0M110.2 240.6h0M111.9 241.1h0M105.7 239.8h0M102.5 238.6h0M99.5 247.0h0M111.7 232.1h0M113.1 230.2h0M112.5 240.8h0M111.0 237.8h0M107.8 237.5h0M110.9 232.8h0M109.3 232.2h0M108.6 241.4h0M107.8 247.2h0M113.4 230.4h0M106.9 245.8h0M110.0 240.3h0M98.2 250.7h0M102.6 240.0h0M101.7 250.7h0M107.2 243.0h0M107.0 238.0h0M102.9 220.0h0M112.4 240.0h0M106.0 240.0h0M113.6 238.3h0M112.2 233.2h0M106.9 239.7h0M107.8 240.9h0M106.6 237.2h0M105.4 241.5h0M102.6 249.2h0M107.2 246.8h0M115.4 231.5h0M110.6 242.2h0M105.3 240.4h0M108.6 240.2h0M109.2 250.6h0M108.2 238.6h0M104.3 241.0h0M101.6 254.5h0M111.8 234.2h0M114.5 231.5h0M107.2 246.1h0M115.4 215.4h0M100.1 236.5h0M112.8 233.4h0M105.6 242.7h0M107.9 245.9h0M110.4 238.8h0M109.0 240.3h0M106.9 240.7h0M104.3 240.9h0M98.5 248.7h0M108.6 231.7h0M113.2 237.2h0M113.3 233.8h0M105.3 248.9h0M112.2 232.8h0M111.4 234.5h0M111.5 236.1h0M98.3 261.2h0M108.8 240.0h0M104.1 237.6h0M105.6 243.1h0M104.7 238.7h0M104.5 247.7h0M110.8 238.1h0M111.3 242.2h0M107.8 241.2h0M105.5 231.0h0M104.7 249.8h0M105.3 240.6h0M107.0 238.3h0M99.1 252.5h0M103.6 252.3h0M106.8 246.1h0M110.4 237.9h0M111.4 242.6h0M111.7 238.5h0M110.8 236.9h0M109.0 233.0h0M105.0 242.5h0M115.6 234.6h0M109.9 234.8h0M108.1 243.5h0M106.9 241.1h0M103.8 242.4h0M108.2 231.6h0M102.5 238.0h0M104.1 249.2h0M107.4 242.1h0M108.1 235.7h0M107.3 244.6h0" stroke="#ff0000" stroke-opacity="0.62" stroke-width="1.15" stroke-linecap="round" fill="none"/>
<path d="M107.5 242.1h0M103.3 252.4h0M112.9 234.8h0M111.9 237.7h0M111.6 238.3h0M102.6 246.7h0M101.7 251.8h0M110.8 233.1h0M107.4 237.7h0M115.1 238.3h0M107.9 244.7h0M97.9 238.4h0M104.9 238.9h0M109.6 236.8h0M104.1 245.0h0M103.6 251.1h0M116.2 229.5h0M111.4 237.2h0M97.1 250.4h0M110.1 238.2h0M99.1 250.9h0M107.3 237.5h0M106.0 239.2h0M109.8 238.3h0M110.0 241.1h0M104.8 241.0h0M113.6 236.2h0M106.9 240.6h0M111.8 233.9h0M100.6 256.9h0M109.9 235.8h0M105.0 239.1h0M102.6 235.5h0M106.2 240.4h0M103.4 237.7h0M110.0 230.8h0M109.7 237.5h0M108.5 242.7h0M108.6 244.5h0M104.9 249.0h0M112.3 234.5h0M102.7 243.7h0M111.7 236.4h0M95.2 248.9h0M107.7 242.6h0M107.2 241.6h0M107.8 246.8h0M107.2 248.4h0M101.5 244.4h0M102.6 249.9h0M105.5 240.2h0M104.8 248.4h0M117.2 228.4h0M100.4 246.1h0M110.5 236.3h0M111.8 236.3h0M111.4 232.1h0M115.4 234.7h0M112.9 238.4h0M108.2 240.1h0M107.6 239.4h0M104.9 250.3h0M110.2 233.1h0M104.8 239.1h0M102.9 211.5h0M106.7 241.8h0M109.8 242.3h0M116.6 234.9h0M108.6 226.7h0M110.1 241.1h0M103.2 244.2h0M112.2 234.8h0M101.6 244.1h0M110.6 231.7h0M100.1 246.7h0M100.9 240.0h0M108.0 242.1h0M109.5 242.2h0M104.3 241.4h0M103.9 245.7h0M110.2 241.1h0M103.4 237.2h0M106.2 228.1h0M106.9 244.7h0M106.6 234.7h0M116.9 238.2h0M109.4 242.2h0M108.7 240.6h0M109.2 235.5h0M107.6 239.4h0M108.4 242.0h0M108.5 243.9h0M96.8 248.5h0M111.8 239.2h0M112.7 237.1h0M108.7 238.9h0M116.6 236.8h0M108.8 238.0h0M109.7 239.6h0M105.2 247.5h0M105.0 239.0h0M112.6 231.3h0M114.3 237.1h0M102.1 238.0h0M106.1 251.6h0M114.6 239.1h0M110.3 234.5h0M108.3 239.4h0M107.8 248.1h0" stroke="#ff0000" stroke-opacity="0.62" stroke-width="1.15" stroke-linecap="round" fill="none"/>
<path d="M89.3 199.3V271.3H125.1" fill="none" stroke="#b4b4b4" stroke-width="1"/>
<path d="M93.80 271.3v1.6M102.60 271.3v1.6M111.40 271.3v1.6M120.20 271.3v1.6" stroke="#777" stroke-width="0.8"/>
<text x="79.25 81.70 86.15" y="215.0" font-size="8" text-anchor="middle" fill="#444444" stroke="#444444" stroke-width="0.18" font-family="Liberation Serif, serif">1.0</text>
<text x="79.25 81.70 86.15" y="239.0" font-size="8" text-anchor="middle" fill="#444444" stroke="#444444" stroke-width="0.18" font-family="Liberation Serif, serif">0.5</text>
<text x="79.25 81.70 86.15" y="263.0" font-size="8" text-anchor="middle" fill="#444444" stroke="#444444" stroke-width="0.18" font-family="Liberation Serif, serif">0.0</text>
<text x="93.8" y="279.2" font-size="7.2" text-anchor="middle" fill="#444444" stroke="#444444" stroke-width="0.08" font-family="Liberation Serif, serif">2</text>
<text x="102.6" y="279.2" font-size="7.2" text-anchor="middle" fill="#444444" stroke="#444444" stroke-width="0.08" font-family="Liberation Serif, serif">4</text>
<text x="111.4" y="279.2" font-size="7.2" text-anchor="middle" fill="#444444" stroke="#444444" stroke-width="0.08" font-family="Liberation Serif, serif">6</text>
<text x="120.2" y="279.2" font-size="7.2" text-anchor="middle" fill="#444444" stroke="#444444" stroke-width="0.08" font-family="Liberation Serif, serif">8</text>
<text y="289.6" font-size="9" fill="#444444" stroke="#444444" stroke-width="0.18" font-family="Liberation Serif, Noto Serif CJK SC, serif"><tspan x="93.7" font-family="Liberation Mono, monospace" font-size="9.5" font-weight="bold" stroke-width="0" textLength="8.6" lengthAdjust="spacingAndGlyphs">Md</tspan><tspan x="103.1">(</tspan><tspan x="107.9" font-size="9.6" stroke-width="0.05">Φ</tspan><tspan x="115.9">)</tspan></text>
<circle cx="104.7" cy="202.9" r="0.75" fill="#ff0000" fill-opacity="0.6"/>
<text transform="scale(0.9,1)" font-size="9.5" text-anchor="middle" fill="#444444" stroke="#444444" stroke-width="0.18" font-family="Liberation Serif, serif"><tspan x="132.92" y="206.8">C</tspan><tspan x="137.64" y="206.8">e</tspan></text>
<path d="M179.3 242.1h0M170.7 252.7h0M178.3 251.4h0M181.2 239.8h0M176.4 235.8h0M178.4 232.8h0M179.0 246.5h0M176.8 252.2h0M171.9 253.8h0M175.9 239.5h0M172.3 248.3h0M173.4 246.9h0M172.7 247.2h0M162.8 254.2h0M170.8 250.5h0M169.5 248.6h0M174.8 239.0h0M174.8 242.2h0M183.2 238.0h0M177.1 237.2h0M172.3 237.6h0M179.6 238.0h0M177.5 237.2h0M171.5 249.8h0M171.0 252.6h0M180.5 235.4h0M178.0 234.0h0M183.3 236.2h0M180.9 232.9h0M181.8 241.9h0M180.7 238.9h0M181.6 245.9h0M185.8 225.5h0M166.2 255.1h0M176.7 241.5h0M176.3 242.0h0M173.3 243.4h0M179.4 231.6h0M175.0 240.9h0M184.5 224.6h0M181.9 243.3h0M173.2 249.6h0M177.7 238.7h0M180.9 231.2h0M176.9 239.1h0M173.2 240.1h0M177.0 235.7h0M179.2 232.8h0M176.8 239.7h0M177.2 240.1h0M176.3 241.2h0M174.3 250.7h0M171.1 246.1h0M179.5 242.0h0M171.7 238.0h0M179.5 235.6h0M172.2 252.9h0M173.9 249.1h0M174.8 240.3h0M178.3 241.3h0M170.9 253.7h0M173.4 241.0h0M172.1 248.2h0M180.8 249.5h0M169.7 249.6h0M176.9 248.5h0M173.3 247.6h0M183.1 228.5h0M183.7 237.7h0M173.3 241.0h0M170.5 250.6h0M176.6 240.3h0M177.1 245.4h0M176.4 225.3h0M180.8 243.4h0M175.6 248.4h0M178.2 235.7h0M176.9 242.6h0M175.3 242.7h0M180.6 241.2h0M177.2 242.9h0M172.2 246.0h0M169.9 253.9h0M172.8 247.4h0M164.8 258.2h0M182.6 231.0h0M172.7 254.2h0M178.7 237.2h0M178.6 242.0h0M181.7 231.6h0M179.7 246.2h0M173.9 242.4h0M167.0 252.7h0M166.3 253.0h0M174.8 246.0h0M167.5 258.6h0M175.3 247.2h0M176.9 243.1h0M178.4 234.5h0M169.2 251.2h0M172.1 249.5h0M182.0 233.7h0M175.9 240.6h0M175.2 252.0h0M176.8 247.4h0M170.2 242.6h0M179.6 244.5h0M172.0 245.3h0M174.5 242.3h0M170.9 251.3h0M175.6 239.9h0M164.3 246.9h0M172.2 242.9h0M173.9 242.8h0M185.5 242.6h0M172.4 247.0h0M171.2 248.3h0M179.1 243.5h0M170.8 249.9h0M177.9 246.7h0M173.7 233.6h0M176.7 242.7h0M176.5 236.6h0M173.9 240.8h0M182.9 232.0h0M177.9 239.9h0" stroke="#ff0000" stroke-opacity="0.62" stroke-width="1.15" stroke-linecap="round" fill="none"/>
<path d="M178.8 232.0h0M179.8 241.1h0M182.1 232.4h0M177.1 241.0h0M176.2 246.0h0M170.2 249.7h0M172.0 249.5h0M175.2 241.4h0M178.3 244.4h0M173.1 250.9h0M170.5 247.7h0M175.5 250.0h0M173.0 248.5h0M169.8 248.4h0M174.1 241.0h0M167.0 250.0h0M167.8 249.6h0M172.8 246.0h0M173.2 247.4h0M174.7 252.3h0M174.9 241.7h0M179.0 231.9h0M178.9 243.4h0M169.8 247.2h0M166.1 248.4h0M179.6 228.5h0M169.6 250.7h0M171.8 247.8h0M171.4 251.0h0M176.2 243.8h0M173.3 250.1h0M170.5 251.7h0M171.8 245.3h0M179.2 244.0h0M179.0 238.5h0M172.4 247.7h0M169.6 248.4h0M174.2 240.8h0M178.1 235.1h0M173.6 241.6h0M168.6 251.3h0M177.4 239.8h0M172.8 241.6h0M181.5 245.0h0M174.4 241.5h0M179.4 238.3h0M179.8 240.0h0M181.7 237.8h0M175.3 245.5h0M178.6 243.9h0M174.2 247.1h0M178.9 236.3h0M175.2 243.0h0M177.7 246.1h0M175.0 248.7h0M180.8 234.3h0M179.5 237.4h0M177.8 245.1h0M171.7 252.1h0M178.5 234.4h0M178.7 235.4h0M170.8 245.2h0M177.1 243.3h0M168.3 244.8h0M175.3 240.3h0M181.8 234.6h0M173.4 249.9h0M179.2 233.8h0M176.7 234.2h0M183.2 241.7h0M179.6 241.7h0M173.8 231.7h0M173.8 247.0h0M173.5 240.3h0M176.5 241.9h0M181.5 235.3h0M175.6 237.3h0M171.1 252.6h0M178.0 245.9h0M175.0 246.0h0M175.5 247.2h0M182.5 235.5h0M175.3 246.1h0M180.4 237.3h0M162.5 245.8h0M177.3 244.3h0M184.5 223.0h0M171.8 248.9h0M177.1 232.2h0M178.9 238.2h0M180.4 239.5h0M176.4 239.2h0M172.0 247.3h0M178.7 242.1h0M162.2 247.6h0M180.2 240.6h0M177.9 243.6h0M184.3 236.2h0M171.4 251.3h0M173.2 245.6h0M171.8 250.8h0M174.9 253.6h0M176.0 245.2h0M181.2 236.3h0M174.7 248.7h0M170.9 250.3h0M174.2 237.2h0M169.1 248.5h0M178.0 239.4h0M173.6 243.0h0M181.9 235.1h0M176.8 253.7h0M164.9 252.5h0M179.5 244.7h0M174.8 245.6h0M176.0 239.0h0M169.2 250.6h0M181.2 245.5h0M177.1 242.2h0M177.7 230.7h0M173.3 246.4h0M166.3 257.8h0M172.0 243.9h0M179.5 239.9h0M182.2 232.9h0M178.1 240.3h0" stroke="#ff0000" stroke-opacity="0.62" stroke-width="1.15" stroke-linecap="round" fill="none"/>
<path d="M173.5 244.0h0M182.9 235.3h0M170.4 252.0h0M177.5 242.6h0M170.6 244.3h0M171.7 248.9h0M166.5 245.5h0M182.3 234.9h0M171.9 252.3h0M172.1 247.3h0M179.3 239.8h0M182.8 242.0h0M177.7 243.4h0M168.4 249.6h0M180.5 239.6h0M170.7 247.5h0M173.6 248.6h0M173.2 247.2h0M170.4 253.3h0M172.4 258.7h0M174.1 244.1h0M184.2 229.4h0M169.9 254.6h0M169.1 250.8h0M169.0 247.3h0M180.3 231.8h0M175.9 239.0h0M177.2 238.9h0M177.4 239.8h0M179.8 246.5h0M184.6 230.8h0M182.4 250.9h0M172.1 249.6h0M175.6 240.2h0M174.7 257.7h0M175.9 249.2h0M172.8 239.3h0M174.0 250.4h0M179.1 240.6h0M170.7 244.5h0M168.9 250.4h0M170.6 248.7h0M176.8 232.8h0M179.9 239.9h0M180.5 222.9h0M170.9 252.4h0M177.4 232.4h0M177.1 242.8h0M176.7 235.8h0M166.3 253.6h0M171.6 247.5h0M177.1 228.1h0M184.3 231.2h0M177.4 237.0h0M182.9 233.0h0M179.5 232.1h0M181.1 238.1h0M170.2 244.2h0M176.6 237.0h0M178.0 233.8h0M169.2 250.6h0M175.2 243.5h0M177.7 240.3h0M176.2 241.3h0M186.1 230.7h0M167.4 254.1h0M171.6 247.6h0M176.4 244.9h0M171.8 241.8h0M180.6 245.8h0M168.5 260.1h0M187.8 227.0h0M174.0 241.3h0M177.5 241.3h0M182.3 235.2h0M169.4 253.6h0M170.1 256.9h0M178.4 244.2h0M176.0 245.9h0M167.3 247.7h0M179.0 237.1h0M170.8 250.9h0M170.8 242.0h0M168.4 257.3h0M171.1 243.7h0M178.0 238.6h0M167.7 254.7h0M176.9 244.0h0M178.7 241.5h0M173.6 250.1h0M182.5 225.5h0M176.7 249.3h0M171.3 241.7h0M173.9 251.9h0M174.7 241.9h0M179.5 231.1h0M170.0 244.7h0M180.5 237.2h0M172.9 249.7h0M174.4 242.2h0M173.3 243.4h0M172.2 249.2h0M180.0 233.8h0M168.7 247.5h0M171.6 241.5h0M178.1 244.9h0M175.7 248.6h0M175.9 240.6h0M171.6 246.6h0M181.5 231.2h0M174.4 244.0h0M171.3 250.8h0M180.4 224.3h0M172.6 245.2h0M175.3 253.9h0M180.5 221.9h0M166.2 249.3h0M165.9 253.0h0M170.4 253.9h0M171.5 240.3h0M179.9 231.7h0M179.7 243.0h0M172.3 247.3h0M176.3 250.0h0M178.1 229.9h0M176.2 246.4h0" stroke="#ff0000" stroke-opacity="0.62" stroke-width="1.15" stroke-linecap="round" fill="none"/>
<path d="M157.3 199.3V271.3H193.10000000000002" fill="none" stroke="#b4b4b4" stroke-width="1"/>
<path d="M161.80 271.3v1.6M170.60 271.3v1.6M179.40 271.3v1.6M188.20 271.3v1.6" stroke="#777" stroke-width="0.8"/>
<text x="147.25 149.70 154.15" y="215.0" font-size="8" text-anchor="middle" fill="#444444" stroke="#444444" stroke-width="0.18" font-family="Liberation Serif, serif">1.0</text>
<text x="147.25 149.70 154.15" y="239.0" font-size="8" text-anchor="middle" fill="#444444" stroke="#444444" stroke-width="0.18" font-family="Liberation Serif, serif">0.5</text>
<text x="147.25 149.70 154.15" y="263.0" font-size="8" text-anchor="middle" fill="#444444" stroke="#444444" stroke-width="0.18" font-family="Liberation Serif, serif">0.0</text>
<text x="161.8" y="279.2" font-size="7.2" text-anchor="middle" fill="#444444" stroke="#444444" stroke-width="0.08" font-family="Liberation Serif, serif">2</text>
<text x="170.6" y="279.2" font-size="7.2" text-anchor="middle" fill="#444444" stroke="#444444" stroke-width="0.08" font-family="Liberation Serif, serif">4</text>
<text x="179.4" y="279.2" font-size="7.2" text-anchor="middle" fill="#444444" stroke="#444444" stroke-width="0.08" font-family="Liberation Serif, serif">6</text>
<text x="188.2" y="279.2" font-size="7.2" text-anchor="middle" fill="#444444" stroke="#444444" stroke-width="0.08" font-family="Liberation Serif, serif">8</text>
<text y="289.6" font-size="9" fill="#444444" stroke="#444444" stroke-width="0.18" font-family="Liberation Serif, Noto Serif CJK SC, serif"><tspan x="161.7" font-family="Liberation Mono, monospace" font-size="9.5" font-weight="bold" stroke-width="0" textLength="8.6" lengthAdjust="spacingAndGlyphs">Md</tspan><tspan x="171.1">(</tspan><tspan x="175.9" font-size="9.6" stroke-width="0.05">Φ</tspan><tspan x="183.9">)</tspan></text>
<circle cx="173.5" cy="202.9" r="0.75" fill="#ff0000" fill-opacity="0.6"/>
<text transform="scale(0.9,1)" font-size="9.5" text-anchor="middle" fill="#444444" stroke="#444444" stroke-width="0.18" font-family="Liberation Serif, serif"><tspan x="208.81" y="206.8">Z</tspan><tspan x="213.53" y="206.8">n</tspan></text>
<path d="M250.3 226.3h0M247.3 223.5h0M241.1 244.5h0M235.1 241.9h0M244.8 248.7h0M246.7 251.0h0M237.7 240.7h0M246.5 219.4h0M251.2 232.2h0M240.7 244.5h0M244.2 249.3h0M240.3 246.3h0M243.2 234.7h0M238.0 246.4h0M241.0 245.0h0M245.0 237.4h0M234.9 245.6h0M251.9 225.7h0M239.7 221.4h0M244.9 246.9h0M242.1 218.8h0M243.4 234.3h0M236.3 239.2h0M248.7 236.3h0M237.5 238.1h0M243.2 238.4h0M249.3 237.9h0M237.0 240.5h0M244.8 245.4h0M247.1 238.4h0M244.7 237.6h0M240.3 241.7h0M246.3 235.4h0M249.6 231.5h0M248.9 251.2h0M246.8 234.1h0M244.9 235.9h0M236.4 229.0h0M241.0 244.7h0M245.3 235.9h0M243.7 228.2h0M245.9 241.4h0M247.4 231.3h0M245.0 232.0h0M232.5 239.7h0M246.4 257.6h0M237.1 245.7h0M242.1 234.9h0M238.9 242.7h0M238.0 221.0h0M248.2 223.9h0M234.4 238.6h0M243.5 248.6h0M237.5 228.9h0M248.4 232.2h0M242.8 246.6h0M247.9 250.1h0M234.8 250.5h0M238.5 245.9h0M249.5 231.2h0M248.1 229.9h0M240.7 243.4h0M244.2 253.8h0M247.5 243.7h0M251.6 229.1h0M248.9 230.7h0M240.0 241.7h0M242.5 239.4h0M239.9 242.6h0M245.6 236.4h0M238.0 245.2h0M241.7 241.9h0M251.9 217.3h0M235.5 242.0h0M247.3 238.3h0M245.6 241.9h0M244.7 257.3h0M246.9 229.7h0M250.1 229.9h0M248.1 236.3h0M244.6 251.5h0M240.8 242.7h0M249.3 237.5h0M243.4 238.0h0M245.1 240.0h0M245.0 242.0h0M240.4 239.1h0M247.7 249.2h0M244.8 251.4h0M241.1 239.4h0M242.0 247.5h0M244.5 217.7h0M251.1 232.4h0M245.2 231.5h0M247.0 231.6h0M251.2 236.8h0M238.8 243.1h0M245.9 235.5h0M238.5 247.0h0M235.7 246.2h0" stroke="#ff0000" stroke-opacity="0.62" stroke-width="1.15" stroke-linecap="round" fill="none"/>
<path d="M248.2 226.4h0M239.6 247.4h0M233.1 238.5h0M240.2 241.2h0M237.4 245.4h0M242.4 248.2h0M247.6 236.5h0M237.7 241.6h0M243.6 224.4h0M247.2 239.0h0M239.2 243.6h0M251.0 232.5h0M244.2 236.8h0M235.3 245.1h0M251.3 220.9h0M249.1 233.9h0M239.8 240.6h0M237.3 241.2h0M240.7 244.1h0M246.0 238.3h0M241.6 249.3h0M248.4 232.7h0M247.8 255.8h0M248.0 250.1h0M241.9 252.5h0M244.3 236.8h0M242.8 231.0h0M237.5 243.5h0M240.0 244.7h0M252.7 232.8h0M237.7 241.6h0M242.1 255.5h0M243.5 242.8h0M244.8 236.2h0M249.1 233.7h0M248.3 236.6h0M250.1 236.1h0M245.3 243.7h0M232.7 244.1h0M247.6 240.4h0M243.1 237.0h0M239.4 244.1h0M245.3 236.0h0M241.0 239.4h0M244.0 242.1h0M242.8 228.2h0M241.6 244.3h0M240.6 246.5h0M249.7 242.1h0M250.6 229.3h0M249.3 234.4h0M249.3 231.5h0M243.0 231.2h0M242.2 243.0h0M248.4 243.1h0M245.9 233.9h0M239.6 245.8h0M243.6 253.9h0M238.9 245.1h0M242.3 236.9h0M239.8 246.1h0M234.1 242.6h0M240.3 244.6h0M237.7 249.0h0M244.5 225.2h0M245.7 231.5h0M247.5 236.4h0M242.3 242.5h0M248.0 234.7h0M246.8 235.6h0M235.3 237.7h0M247.9 232.5h0M240.1 246.6h0M244.4 234.4h0M244.4 235.2h0M246.5 226.0h0M245.0 241.3h0M237.2 243.3h0M236.6 245.4h0M243.4 243.3h0M247.2 233.2h0M242.3 233.8h0M243.6 227.2h0M246.4 236.3h0M239.2 246.6h0M238.4 243.4h0M248.5 258.6h0M237.8 244.4h0M245.9 239.7h0M237.9 234.7h0M245.9 231.1h0M243.1 227.9h0M240.2 240.4h0M247.9 253.6h0M242.6 220.6h0M246.6 228.9h0M242.2 241.2h0M247.2 237.2h0M248.5 235.1h0M251.8 234.3h0" stroke="#ff0000" stroke-opacity="0.62" stroke-width="1.15" stroke-linecap="round" fill="none"/>
<path d="M241.1 242.7h0M238.5 247.0h0M237.8 241.2h0M249.6 235.2h0M237.6 233.5h0M243.6 254.6h0M245.9 218.4h0M246.8 232.7h0M235.5 244.4h0M249.9 224.0h0M247.3 219.3h0M248.3 228.0h0M249.1 242.6h0M243.9 244.9h0M248.4 235.1h0M246.7 233.2h0M249.7 234.3h0M245.4 238.1h0M241.9 242.7h0M245.2 235.8h0M245.5 237.1h0M251.4 229.3h0M248.7 234.2h0M243.9 243.0h0M242.7 245.8h0M238.8 242.7h0M248.4 219.5h0M242.4 244.1h0M249.7 238.5h0M232.2 231.6h0M250.4 240.8h0M244.3 238.1h0M238.0 242.0h0M241.6 222.9h0M243.5 242.0h0M246.1 234.3h0M244.9 238.2h0M239.6 248.5h0M234.9 244.6h0M247.1 232.4h0M248.2 222.9h0M241.9 241.1h0M239.9 238.1h0M247.9 228.8h0M238.4 244.6h0M236.7 247.7h0M238.8 248.7h0M238.0 243.3h0M244.9 238.3h0M245.6 226.8h0M237.0 246.1h0M247.0 232.4h0M238.2 242.6h0M238.6 225.1h0M240.9 246.5h0M239.2 247.3h0M248.1 231.6h0M236.6 240.5h0M236.0 250.6h0M245.3 244.5h0M248.0 255.0h0M246.2 238.7h0M245.9 237.1h0M245.1 239.5h0M252.1 235.7h0M241.5 244.5h0M240.0 240.2h0M242.0 248.9h0M240.7 244.6h0M243.0 240.4h0M244.4 221.5h0M238.7 243.6h0M250.6 236.1h0M238.4 238.8h0M247.7 228.4h0M248.3 240.4h0M244.3 238.0h0M244.3 233.9h0M246.7 231.4h0M243.8 217.7h0M241.2 240.8h0M246.4 239.0h0M250.8 225.1h0M248.8 232.3h0M239.2 244.2h0M247.8 233.6h0M250.2 242.3h0M233.9 241.7h0M251.2 227.4h0M233.8 246.9h0M235.7 228.1h0M241.0 247.0h0M242.4 249.8h0M247.8 217.7h0M234.5 231.0h0M246.3 230.8h0M243.1 239.8h0M245.4 233.8h0M247.2 239.7h0M231.4 243.3h0" stroke="#ff0000" stroke-opacity="0.62" stroke-width="1.15" stroke-linecap="round" fill="none"/>
<path d="M225.3 199.3V271.3H261.1" fill="none" stroke="#b4b4b4" stroke-width="1"/>
<path d="M229.80 271.3v1.6M238.60 271.3v1.6M247.40 271.3v1.6M256.20 271.3v1.6" stroke="#777" stroke-width="0.8"/>
<text x="215.25 217.70 222.15" y="215.0" font-size="8" text-anchor="middle" fill="#444444" stroke="#444444" stroke-width="0.18" font-family="Liberation Serif, serif">1.0</text>
<text x="215.25 217.70 222.15" y="239.0" font-size="8" text-anchor="middle" fill="#444444" stroke="#444444" stroke-width="0.18" font-family="Liberation Serif, serif">0.5</text>
<text x="215.25 217.70 222.15" y="263.0" font-size="8" text-anchor="middle" fill="#444444" stroke="#444444" stroke-width="0.18" font-family="Liberation Serif, serif">0.0</text>
<text x="229.8" y="279.2" font-size="7.2" text-anchor="middle" fill="#444444" stroke="#444444" stroke-width="0.08" font-family="Liberation Serif, serif">2</text>
<text x="238.6" y="279.2" font-size="7.2" text-anchor="middle" fill="#444444" stroke="#444444" stroke-width="0.08" font-family="Liberation Serif, serif">4</text>
<text x="247.4" y="279.2" font-size="7.2" text-anchor="middle" fill="#444444" stroke="#444444" stroke-width="0.08" font-family="Liberation Serif, serif">6</text>
<text x="256.2" y="279.2" font-size="7.2" text-anchor="middle" fill="#444444" stroke="#444444" stroke-width="0.08" font-family="Liberation Serif, serif">8</text>
<text y="289.6" font-size="9" fill="#444444" stroke="#444444" stroke-width="0.18" font-family="Liberation Serif, Noto Serif CJK SC, serif"><tspan x="229.7" font-family="Liberation Mono, monospace" font-size="9.5" font-weight="bold" stroke-width="0" textLength="8.6" lengthAdjust="spacingAndGlyphs">Md</tspan><tspan x="239.1">(</tspan><tspan x="243.9" font-size="9.6" stroke-width="0.05">Φ</tspan><tspan x="251.9">)</tspan></text>
<circle cx="241.3" cy="202.9" r="0.75" fill="#ff0000" fill-opacity="0.6"/>
<text transform="scale(0.9,1)" font-size="9.5" text-anchor="middle" fill="#444444" stroke="#444444" stroke-width="0.18" font-family="Liberation Serif, serif"><tspan x="284.69" y="206.8">R</tspan><tspan x="289.42" y="206.8">b</tspan></text>
<path d="M310.5 239.5h0M309.0 241.5h0M312.4 241.1h0M314.0 238.3h0M317.7 236.2h0M313.0 235.2h0M319.0 237.7h0M310.0 249.0h0M312.1 240.0h0M307.9 239.6h0M308.1 248.1h0M309.0 240.0h0M315.9 243.2h0M305.2 245.5h0M318.4 233.3h0M314.0 245.0h0M312.4 238.6h0M318.3 234.7h0M319.7 238.3h0M315.0 232.1h0M317.1 236.1h0M311.7 239.9h0M304.4 245.7h0M305.0 248.8h0M309.5 249.5h0M309.1 242.7h0M308.4 253.8h0M313.1 245.5h0M309.2 239.8h0M310.5 242.7h0M303.6 241.5h0M305.6 249.4h0M307.8 242.2h0M307.0 240.8h0M313.6 236.6h0M318.9 237.3h0M308.3 246.9h0M308.1 237.8h0M307.4 244.0h0M313.1 238.8h0M316.3 243.1h0M315.8 230.5h0M304.5 244.6h0M310.9 244.7h0M314.7 235.9h0M311.3 234.9h0M306.7 241.9h0M309.4 250.3h0M323.2 236.4h0M306.0 238.4h0M306.1 246.2h0M307.0 245.3h0M313.6 237.8h0M319.3 237.2h0M319.0 211.5h0M308.2 243.8h0M311.0 234.5h0M304.6 245.3h0M306.7 241.0h0M313.2 234.2h0M316.1 229.3h0M315.4 233.8h0M311.5 236.6h0M309.2 240.6h0M313.4 233.9h0M314.4 231.0h0M311.9 237.7h0M314.1 238.5h0M309.0 231.4h0M316.2 235.3h0M303.0 250.0h0M309.5 241.3h0M311.7 245.4h0M312.2 239.6h0M314.0 235.0h0M309.6 243.6h0M314.4 234.9h0M313.7 237.0h0M316.7 231.2h0M311.0 237.4h0M309.5 237.2h0M312.1 234.8h0M315.2 237.6h0M305.5 243.4h0M307.4 236.8h0M309.2 240.8h0M313.0 242.8h0M309.4 240.2h0M316.1 239.2h0M308.7 249.1h0M322.5 226.1h0M306.7 237.5h0M312.5 239.0h0M310.1 245.4h0M310.8 238.3h0M314.3 235.0h0M309.9 242.7h0M317.2 236.0h0M313.2 240.9h0M310.0 240.8h0M309.7 239.2h0M311.0 241.8h0M320.1 234.5h0M307.3 242.2h0M316.4 234.5h0M311.2 240.4h0M315.9 234.2h0M307.2 249.4h0M309.7 243.2h0M306.6 257.4h0M318.7 234.8h0M314.7 241.2h0M315.3 232.5h0M302.1 249.8h0" stroke="#ff0000" stroke-opacity="0.62" stroke-width="1.15" stroke-linecap="round" fill="none"/>
<path d="M313.2 236.9h0M304.2 246.6h0M307.8 243.4h0M310.7 241.5h0M306.4 257.0h0M311.7 238.9h0M308.6 235.7h0M314.0 241.9h0M307.2 246.2h0M317.5 238.8h0M309.5 241.8h0M306.1 245.1h0M320.0 239.9h0M306.2 251.8h0M303.4 245.8h0M308.5 252.7h0M309.1 246.9h0M309.7 245.9h0M301.5 246.1h0M316.3 244.8h0M311.2 235.1h0M298.9 252.6h0M318.8 231.5h0M318.5 240.7h0M312.9 237.5h0M309.0 243.3h0M311.8 234.7h0M318.5 239.5h0M315.8 232.3h0M309.2 240.1h0M312.3 240.1h0M308.9 239.8h0M310.1 243.3h0M310.8 242.5h0M316.9 236.2h0M300.5 248.3h0M313.2 234.3h0M308.6 243.9h0M313.0 239.0h0M309.5 243.2h0M312.2 232.0h0M310.6 247.4h0M306.4 235.1h0M315.4 229.7h0M313.4 243.4h0M313.0 236.3h0M319.9 232.3h0M306.5 244.7h0M320.5 233.6h0M315.2 239.6h0M307.4 245.1h0M314.4 239.2h0M315.6 228.8h0M311.2 239.9h0M314.9 238.0h0M313.9 242.5h0M317.9 233.4h0M309.3 242.4h0M313.9 237.3h0M299.7 253.0h0M318.4 235.2h0M316.5 235.2h0M308.3 257.3h0M307.8 236.4h0M319.5 234.1h0M314.1 242.7h0M309.7 241.3h0M316.0 235.6h0M306.8 238.4h0M305.1 247.3h0M312.7 240.1h0M309.5 246.3h0M308.8 243.0h0M314.4 238.4h0M307.6 252.8h0M313.1 234.3h0M307.3 244.2h0M313.1 243.0h0M311.0 245.9h0M315.2 235.0h0M312.7 247.1h0M308.4 239.4h0M312.2 236.6h0M312.3 239.4h0M307.6 242.2h0M315.2 235.6h0M315.1 240.4h0M307.4 249.4h0M307.4 240.7h0M314.5 238.2h0M310.7 236.1h0M309.4 245.9h0M308.5 239.4h0M308.9 241.1h0M312.2 241.6h0M308.7 240.2h0M312.6 241.9h0M312.7 241.4h0M315.6 239.3h0M305.8 237.2h0M313.0 240.4h0M314.0 238.0h0M312.0 233.3h0M307.3 244.7h0M313.1 235.3h0M317.3 233.9h0M314.6 240.1h0M312.0 242.5h0M306.0 245.9h0M308.7 238.4h0M318.2 235.2h0M318.3 236.3h0M316.1 238.8h0M311.0 242.8h0" stroke="#ff0000" stroke-opacity="0.62" stroke-width="1.15" stroke-linecap="round" fill="none"/>
<path d="M313.0 240.1h0M319.8 236.5h0M314.0 236.6h0M311.6 230.1h0M309.2 248.5h0M302.6 256.3h0M307.4 243.7h0M315.8 236.4h0M308.6 238.3h0M313.5 238.9h0M313.1 237.4h0M309.7 243.2h0M309.4 240.0h0M313.9 243.9h0M302.0 236.8h0M312.4 243.0h0M317.2 233.7h0M315.4 233.4h0M318.6 236.6h0M311.2 243.4h0M307.4 217.3h0M316.6 233.1h0M304.5 243.4h0M312.7 244.6h0M310.8 235.8h0M309.7 240.2h0M318.7 228.4h0M319.8 231.1h0M311.8 232.7h0M312.8 231.3h0M320.7 232.3h0M310.1 237.5h0M311.0 247.1h0M316.3 234.4h0M304.8 249.6h0M315.4 234.5h0M310.3 245.4h0M313.4 246.5h0M311.7 238.1h0M313.9 237.4h0M314.7 242.2h0M308.9 242.5h0M315.5 237.6h0M317.8 227.6h0M312.0 244.4h0M312.9 241.9h0M308.0 239.2h0M309.0 238.8h0M310.4 246.2h0M314.6 237.0h0M309.2 232.3h0M312.3 238.9h0M314.7 231.1h0M302.1 248.8h0M314.8 237.3h0M311.6 233.6h0M303.2 248.0h0M317.3 240.4h0M302.3 246.0h0M315.4 234.7h0M309.1 235.5h0M311.1 240.3h0M309.9 236.6h0M309.6 244.7h0M312.7 235.2h0M309.6 250.4h0M316.9 235.8h0M312.9 233.7h0M314.1 236.3h0M306.6 247.0h0M309.4 238.2h0M309.7 241.2h0M308.6 240.8h0M313.8 246.7h0M312.9 237.4h0M309.9 243.7h0M317.6 233.4h0M315.6 235.0h0M311.9 233.9h0M313.4 243.2h0M314.1 242.5h0M311.7 235.0h0M306.9 239.9h0M316.7 240.1h0M317.7 238.0h0M310.6 243.7h0M298.9 248.8h0M309.5 242.0h0M313.1 235.1h0M315.8 235.1h0M311.8 245.1h0M311.4 245.8h0M319.5 235.6h0M311.2 242.1h0M313.2 234.7h0M300.7 250.2h0M308.2 233.2h0M304.4 243.7h0M305.9 244.6h0M313.0 236.1h0M308.6 245.1h0M307.9 248.2h0M309.8 239.4h0M313.0 239.6h0M304.9 236.0h0M309.6 243.1h0M308.3 245.9h0M316.1 235.8h0M317.9 240.8h0M306.5 244.2h0M305.8 239.5h0M318.6 238.6h0M309.6 245.9h0" stroke="#ff0000" stroke-opacity="0.62" stroke-width="1.15" stroke-linecap="round" fill="none"/>
<path d="M293.7 199.3V271.3H329.5" fill="none" stroke="#b4b4b4" stroke-width="1"/>
<path d="M298.20 271.3v1.6M307.00 271.3v1.6M315.80 271.3v1.6M324.60 271.3v1.6" stroke="#777" stroke-width="0.8"/>
<text x="283.65 286.10 290.55" y="215.0" font-size="8" text-anchor="middle" fill="#444444" stroke="#444444" stroke-width="0.18" font-family="Liberation Serif, serif">1.0</text>
<text x="283.65 286.10 290.55" y="239.0" font-size="8" text-anchor="middle" fill="#444444" stroke="#444444" stroke-width="0.18" font-family="Liberation Serif, serif">0.5</text>
<text x="283.65 286.10 290.55" y="263.0" font-size="8" text-anchor="middle" fill="#444444" stroke="#444444" stroke-width="0.18" font-family="Liberation Serif, serif">0.0</text>
<text x="298.2" y="279.2" font-size="7.2" text-anchor="middle" fill="#444444" stroke="#444444" stroke-width="0.08" font-family="Liberation Serif, serif">2</text>
<text x="307.0" y="279.2" font-size="7.2" text-anchor="middle" fill="#444444" stroke="#444444" stroke-width="0.08" font-family="Liberation Serif, serif">4</text>
<text x="315.8" y="279.2" font-size="7.2" text-anchor="middle" fill="#444444" stroke="#444444" stroke-width="0.08" font-family="Liberation Serif, serif">6</text>
<text x="324.6" y="279.2" font-size="7.2" text-anchor="middle" fill="#444444" stroke="#444444" stroke-width="0.08" font-family="Liberation Serif, serif">8</text>
<text y="289.6" font-size="9" fill="#444444" stroke="#444444" stroke-width="0.18" font-family="Liberation Serif, Noto Serif CJK SC, serif"><tspan x="298.1" font-family="Liberation Mono, monospace" font-size="9.5" font-weight="bold" stroke-width="0" textLength="8.6" lengthAdjust="spacingAndGlyphs">Md</tspan><tspan x="307.5">(</tspan><tspan x="312.3" font-size="9.6" stroke-width="0.05">Φ</tspan><tspan x="320.3">)</tspan></text>
<circle cx="307.7" cy="202.9" r="0.75" fill="#ff0000" fill-opacity="0.6"/>
<text transform="scale(0.9,1)" font-size="9.5" text-anchor="middle" fill="#444444" stroke="#444444" stroke-width="0.18" font-family="Liberation Serif, serif"><tspan x="358.47" y="206.8">L</tspan><tspan x="363.19" y="206.8">a</tspan></text>
<path d="M376.7 254.7h0M373.7 248.0h0M386.4 224.0h0M388.6 246.2h0M389.8 247.7h0M377.6 250.8h0M380.6 244.3h0M376.6 254.9h0M390.0 243.7h0M375.1 253.1h0M376.4 255.9h0M381.8 233.5h0M385.5 248.0h0M382.6 250.2h0M374.7 249.8h0M381.7 238.7h0M380.5 254.1h0M370.6 248.3h0M381.6 240.5h0M377.6 252.5h0M385.2 242.9h0M380.4 245.9h0M386.8 239.2h0M376.8 249.5h0M385.8 232.0h0M386.7 243.4h0M372.5 251.5h0M370.9 254.4h0M370.1 252.1h0M385.2 243.4h0M384.7 240.4h0M382.9 241.9h0M375.1 247.4h0M387.6 242.7h0M384.9 239.5h0M388.4 244.2h0M377.4 230.8h0M374.5 253.7h0M372.5 253.3h0M370.5 248.8h0M379.2 233.2h0M376.2 247.9h0M372.7 250.0h0M380.4 243.9h0M379.0 246.6h0M369.9 248.1h0M381.2 231.3h0M377.5 246.5h0M386.1 240.7h0M377.5 246.8h0M385.1 243.1h0M376.6 248.8h0M381.9 246.7h0M376.3 248.5h0M387.8 244.6h0M388.5 244.4h0M373.4 251.1h0M369.0 251.7h0M370.8 251.8h0M376.5 227.1h0M383.6 235.4h0M384.0 239.9h0M382.0 240.4h0M382.2 245.4h0M377.5 245.3h0M379.5 253.4h0M383.0 240.4h0M383.8 240.8h0M386.2 243.6h0M388.3 240.1h0M375.4 255.2h0M371.2 250.5h0M389.1 245.1h0M376.9 249.9h0M380.2 243.8h0M375.1 231.9h0M372.5 246.6h0M387.6 242.2h0M376.4 244.9h0M383.7 248.1h0M385.9 244.1h0M373.5 249.0h0M387.4 247.8h0M385.5 250.6h0M380.2 241.4h0M381.4 246.8h0M382.1 246.6h0" stroke="#ff0000" stroke-opacity="0.62" stroke-width="1.15" stroke-linecap="round" fill="none"/>
<path d="M380.4 243.7h0M384.6 242.8h0M373.0 250.8h0M386.6 236.1h0M384.9 244.0h0M383.6 247.5h0M372.0 254.0h0M387.0 241.2h0M374.2 253.6h0M377.4 226.9h0M376.9 253.7h0M387.1 230.5h0M380.3 246.5h0M375.6 253.3h0M378.3 246.2h0M387.9 239.4h0M384.2 242.0h0M376.3 248.9h0M375.4 253.9h0M387.1 241.5h0M389.2 240.3h0M375.9 248.6h0M387.1 241.1h0M382.6 249.7h0M371.8 251.5h0M377.9 226.7h0M380.6 241.5h0M382.5 250.4h0M373.1 255.5h0M378.0 242.0h0M381.7 247.2h0M379.3 239.4h0M374.2 252.1h0M376.2 256.0h0M371.2 251.7h0M376.2 248.3h0M371.9 252.6h0M374.6 250.1h0M387.8 241.5h0M371.5 250.4h0M377.1 250.5h0M373.7 253.2h0M372.6 251.0h0M371.6 248.8h0M383.1 242.4h0M385.2 243.8h0M384.6 245.3h0M374.4 249.1h0M384.9 247.5h0M378.3 251.2h0M376.9 243.8h0M380.2 242.4h0M375.8 247.2h0M379.4 239.5h0M372.4 249.9h0M370.9 256.2h0M381.2 243.0h0M382.8 244.0h0M386.4 237.7h0M371.9 252.5h0M375.5 250.2h0M378.0 252.8h0M386.0 240.8h0M383.8 247.1h0M385.0 237.8h0M369.9 249.5h0M380.0 240.4h0M382.3 238.2h0M374.0 253.2h0M372.2 251.9h0M381.9 244.8h0M378.6 258.1h0M375.2 250.3h0M373.8 253.6h0M372.8 253.0h0M385.0 249.5h0M382.6 237.2h0M377.2 243.6h0M376.0 252.9h0M382.7 240.8h0M384.7 243.1h0M379.4 241.7h0M387.2 245.6h0M375.7 251.2h0M374.1 251.1h0M383.3 237.7h0M371.3 250.6h0" stroke="#ff0000" stroke-opacity="0.62" stroke-width="1.15" stroke-linecap="round" fill="none"/>
<path d="M383.0 244.4h0M374.4 253.2h0M370.4 248.8h0M382.8 244.2h0M381.9 244.6h0M382.9 226.0h0M387.3 239.6h0M372.0 256.5h0M373.3 252.1h0M371.5 256.2h0M384.5 241.1h0M373.8 249.9h0M376.4 259.1h0M378.9 241.9h0M382.0 245.6h0M384.2 242.1h0M379.5 240.5h0M384.3 242.8h0M384.1 244.9h0M385.1 232.0h0M376.6 249.9h0M380.7 239.3h0M376.7 246.5h0M383.6 246.2h0M374.3 254.4h0M377.7 244.5h0M373.1 253.4h0M384.2 240.9h0M376.8 251.0h0M372.0 253.5h0M369.0 252.8h0M377.5 251.0h0M380.3 243.0h0M374.3 246.3h0M381.9 243.4h0M378.6 252.1h0M374.1 253.5h0M383.2 238.1h0M374.2 248.2h0M376.2 251.4h0M374.4 242.5h0M382.2 252.9h0M377.1 252.4h0M381.6 242.5h0M381.9 243.9h0M381.7 245.1h0M383.1 245.0h0M384.8 242.6h0M376.8 255.3h0M385.3 236.6h0M384.0 240.6h0M381.2 244.9h0M379.2 244.3h0M372.4 247.4h0M374.5 242.2h0M389.2 247.0h0M372.1 254.1h0M386.5 245.5h0M374.7 254.7h0M385.1 241.2h0M386.3 235.8h0M372.6 257.7h0M384.1 243.5h0M384.3 249.4h0M386.1 242.8h0M382.7 241.5h0M380.3 252.0h0M385.3 248.0h0M375.5 253.0h0M374.2 254.7h0M376.4 250.7h0M378.7 242.8h0M386.7 248.0h0M375.3 255.5h0M376.7 247.2h0M386.9 247.4h0M391.8 245.9h0M377.7 247.7h0M378.3 258.6h0M386.9 239.6h0M380.2 243.6h0M371.2 251.3h0M383.6 249.2h0M370.2 254.5h0M366.9 248.3h0M378.9 252.7h0M385.1 238.6h0" stroke="#ff0000" stroke-opacity="0.62" stroke-width="1.15" stroke-linecap="round" fill="none"/>
<path d="M361.8 199.3V271.3H397.6" fill="none" stroke="#b4b4b4" stroke-width="1"/>
<path d="M366.30 271.3v1.6M375.10 271.3v1.6M383.90 271.3v1.6M392.70 271.3v1.6" stroke="#777" stroke-width="0.8"/>
<text x="351.75 354.20 358.65" y="215.0" font-size="8" text-anchor="middle" fill="#444444" stroke="#444444" stroke-width="0.18" font-family="Liberation Serif, serif">1.0</text>
<text x="351.75 354.20 358.65" y="239.0" font-size="8" text-anchor="middle" fill="#444444" stroke="#444444" stroke-width="0.18" font-family="Liberation Serif, serif">0.5</text>
<text x="351.75 354.20 358.65" y="263.0" font-size="8" text-anchor="middle" fill="#444444" stroke="#444444" stroke-width="0.18" font-family="Liberation Serif, serif">0.0</text>
<text x="366.3" y="279.2" font-size="7.2" text-anchor="middle" fill="#444444" stroke="#444444" stroke-width="0.08" font-family="Liberation Serif, serif">2</text>
<text x="375.1" y="279.2" font-size="7.2" text-anchor="middle" fill="#444444" stroke="#444444" stroke-width="0.08" font-family="Liberation Serif, serif">4</text>
<text x="383.9" y="279.2" font-size="7.2" text-anchor="middle" fill="#444444" stroke="#444444" stroke-width="0.08" font-family="Liberation Serif, serif">6</text>
<text x="392.7" y="279.2" font-size="7.2" text-anchor="middle" fill="#444444" stroke="#444444" stroke-width="0.08" font-family="Liberation Serif, serif">8</text>
<text y="289.6" font-size="9" fill="#444444" stroke="#444444" stroke-width="0.18" font-family="Liberation Serif, Noto Serif CJK SC, serif"><tspan x="366.2" font-family="Liberation Mono, monospace" font-size="9.5" font-weight="bold" stroke-width="0" textLength="8.6" lengthAdjust="spacingAndGlyphs">Md</tspan><tspan x="375.6">(</tspan><tspan x="380.4" font-size="9.6" stroke-width="0.05">Φ</tspan><tspan x="388.4">)</tspan></text>
<circle cx="377.5" cy="202.9" r="0.75" fill="#ff0000" fill-opacity="0.6"/>
<text transform="scale(0.9,1)" font-size="9.5" text-anchor="middle" fill="#444444" stroke="#444444" stroke-width="0.18" font-family="Liberation Serif, serif"><tspan x="436.03" y="206.8">P</tspan><tspan x="440.75" y="206.8">b</tspan></text>
<path d="M443.1 253.1h0M441.8 243.2h0M448.1 237.8h0M449.2 229.1h0M440.8 239.4h0M440.6 250.8h0M450.5 241.3h0M453.3 232.8h0M453.5 230.9h0M446.3 241.8h0M453.8 232.3h0M453.7 233.4h0M446.7 244.6h0M437.7 248.2h0M441.9 248.1h0M449.6 242.2h0M444.5 249.4h0M448.4 246.2h0M449.7 240.0h0M449.8 228.3h0M448.4 233.9h0M442.3 247.5h0M455.2 228.5h0M455.7 225.6h0M445.4 251.4h0M442.0 254.5h0M446.8 234.6h0M438.3 248.0h0M438.4 249.7h0M444.6 252.5h0M449.1 231.9h0M453.2 247.4h0M454.7 232.8h0M438.9 245.0h0M450.4 231.9h0M452.4 231.4h0M453.6 232.2h0M440.8 258.4h0M441.3 248.9h0M450.5 239.1h0M447.3 234.5h0M438.3 256.6h0M453.7 234.8h0M446.9 243.3h0M452.2 224.7h0M449.4 242.0h0M451.3 243.6h0M444.4 241.7h0M449.4 233.9h0M447.6 240.6h0M445.0 239.0h0M451.0 232.6h0M451.0 230.0h0M451.9 227.0h0M442.7 249.8h0M451.6 241.6h0M443.0 245.0h0M444.9 242.8h0M455.7 229.6h0M452.5 228.4h0M452.4 231.6h0M446.9 240.1h0M453.6 233.1h0M447.6 242.7h0M442.8 252.5h0M448.3 230.0h0M443.7 242.9h0M445.2 244.8h0M454.4 223.4h0M447.4 242.3h0M440.5 257.2h0M446.2 245.1h0M451.6 228.6h0M448.5 244.8h0M441.7 253.5h0M440.0 258.9h0M447.6 236.7h0M447.6 232.7h0M448.4 245.9h0M445.7 245.1h0M444.2 246.2h0M449.4 236.3h0M448.6 238.7h0M454.3 231.6h0M449.1 229.9h0M442.9 249.7h0M448.0 232.1h0M447.8 241.5h0M442.6 246.1h0M452.0 230.2h0M443.1 244.8h0M442.4 243.7h0M446.5 233.9h0M448.5 235.0h0M446.3 235.7h0M452.0 239.3h0M449.9 241.3h0M443.6 232.3h0M455.4 237.4h0M437.0 246.5h0M446.4 244.1h0M451.6 229.2h0M445.2 251.5h0M444.1 247.4h0M447.8 240.2h0M447.8 231.2h0M449.9 223.2h0M448.8 246.4h0M450.2 241.8h0M449.0 230.4h0M448.1 244.6h0M445.8 249.8h0M446.5 230.7h0M447.1 243.3h0M444.1 246.9h0M445.5 241.9h0M450.6 224.3h0M449.9 235.6h0M453.1 226.6h0M446.4 246.3h0M453.2 241.3h0M446.4 244.1h0M443.7 259.3h0M446.5 242.0h0M446.1 232.3h0M447.3 238.5h0M448.6 243.2h0" stroke="#ff0000" stroke-opacity="0.62" stroke-width="1.15" stroke-linecap="round" fill="none"/>
<path d="M446.9 240.2h0M452.5 225.4h0M447.6 236.5h0M452.7 235.2h0M452.1 241.2h0M452.6 241.6h0M450.6 225.4h0M437.8 253.9h0M441.6 247.8h0M451.1 230.7h0M445.8 244.8h0M453.5 224.2h0M450.5 234.6h0M446.8 239.1h0M449.2 239.0h0M453.7 234.2h0M452.5 225.7h0M459.0 227.4h0M446.0 236.3h0M445.8 239.7h0M444.8 238.5h0M442.0 253.2h0M446.6 231.5h0M447.9 243.2h0M451.7 228.0h0M449.4 244.7h0M441.3 248.9h0M455.0 232.5h0M444.0 252.7h0M448.4 234.9h0M443.6 241.1h0M440.0 254.9h0M444.8 226.6h0M445.7 241.8h0M445.7 250.0h0M446.1 240.3h0M454.6 233.3h0M451.1 232.7h0M445.7 244.1h0M451.2 243.4h0M443.9 246.1h0M445.5 242.4h0M452.3 227.1h0M444.6 248.5h0M450.4 237.5h0M448.8 235.3h0M444.7 235.7h0M451.4 238.0h0M450.9 237.0h0M446.8 240.0h0M439.0 251.7h0M453.7 229.0h0M449.0 230.1h0M449.7 236.7h0M453.6 234.6h0M449.9 234.1h0M446.5 234.4h0M441.7 246.1h0M448.9 229.9h0M449.4 235.7h0M448.5 231.1h0M439.5 251.4h0M445.0 233.1h0M444.3 243.1h0M442.0 247.4h0M451.2 227.7h0M450.5 229.1h0M447.0 240.1h0M452.9 230.6h0M452.8 234.7h0M447.3 240.9h0M447.5 235.7h0M438.6 252.6h0M450.8 237.0h0M445.1 245.8h0M444.3 242.9h0M445.8 247.2h0M450.7 230.4h0M445.0 238.0h0M450.6 243.6h0M450.9 225.5h0M449.2 237.7h0M446.1 235.6h0M442.7 247.3h0M447.0 238.4h0M449.1 241.2h0M444.1 239.0h0M453.4 244.8h0M454.0 228.0h0M448.3 231.3h0M448.8 244.1h0M445.4 244.4h0M448.6 219.4h0M450.0 230.1h0M451.9 231.8h0M446.9 234.6h0M451.1 234.6h0M450.6 236.4h0M444.2 237.7h0M445.1 246.5h0M439.8 253.6h0M450.5 242.2h0M445.0 249.9h0M449.2 235.7h0M447.7 241.0h0M454.3 234.1h0M449.5 229.8h0M450.3 234.5h0M445.6 235.8h0M448.6 242.3h0M446.4 249.6h0M451.7 242.8h0M453.0 240.6h0M444.0 246.6h0M454.5 222.6h0M452.7 239.9h0M448.8 230.1h0M449.9 244.2h0M449.3 232.2h0M454.3 224.2h0M444.8 236.5h0M448.7 232.5h0M453.9 232.5h0M450.3 232.6h0M451.5 242.2h0M448.7 238.6h0M451.2 234.8h0" stroke="#ff0000" stroke-opacity="0.62" stroke-width="1.15" stroke-linecap="round" fill="none"/>
<path d="M451.5 229.6h0M446.2 242.5h0M449.2 236.4h0M447.8 238.9h0M445.3 242.2h0M443.0 240.6h0M448.8 244.0h0M441.8 246.7h0M449.0 244.3h0M443.6 237.8h0M447.6 240.1h0M448.1 231.9h0M443.4 249.5h0M443.7 243.7h0M442.1 246.6h0M444.7 252.6h0M455.6 224.6h0M439.6 250.4h0M439.6 250.2h0M450.1 234.9h0M446.5 250.0h0M449.1 245.8h0M446.6 238.7h0M450.4 236.1h0M449.4 232.5h0M450.2 240.5h0M449.6 225.0h0M455.2 230.6h0M449.6 243.2h0M450.2 233.6h0M451.0 228.1h0M446.3 233.5h0M447.5 246.7h0M443.9 243.5h0M456.8 234.4h0M450.3 230.6h0M448.4 245.7h0M445.9 236.6h0M455.0 231.7h0M452.3 223.4h0M445.0 250.2h0M448.5 239.7h0M449.2 232.9h0M446.6 242.7h0M447.2 233.6h0M443.3 246.5h0M448.7 240.7h0M445.0 242.4h0M450.7 242.2h0M447.4 234.2h0M444.6 244.6h0M449.0 226.1h0M449.7 227.2h0M450.9 242.9h0M447.3 239.5h0M445.0 246.0h0M449.5 239.4h0M451.2 235.8h0M451.3 235.2h0M450.6 230.8h0M451.2 244.3h0M449.2 245.1h0M446.0 247.4h0M454.5 228.1h0M446.3 239.1h0M442.9 255.2h0M450.4 229.4h0M446.6 230.9h0M447.7 236.7h0M446.8 240.3h0M449.2 229.0h0M453.1 231.3h0M448.0 236.3h0M442.0 253.0h0M453.4 233.4h0M453.7 231.0h0M446.8 239.2h0M440.1 251.7h0M446.8 242.0h0M448.2 234.2h0M445.9 249.3h0M441.9 252.3h0M440.9 250.1h0M440.7 248.8h0M448.5 236.8h0M443.2 251.8h0M444.6 249.5h0M447.1 242.0h0M443.5 250.4h0M445.3 246.8h0M449.3 237.8h0M442.6 251.3h0M448.4 230.4h0M453.3 230.4h0M446.2 246.7h0M457.2 233.3h0M448.5 241.4h0M450.9 227.2h0M450.5 242.0h0M440.0 245.8h0M441.9 246.3h0M447.3 234.8h0M446.0 236.2h0M441.5 249.8h0M448.1 247.9h0M453.5 244.4h0M450.7 245.0h0M447.6 240.4h0M447.8 233.9h0M451.3 225.0h0M448.0 244.4h0M448.1 239.5h0M453.1 227.9h0M450.8 229.2h0M444.3 250.7h0M447.1 229.6h0M451.4 231.2h0M451.6 240.6h0M444.1 251.5h0M445.2 239.0h0M453.7 232.4h0M449.3 234.9h0M451.0 235.3h0M448.2 239.1h0M448.1 236.7h0M453.4 233.6h0" stroke="#ff0000" stroke-opacity="0.62" stroke-width="1.15" stroke-linecap="round" fill="none"/>
<path d="M430.1 199.3V271.3H465.90000000000003" fill="none" stroke="#b4b4b4" stroke-width="1"/>
<path d="M434.60 271.3v1.6M443.40 271.3v1.6M452.20 271.3v1.6M461.00 271.3v1.6" stroke="#777" stroke-width="0.8"/>
<text x="420.05 422.50 426.95" y="215.0" font-size="8" text-anchor="middle" fill="#444444" stroke="#444444" stroke-width="0.18" font-family="Liberation Serif, serif">1.0</text>
<text x="420.05 422.50 426.95" y="239.0" font-size="8" text-anchor="middle" fill="#444444" stroke="#444444" stroke-width="0.18" font-family="Liberation Serif, serif">0.5</text>
<text x="420.05 422.50 426.95" y="263.0" font-size="8" text-anchor="middle" fill="#444444" stroke="#444444" stroke-width="0.18" font-family="Liberation Serif, serif">0.0</text>
<text x="434.6" y="279.2" font-size="7.2" text-anchor="middle" fill="#444444" stroke="#444444" stroke-width="0.08" font-family="Liberation Serif, serif">2</text>
<text x="443.4" y="279.2" font-size="7.2" text-anchor="middle" fill="#444444" stroke="#444444" stroke-width="0.08" font-family="Liberation Serif, serif">4</text>
<text x="452.2" y="279.2" font-size="7.2" text-anchor="middle" fill="#444444" stroke="#444444" stroke-width="0.08" font-family="Liberation Serif, serif">6</text>
<text x="461.0" y="279.2" font-size="7.2" text-anchor="middle" fill="#444444" stroke="#444444" stroke-width="0.08" font-family="Liberation Serif, serif">8</text>
<text y="289.6" font-size="9" fill="#444444" stroke="#444444" stroke-width="0.18" font-family="Liberation Serif, Noto Serif CJK SC, serif"><tspan x="434.5" font-family="Liberation Mono, monospace" font-size="9.5" font-weight="bold" stroke-width="0" textLength="8.6" lengthAdjust="spacingAndGlyphs">Md</tspan><tspan x="443.9">(</tspan><tspan x="448.7" font-size="9.6" stroke-width="0.05">Φ</tspan><tspan x="456.7">)</tspan></text>
<circle cx="445.8" cy="202.9" r="0.75" fill="#ff0000" fill-opacity="0.6"/>
<text transform="scale(0.9,1)" font-size="9.5" text-anchor="middle" fill="#444444" stroke="#444444" stroke-width="0.18" font-family="Liberation Serif, serif"><tspan x="511.92" y="206.8">N</tspan><tspan x="516.64" y="206.8">i</tspan></text>
<path d="M519.5 227.8h0M514.9 236.3h0M515.4 237.9h0M506.8 247.4h0M519.2 236.2h0M515.0 239.9h0M514.6 235.5h0M517.6 237.9h0M513.1 236.2h0M515.3 238.7h0M517.2 243.5h0M510.2 249.9h0M517.0 230.6h0M516.7 239.0h0M517.9 231.4h0M520.6 230.3h0M520.3 231.3h0M514.8 235.7h0M520.8 234.4h0M518.8 234.5h0M519.3 229.0h0M520.5 235.3h0M518.7 230.7h0M511.0 244.6h0M516.5 242.8h0M509.9 249.4h0M517.2 244.0h0M514.3 237.7h0M511.4 236.5h0M517.0 238.1h0M520.4 230.3h0M520.2 233.3h0M518.2 235.3h0M523.8 226.1h0M516.8 233.4h0M508.0 244.4h0M509.8 245.0h0M516.2 230.4h0M510.9 231.8h0M510.5 242.2h0M516.0 236.4h0M519.5 243.2h0M520.3 237.0h0M510.4 248.3h0M519.8 232.8h0M505.4 250.5h0M523.5 230.7h0M514.1 241.2h0M515.9 231.9h0M516.0 240.8h0M517.7 232.0h0M511.3 243.2h0M517.6 242.0h0M515.4 238.6h0M514.4 241.6h0M514.8 242.4h0M513.6 235.4h0M510.3 242.5h0M517.0 235.9h0M523.2 236.0h0M523.3 233.5h0M515.3 244.2h0M518.8 243.4h0M521.4 233.5h0M516.9 243.7h0M514.7 229.7h0M516.8 233.9h0M514.2 233.8h0M518.4 239.8h0M518.4 236.8h0M516.3 243.3h0M519.2 233.8h0M514.9 249.4h0M511.8 251.7h0M521.3 229.9h0M512.8 244.5h0M519.4 225.3h0M516.0 243.0h0M513.4 236.0h0M511.8 211.5h0M514.1 236.8h0M523.6 238.3h0M520.5 213.5h0M516.2 237.7h0M514.9 236.7h0M509.2 241.4h0M514.8 244.5h0M511.8 244.3h0M519.8 235.5h0M514.0 242.5h0M517.1 238.7h0M516.0 233.5h0M518.5 231.1h0M525.0 232.3h0M519.7 233.2h0M517.3 240.5h0M514.0 235.9h0M517.3 238.7h0M519.5 231.9h0M515.9 243.0h0M517.5 234.4h0M511.9 244.6h0M521.4 230.1h0M516.7 238.0h0M519.6 232.9h0M518.0 246.2h0M512.3 249.1h0M523.1 228.7h0M518.5 232.5h0M512.1 239.4h0M519.0 239.5h0M513.3 238.1h0M522.6 233.8h0M509.7 245.4h0" stroke="#ff0000" stroke-opacity="0.62" stroke-width="1.15" stroke-linecap="round" fill="none"/>
<path d="M514.5 242.6h0M509.7 243.1h0M521.0 233.1h0M516.9 233.2h0M510.4 243.3h0M515.3 234.0h0M513.1 244.2h0M512.5 243.9h0M515.1 240.4h0M517.6 236.5h0M509.8 235.1h0M519.3 231.0h0M523.3 232.7h0M516.2 239.7h0M517.7 239.5h0M515.0 243.1h0M518.3 233.0h0M514.7 243.2h0M516.4 239.8h0M526.1 229.5h0M518.5 230.8h0M515.4 244.0h0M517.7 242.7h0M525.1 234.5h0M508.2 245.8h0M515.0 239.7h0M516.0 231.1h0M521.1 228.3h0M511.9 243.0h0M517.5 238.3h0M521.3 234.1h0M523.5 231.6h0M506.9 254.0h0M522.9 229.2h0M512.5 235.6h0M512.1 236.9h0M515.1 233.3h0M521.2 232.4h0M517.3 231.1h0M514.0 242.7h0M521.0 233.2h0M518.6 247.5h0M521.0 232.4h0M511.7 233.7h0M519.9 230.9h0M519.0 241.1h0M514.9 238.0h0M515.8 231.7h0M522.8 228.8h0M512.4 236.0h0M512.3 259.2h0M519.9 238.8h0M521.2 229.2h0M518.4 231.1h0M523.9 230.1h0M517.9 234.9h0M516.8 242.3h0M510.6 248.8h0M516.8 234.2h0M520.8 226.6h0M515.2 238.9h0M517.2 237.5h0M518.9 226.7h0M508.1 240.5h0M517.9 228.2h0M514.3 249.5h0M521.4 227.4h0M517.4 232.8h0M516.0 236.5h0M513.8 244.6h0M520.8 234.1h0M514.7 247.7h0M516.1 239.9h0M517.4 232.3h0M513.6 241.6h0M516.3 243.0h0M520.5 232.4h0M506.1 241.2h0M517.1 234.0h0M514.3 236.4h0M512.7 251.4h0M519.6 227.5h0M522.6 233.2h0M513.0 242.8h0M511.9 241.4h0M517.1 237.3h0M513.0 235.3h0M516.3 237.0h0M513.8 233.9h0M510.9 245.9h0M517.7 246.3h0M510.1 245.2h0M514.3 240.3h0M516.0 236.0h0M515.8 233.8h0M522.9 234.8h0M524.2 222.4h0M512.9 242.8h0M516.2 245.0h0M520.4 231.6h0M520.3 231.4h0M510.3 240.6h0M519.6 228.7h0M509.8 247.1h0M510.2 233.4h0M517.8 234.2h0M518.6 239.8h0M513.5 241.0h0M521.8 232.9h0M517.1 242.4h0M518.2 232.5h0M517.7 242.5h0M517.8 232.1h0M513.3 235.8h0" stroke="#ff0000" stroke-opacity="0.62" stroke-width="1.15" stroke-linecap="round" fill="none"/>
<path d="M515.5 243.5h0M515.0 232.7h0M511.1 244.9h0M521.6 234.8h0M514.5 248.4h0M517.2 236.3h0M512.5 232.2h0M516.0 243.6h0M515.8 236.4h0M516.8 242.7h0M517.6 236.7h0M516.9 233.1h0M515.0 238.3h0M518.2 237.8h0M521.1 229.0h0M515.2 242.9h0M509.8 241.1h0M522.5 232.1h0M513.2 238.3h0M511.1 240.4h0M511.3 247.6h0M518.0 234.5h0M513.2 240.2h0M516.3 240.0h0M517.3 239.2h0M524.3 231.0h0M519.4 232.8h0M516.1 235.7h0M520.2 227.3h0M513.3 243.7h0M518.6 232.4h0M511.7 246.6h0M517.4 232.7h0M519.8 233.2h0M521.9 229.3h0M519.3 236.4h0M506.1 255.9h0M508.7 247.9h0M516.4 245.3h0M513.3 243.0h0M510.8 236.3h0M518.1 238.2h0M516.5 234.9h0M520.1 228.7h0M515.9 239.1h0M519.5 229.4h0M515.4 237.7h0M520.2 233.1h0M522.0 233.4h0M524.2 234.6h0M520.8 225.2h0M518.2 242.3h0M516.1 231.8h0M520.8 237.4h0M512.2 246.4h0M506.4 246.2h0M523.9 228.0h0M519.3 237.8h0M517.0 242.1h0M514.6 248.6h0M510.0 252.9h0M512.3 237.8h0M511.6 253.8h0M517.2 236.4h0M517.3 236.6h0M524.9 231.5h0M510.1 244.8h0M517.7 236.1h0M515.1 245.1h0M514.2 237.4h0M517.1 238.9h0M520.8 223.9h0M520.3 234.2h0M515.2 243.6h0M520.8 232.8h0M510.4 247.9h0M516.5 238.0h0M522.6 232.1h0M522.0 232.7h0M516.8 237.5h0M522.1 230.6h0M516.8 240.6h0M515.9 231.7h0M523.5 229.0h0M520.8 231.6h0M520.0 242.1h0M516.3 243.0h0M516.8 236.8h0M508.4 238.5h0M513.9 236.1h0M519.8 241.4h0M514.5 234.8h0M522.0 228.1h0M515.8 237.4h0M519.1 231.3h0M526.4 232.2h0M521.7 229.3h0M514.6 238.6h0M513.2 249.7h0M516.8 241.9h0M527.8 220.6h0M521.5 235.9h0M513.0 241.6h0M519.2 227.9h0M517.4 230.8h0M514.5 231.8h0M520.0 234.7h0M519.1 235.5h0M514.4 235.4h0M512.0 247.9h0M522.9 225.3h0M519.0 237.0h0M516.4 236.6h0M510.6 243.6h0" stroke="#ff0000" stroke-opacity="0.62" stroke-width="1.15" stroke-linecap="round" fill="none"/>
<path d="M498.1 199.3V271.3H533.9" fill="none" stroke="#b4b4b4" stroke-width="1"/>
<path d="M502.60 271.3v1.6M511.40 271.3v1.6M520.20 271.3v1.6M529.00 271.3v1.6" stroke="#777" stroke-width="0.8"/>
<text x="488.05 490.50 494.95" y="215.0" font-size="8" text-anchor="middle" fill="#444444" stroke="#444444" stroke-width="0.18" font-family="Liberation Serif, serif">1.0</text>
<text x="488.05 490.50 494.95" y="239.0" font-size="8" text-anchor="middle" fill="#444444" stroke="#444444" stroke-width="0.18" font-family="Liberation Serif, serif">0.5</text>
<text x="488.05 490.50 494.95" y="263.0" font-size="8" text-anchor="middle" fill="#444444" stroke="#444444" stroke-width="0.18" font-family="Liberation Serif, serif">0.0</text>
<text x="502.6" y="279.2" font-size="7.2" text-anchor="middle" fill="#444444" stroke="#444444" stroke-width="0.08" font-family="Liberation Serif, serif">2</text>
<text x="511.4" y="279.2" font-size="7.2" text-anchor="middle" fill="#444444" stroke="#444444" stroke-width="0.08" font-family="Liberation Serif, serif">4</text>
<text x="520.2" y="279.2" font-size="7.2" text-anchor="middle" fill="#444444" stroke="#444444" stroke-width="0.08" font-family="Liberation Serif, serif">6</text>
<text x="529.0" y="279.2" font-size="7.2" text-anchor="middle" fill="#444444" stroke="#444444" stroke-width="0.08" font-family="Liberation Serif, serif">8</text>
<text y="289.6" font-size="9" fill="#444444" stroke="#444444" stroke-width="0.18" font-family="Liberation Serif, Noto Serif CJK SC, serif"><tspan x="502.5" font-family="Liberation Mono, monospace" font-size="9.5" font-weight="bold" stroke-width="0" textLength="8.6" lengthAdjust="spacingAndGlyphs">Md</tspan><tspan x="511.9">(</tspan><tspan x="516.7" font-size="9.6" stroke-width="0.05">Φ</tspan><tspan x="524.7">)</tspan></text>
<circle cx="515.5" cy="202.9" r="0.75" fill="#ff0000" fill-opacity="0.6"/>
<text transform="scale(0.9,1)" font-size="9.5" text-anchor="middle" fill="#444444" stroke="#444444" stroke-width="0.18" font-family="Liberation Serif, serif"><tspan x="590.14" y="206.8">Y</tspan></text>
<path d="M43.9 317.0h0M44.2 335.8h0M38.1 336.1h0M40.0 333.0h0M39.5 339.5h0M37.5 332.9h0M37.7 336.8h0M36.9 334.9h0M38.9 333.2h0M41.6 324.6h0M29.8 356.5h0M36.9 326.8h0M47.2 328.6h0M43.7 316.9h0M41.9 331.6h0M42.1 328.8h0M40.8 334.2h0M32.5 312.3h0M39.8 331.8h0M39.8 329.1h0M40.4 333.6h0M38.5 339.6h0M43.0 329.4h0M37.4 340.7h0M39.7 331.4h0M40.6 330.5h0M41.7 320.7h0M48.1 323.9h0M43.0 333.4h0M42.3 330.6h0M37.9 334.2h0M40.9 337.4h0M42.0 328.8h0M32.6 355.6h0M38.5 326.8h0M36.5 339.2h0M38.0 336.7h0M39.9 337.2h0M38.5 336.1h0M41.1 322.3h0M44.6 329.4h0M41.4 339.6h0M41.5 323.4h0M44.5 322.5h0M37.4 340.2h0M42.1 329.1h0M46.7 315.1h0M42.3 318.0h0M42.7 330.5h0M40.3 336.9h0M29.3 345.8h0M31.0 336.5h0M39.2 328.4h0M43.5 332.9h0M41.7 329.4h0M30.7 346.5h0M46.4 337.0h0M35.0 342.5h0M33.6 341.8h0M41.6 331.6h0M37.3 348.3h0M33.8 345.1h0M37.0 336.8h0M42.0 328.4h0M45.3 326.7h0M41.7 324.3h0M34.4 342.7h0M36.6 334.1h0M39.3 335.2h0M35.7 339.5h0M42.3 333.6h0M38.3 330.9h0M48.6 315.1h0M45.8 334.3h0M35.1 340.7h0M38.1 337.3h0M46.3 329.2h0M34.6 340.2h0M44.3 318.6h0M38.0 327.1h0M32.8 337.4h0M41.2 326.5h0M42.2 338.6h0M39.6 335.1h0M38.0 332.7h0M27.8 343.6h0M37.3 343.2h0M41.6 337.6h0M41.1 332.9h0M39.3 339.0h0M33.0 330.0h0M38.2 335.1h0M41.7 332.7h0M36.9 325.4h0M34.4 337.7h0M47.5 321.0h0M41.2 326.7h0M35.6 339.2h0M40.0 336.8h0M36.0 336.7h0M44.0 329.8h0M44.3 328.7h0M34.2 345.0h0M41.3 339.0h0M30.9 334.6h0M42.4 324.3h0M35.9 340.8h0M37.6 331.3h0M36.9 332.8h0M37.9 343.0h0M45.1 326.6h0M36.8 338.4h0M36.1 334.2h0M39.3 327.3h0M47.0 331.0h0M44.4 322.1h0M30.8 342.2h0M42.6 349.5h0M40.3 334.0h0M36.0 328.6h0M35.8 342.9h0M39.6 333.9h0M40.3 336.2h0M44.2 335.0h0M42.4 337.4h0M44.1 339.7h0" stroke="#ff0000" stroke-opacity="0.62" stroke-width="1.15" stroke-linecap="round" fill="none"/>
<path d="M38.3 328.8h0M43.5 335.5h0M35.5 347.7h0M41.8 327.9h0M39.9 342.6h0M34.9 336.7h0M31.8 341.2h0M45.5 325.6h0M43.8 333.3h0M30.4 343.2h0M36.5 329.4h0M38.4 337.6h0M40.8 333.9h0M31.5 336.0h0M34.5 346.6h0M32.8 342.3h0M39.5 330.1h0M44.9 324.8h0M38.5 332.9h0M41.4 332.1h0M47.3 330.4h0M45.6 325.9h0M36.0 346.0h0M40.4 333.5h0M40.6 338.8h0M41.3 331.5h0M41.8 339.6h0M34.1 332.3h0M33.4 339.7h0M42.9 339.5h0M30.2 345.6h0M42.0 332.5h0M45.1 328.8h0M43.2 327.7h0M36.8 337.4h0M43.6 327.8h0M35.6 338.0h0M38.4 340.6h0M42.0 335.6h0M45.2 332.9h0M41.2 325.2h0M30.9 328.4h0M41.1 333.3h0M47.7 326.5h0M45.4 330.6h0M36.8 337.9h0M33.7 340.8h0M48.5 324.2h0M36.5 333.7h0M44.7 319.1h0M39.8 327.4h0M45.7 330.1h0M42.8 338.4h0M40.2 327.8h0M45.5 314.8h0M38.4 339.3h0M37.5 326.9h0M35.0 335.0h0M39.7 338.3h0M40.6 332.7h0M42.2 327.2h0M39.2 338.7h0M39.9 334.2h0M35.2 331.2h0M38.8 316.6h0M43.0 330.0h0M39.1 339.1h0M26.0 352.7h0M49.7 334.5h0M35.9 325.1h0M45.6 317.1h0M38.3 336.2h0M42.9 328.9h0M42.5 333.2h0M38.6 334.2h0M42.1 333.5h0M35.2 345.9h0M42.1 326.1h0M46.8 317.8h0M47.0 321.8h0M43.3 322.7h0M42.0 337.5h0M44.0 317.7h0M42.5 319.5h0M43.7 319.4h0M43.4 327.3h0M40.3 328.7h0M37.0 338.4h0M41.2 336.5h0M37.6 328.5h0M40.9 334.1h0M45.6 330.9h0M33.6 347.2h0M40.6 332.4h0M36.2 336.9h0M41.5 329.2h0M40.7 336.5h0M39.4 334.7h0M35.1 328.7h0M40.6 336.1h0M42.8 329.0h0M43.9 326.3h0M38.9 335.6h0M44.8 327.3h0M44.7 329.8h0M40.9 342.0h0M43.5 321.5h0M37.8 330.8h0M36.2 337.6h0M38.7 329.0h0M32.7 347.3h0M40.3 326.8h0M40.9 338.0h0M38.0 329.1h0M42.6 330.3h0M35.5 337.6h0M42.2 324.0h0M40.8 331.8h0M41.3 326.2h0M33.5 342.7h0M36.3 338.4h0M42.6 338.9h0M37.4 335.9h0M38.1 332.5h0M26.6 318.2h0M43.9 329.4h0" stroke="#ff0000" stroke-opacity="0.62" stroke-width="1.15" stroke-linecap="round" fill="none"/>
<path d="M41.9 329.3h0M43.0 329.9h0M31.1 331.4h0M36.4 325.0h0M44.2 329.0h0M44.3 328.8h0M43.1 331.4h0M46.7 329.9h0M28.3 344.9h0M47.9 322.6h0M37.8 334.7h0M33.2 341.3h0M41.8 328.3h0M34.5 339.6h0M37.0 335.5h0M32.9 340.6h0M43.5 326.2h0M41.9 330.8h0M40.4 323.2h0M46.6 336.7h0M39.3 330.4h0M42.8 321.8h0M42.8 330.8h0M40.7 321.4h0M43.2 322.7h0M36.3 328.3h0M37.7 337.0h0M38.2 329.3h0M45.6 319.3h0M36.7 326.2h0M44.0 335.3h0M48.5 311.8h0M35.2 338.8h0M41.0 334.9h0M45.4 332.9h0M42.9 326.4h0M37.6 338.5h0M43.6 308.3h0M38.4 335.6h0M34.4 332.7h0M38.8 339.2h0M31.0 338.0h0M40.4 329.4h0M45.6 318.9h0M41.0 335.7h0M39.4 337.3h0M42.1 324.6h0M40.2 335.6h0M41.4 336.0h0M31.1 344.5h0M36.5 349.4h0M41.1 327.5h0M43.2 319.3h0M38.0 327.3h0M32.3 339.8h0M40.8 339.7h0M35.6 328.2h0M43.5 323.8h0M43.8 325.4h0M37.9 331.4h0M39.4 333.4h0M41.5 326.6h0M45.6 343.5h0M40.0 333.3h0M33.7 342.5h0M46.6 331.2h0M43.9 319.7h0M42.9 327.7h0M39.1 331.7h0M46.0 335.5h0M44.6 324.1h0M44.4 322.1h0M45.1 331.9h0M35.7 339.7h0M35.8 344.0h0M31.1 336.9h0M40.6 328.6h0M44.6 330.7h0M41.8 339.6h0M43.3 329.6h0M39.6 333.3h0M31.6 347.9h0M41.6 334.1h0M39.8 331.3h0M35.5 346.3h0M35.8 331.7h0M42.2 331.3h0M38.0 328.2h0M38.5 339.1h0M39.1 324.3h0M40.3 332.6h0M34.4 339.3h0M33.7 333.9h0M41.5 325.2h0M39.6 333.7h0M47.7 314.5h0M31.3 329.2h0M44.1 313.5h0M47.1 323.8h0M40.9 329.6h0M38.4 326.5h0M38.8 331.3h0M39.7 333.2h0M38.9 341.6h0M33.7 339.6h0M38.1 336.1h0M40.0 333.9h0M33.2 343.2h0M35.2 335.9h0M40.2 322.7h0M35.3 338.1h0M33.9 337.8h0M36.6 331.9h0M41.6 331.9h0M37.8 340.0h0M37.5 333.8h0M35.4 334.7h0M37.9 337.2h0M42.6 321.7h0M38.2 337.2h0M41.2 333.3h0M41.9 333.2h0M44.3 331.7h0M45.0 311.0h0M47.5 319.4h0" stroke="#ff0000" stroke-opacity="0.62" stroke-width="1.15" stroke-linecap="round" fill="none"/>
<path d="M21.0 294.4V366.4H56.8" fill="none" stroke="#b4b4b4" stroke-width="1"/>
<path d="M25.50 366.4v1.6M34.30 366.4v1.6M43.10 366.4v1.6M51.90 366.4v1.6" stroke="#777" stroke-width="0.8"/>
<text x="10.95 13.40 17.85" y="310.1" font-size="8" text-anchor="middle" fill="#444444" stroke="#444444" stroke-width="0.18" font-family="Liberation Serif, serif">1.0</text>
<text x="10.95 13.40 17.85" y="334.1" font-size="8" text-anchor="middle" fill="#444444" stroke="#444444" stroke-width="0.18" font-family="Liberation Serif, serif">0.5</text>
<text x="10.95 13.40 17.85" y="358.1" font-size="8" text-anchor="middle" fill="#444444" stroke="#444444" stroke-width="0.18" font-family="Liberation Serif, serif">0.0</text>
<text x="25.5" y="374.3" font-size="7.2" text-anchor="middle" fill="#444444" stroke="#444444" stroke-width="0.08" font-family="Liberation Serif, serif">2</text>
<text x="34.3" y="374.3" font-size="7.2" text-anchor="middle" fill="#444444" stroke="#444444" stroke-width="0.08" font-family="Liberation Serif, serif">4</text>
<text x="43.1" y="374.3" font-size="7.2" text-anchor="middle" fill="#444444" stroke="#444444" stroke-width="0.08" font-family="Liberation Serif, serif">6</text>
<text x="51.9" y="374.3" font-size="7.2" text-anchor="middle" fill="#444444" stroke="#444444" stroke-width="0.08" font-family="Liberation Serif, serif">8</text>
<text y="383.6" font-size="9" fill="#444444" stroke="#444444" stroke-width="0.18" font-family="Liberation Serif, Noto Serif CJK SC, serif"><tspan x="25.4" font-family="Liberation Mono, monospace" font-size="9.5" font-weight="bold" stroke-width="0" textLength="8.6" lengthAdjust="spacingAndGlyphs">Md</tspan><tspan x="34.8">(</tspan><tspan x="39.6" font-size="9.6" stroke-width="0.05">Φ</tspan><tspan x="47.6">)</tspan></text>
<circle cx="37.5" cy="300.7" r="0.75" fill="#ff0000" fill-opacity="0.6"/>
<text transform="scale(0.9,1)" font-size="9.5" text-anchor="middle" fill="#444444" stroke="#444444" stroke-width="0.18" font-family="Liberation Serif, serif"><tspan x="58.03" y="304.4">C</tspan><tspan x="62.75" y="304.4">o</tspan></text>
<path d="M103.1 351.3h0M106.5 350.6h0M111.0 351.3h0M111.4 349.2h0M100.0 353.5h0M104.6 352.7h0M110.5 351.1h0M100.8 352.6h0M111.7 348.9h0M105.5 350.7h0M109.3 352.5h0M97.8 353.9h0M106.4 350.2h0M103.3 354.3h0M113.0 350.8h0M105.2 348.4h0M101.4 351.7h0M107.4 352.2h0M107.3 351.4h0M113.3 350.2h0M113.2 351.3h0M111.3 350.1h0M108.2 351.6h0M111.0 350.4h0M103.4 351.6h0M113.4 349.8h0M105.7 349.9h0M107.9 351.5h0M99.8 352.6h0M106.5 352.3h0M105.8 351.8h0M104.5 350.1h0M110.2 348.7h0M107.4 348.8h0M107.3 343.0h0M106.6 351.4h0M108.5 352.1h0M109.8 350.2h0M109.3 349.4h0M106.5 348.8h0M103.4 351.9h0M98.9 351.4h0M107.2 348.9h0M116.8 348.5h0M103.3 350.8h0M109.6 351.7h0M102.4 351.9h0M107.0 352.3h0M111.9 349.4h0M109.7 350.1h0M104.9 350.8h0M110.2 349.3h0M109.2 350.0h0M102.4 351.7h0M109.3 350.1h0M114.5 349.5h0M105.2 351.6h0M107.5 351.2h0M102.6 354.7h0M109.8 350.0h0M96.5 353.4h0M96.2 354.0h0M117.0 346.0h0M103.9 352.5h0M111.9 350.6h0M105.1 351.5h0M101.4 353.1h0M110.2 349.9h0M101.5 352.6h0M112.4 350.0h0M111.0 350.4h0M98.1 352.3h0M116.2 350.3h0M99.2 352.6h0M111.6 349.1h0M100.6 354.0h0M108.3 352.1h0M109.4 349.0h0M110.3 351.2h0M105.1 351.2h0M107.8 350.8h0M115.7 350.0h0M107.9 349.6h0M108.8 352.1h0M99.2 351.8h0M105.6 351.3h0M102.2 354.2h0M101.2 352.3h0M99.9 352.4h0M104.5 351.9h0M100.2 351.5h0M104.7 351.9h0M114.8 349.4h0M102.2 352.1h0M99.9 351.2h0M102.7 354.1h0M105.9 351.1h0M106.0 351.9h0M109.3 349.5h0" stroke="#0000ff" stroke-opacity="0.7" stroke-width="1.15" stroke-linecap="round" fill="none"/>
<path d="M103.7 353.4h0M100.2 338.4h0M111.4 343.0h0M110.8 351.2h0M110.2 349.2h0M108.0 349.9h0M103.9 350.6h0M108.5 350.5h0M113.6 348.9h0M99.7 352.5h0M104.8 338.9h0M111.3 350.7h0M105.9 351.4h0M111.9 350.0h0M105.5 351.1h0M107.6 352.6h0M100.9 353.4h0M107.9 350.9h0M110.5 348.8h0M111.6 348.5h0M105.9 351.4h0M101.6 351.6h0M98.5 353.0h0M108.6 350.2h0M108.1 350.2h0M116.5 350.3h0M102.0 352.2h0M107.2 351.7h0M111.7 350.3h0M107.9 352.6h0M98.4 353.0h0M113.3 351.0h0M101.6 351.9h0M108.3 351.2h0M100.1 351.6h0M112.4 349.8h0M113.5 344.5h0M99.2 352.6h0M108.3 350.1h0M98.9 352.2h0M106.5 349.3h0M102.4 350.9h0M107.8 351.5h0M106.7 351.2h0M103.7 349.4h0M108.2 350.7h0M110.0 350.2h0M115.5 349.9h0M94.8 352.6h0M110.6 348.6h0M101.5 353.2h0M102.0 354.3h0M100.8 352.0h0M105.2 352.7h0M112.1 349.8h0M107.8 350.4h0M94.2 353.8h0M103.6 353.1h0M105.5 352.7h0M108.4 350.9h0M109.6 351.4h0M110.4 350.7h0M105.2 351.7h0M109.3 349.6h0M107.0 349.8h0M115.4 350.0h0M108.0 349.7h0M112.8 349.4h0M101.8 352.2h0M106.6 351.1h0M109.7 351.0h0M112.3 349.2h0M106.0 351.7h0M107.5 351.4h0M105.0 352.6h0M114.5 350.0h0M103.2 353.3h0M115.5 351.7h0M107.8 351.2h0M101.5 353.0h0M115.9 350.8h0M101.2 352.2h0M103.5 352.2h0M107.3 353.1h0M100.6 353.3h0M112.0 349.3h0M107.7 350.3h0M113.1 349.7h0M101.4 352.6h0M106.0 350.9h0M105.7 350.7h0M111.6 350.2h0M113.6 350.5h0M102.0 352.2h0M103.1 352.6h0M113.2 350.0h0M104.3 351.9h0M102.1 352.3h0M107.0 350.3h0" stroke="#0000ff" stroke-opacity="0.7" stroke-width="1.15" stroke-linecap="round" fill="none"/>
<path d="M108.4 350.9h0M108.5 351.4h0M106.8 351.2h0M103.9 352.8h0M110.7 349.6h0M102.1 352.3h0M101.5 352.7h0M100.7 351.5h0M114.3 350.8h0M105.6 350.3h0M110.3 350.5h0M111.5 350.8h0M113.3 349.5h0M104.7 352.2h0M101.4 353.6h0M96.2 353.5h0M119.0 348.5h0M114.1 352.0h0M106.6 351.4h0M115.4 349.7h0M105.3 352.6h0M104.5 351.5h0M99.5 353.5h0M114.3 350.9h0M108.8 350.8h0M109.3 352.0h0M111.0 350.4h0M109.2 350.6h0M112.5 349.8h0M105.1 352.3h0M109.8 349.9h0M102.6 352.4h0M106.4 352.3h0M105.9 352.2h0M101.1 350.8h0M103.4 351.0h0M98.2 351.3h0M109.9 349.6h0M107.4 352.1h0M110.3 351.5h0M107.5 352.5h0M108.5 350.1h0M107.0 350.7h0M114.7 352.2h0M108.5 349.6h0M103.9 351.3h0M104.4 353.2h0M101.9 352.7h0M103.2 352.9h0M97.8 352.4h0M121.6 347.5h0M107.5 352.2h0M101.2 351.3h0M104.0 354.1h0M107.2 351.4h0M107.5 351.8h0M111.0 351.2h0M110.4 350.9h0M110.8 349.8h0M96.3 353.7h0M102.6 352.7h0M98.4 353.4h0M111.8 351.9h0M109.1 349.9h0M112.0 350.8h0M94.0 353.3h0M114.9 349.0h0M101.7 347.0h0M101.7 352.2h0M98.9 351.7h0M112.4 328.7h0M111.5 350.7h0M109.5 350.5h0M109.0 350.9h0M108.8 352.0h0M113.0 351.3h0M100.0 353.2h0M99.3 351.7h0M100.8 351.8h0M110.6 351.7h0M100.8 351.8h0M114.1 348.3h0M102.2 343.0h0M106.8 351.5h0M107.2 350.2h0M107.4 349.8h0M108.2 353.3h0M104.6 353.9h0M106.3 352.7h0M100.8 350.1h0M105.6 351.0h0M111.2 350.2h0M107.5 352.7h0M101.3 353.1h0M106.4 351.3h0M104.5 353.4h0M103.0 351.3h0M111.6 350.1h0" stroke="#0000ff" stroke-opacity="0.7" stroke-width="1.15" stroke-linecap="round" fill="none"/>
<path d="M89.3 294.4V366.4H125.1" fill="none" stroke="#b4b4b4" stroke-width="1"/>
<path d="M93.80 366.4v1.6M102.60 366.4v1.6M111.40 366.4v1.6M120.20 366.4v1.6" stroke="#777" stroke-width="0.8"/>
<text x="79.25 81.70 86.15" y="310.1" font-size="8" text-anchor="middle" fill="#444444" stroke="#444444" stroke-width="0.18" font-family="Liberation Serif, serif">1.0</text>
<text x="79.25 81.70 86.15" y="334.1" font-size="8" text-anchor="middle" fill="#444444" stroke="#444444" stroke-width="0.18" font-family="Liberation Serif, serif">0.5</text>
<text x="79.25 81.70 86.15" y="358.1" font-size="8" text-anchor="middle" fill="#444444" stroke="#444444" stroke-width="0.18" font-family="Liberation Serif, serif">0.0</text>
<text x="93.8" y="374.3" font-size="7.2" text-anchor="middle" fill="#444444" stroke="#444444" stroke-width="0.08" font-family="Liberation Serif, serif">2</text>
<text x="102.6" y="374.3" font-size="7.2" text-anchor="middle" fill="#444444" stroke="#444444" stroke-width="0.08" font-family="Liberation Serif, serif">4</text>
<text x="111.4" y="374.3" font-size="7.2" text-anchor="middle" fill="#444444" stroke="#444444" stroke-width="0.08" font-family="Liberation Serif, serif">6</text>
<text x="120.2" y="374.3" font-size="7.2" text-anchor="middle" fill="#444444" stroke="#444444" stroke-width="0.08" font-family="Liberation Serif, serif">8</text>
<text y="383.6" font-size="9" fill="#444444" stroke="#444444" stroke-width="0.18" font-family="Liberation Serif, Noto Serif CJK SC, serif"><tspan x="93.7" font-family="Liberation Mono, monospace" font-size="9.5" font-weight="bold" stroke-width="0" textLength="8.6" lengthAdjust="spacingAndGlyphs">Md</tspan><tspan x="103.1">(</tspan><tspan x="107.9" font-size="9.6" stroke-width="0.05">Φ</tspan><tspan x="115.9">)</tspan></text>
<circle cx="105.8" cy="300.7" r="0.75" fill="#0000ff" fill-opacity="0.6"/>
<text transform="scale(0.9,1)" font-size="9.5" text-anchor="middle" fill="#444444" stroke="#444444" stroke-width="0.18" font-family="Liberation Serif, serif"><tspan x="133.69" y="304.4">C</tspan><tspan x="138.42" y="304.4">u</tspan></text>
<path d="M171.2 342.3h0M181.4 325.2h0M180.1 327.3h0M170.8 343.2h0M177.4 324.9h0M184.3 314.1h0M170.2 342.8h0M180.5 322.3h0M175.0 334.8h0M176.8 333.9h0M175.7 335.1h0M173.4 332.9h0M177.4 323.8h0M179.5 323.5h0M178.2 327.8h0M173.2 339.2h0M179.5 323.7h0M169.9 349.8h0M181.1 325.4h0M173.4 343.8h0M170.5 339.1h0M177.4 337.4h0M178.1 325.3h0M173.6 349.5h0M175.2 334.3h0M170.5 339.8h0M179.6 321.6h0M164.8 333.5h0M172.9 346.8h0M170.7 336.5h0M176.2 326.4h0M168.4 348.3h0M172.0 345.8h0M177.4 320.6h0M167.5 349.2h0M177.8 323.6h0M168.3 346.3h0M177.9 323.1h0M172.0 339.4h0M176.1 333.0h0M180.1 313.9h0M172.6 345.1h0M173.6 323.8h0M174.7 334.0h0M179.0 321.4h0M176.0 336.6h0M181.5 331.1h0M181.0 324.1h0M176.4 332.3h0M173.4 337.6h0M173.2 347.7h0M180.6 333.7h0M176.8 335.3h0M175.9 325.7h0M172.9 343.0h0M180.2 328.3h0M174.3 328.3h0M179.3 327.7h0M169.5 337.8h0M174.5 329.6h0M177.0 325.2h0M181.9 321.8h0M181.5 327.1h0M167.6 338.0h0M168.6 350.6h0M177.4 336.0h0M164.6 357.0h0M179.1 311.3h0M168.0 333.2h0M178.6 326.9h0M174.9 337.9h0M176.7 332.1h0M170.2 350.6h0M178.5 325.9h0M178.5 327.0h0M180.2 331.4h0M178.3 338.3h0M176.3 334.8h0M172.5 350.3h0M177.4 340.0h0M175.0 321.8h0M172.5 343.1h0M170.6 339.4h0M173.8 336.3h0M180.4 325.4h0M173.1 336.0h0M167.3 336.4h0M175.3 335.7h0M175.4 330.2h0M168.0 338.1h0M170.4 350.5h0M172.0 345.6h0M165.4 333.1h0M176.1 339.8h0M179.3 327.2h0M177.6 325.7h0M173.3 345.7h0M176.6 334.7h0M171.6 345.5h0M185.2 312.3h0M178.3 337.4h0M179.0 336.9h0M176.4 330.3h0M177.1 326.1h0M170.0 350.4h0M178.1 329.4h0M168.2 344.6h0M169.4 345.9h0M178.1 323.5h0M172.5 341.0h0M174.8 335.0h0M176.6 325.1h0" stroke="#ff0000" stroke-opacity="0.62" stroke-width="1.15" stroke-linecap="round" fill="none"/>
<path d="M168.8 334.1h0M171.1 343.1h0M177.5 323.9h0M173.3 334.4h0M176.1 338.2h0M178.1 330.6h0M176.6 323.3h0M168.4 346.4h0M171.8 326.7h0M177.1 339.7h0M176.4 342.6h0M178.3 325.1h0M169.6 346.7h0M165.8 353.3h0M169.7 344.0h0M177.3 330.7h0M168.7 347.1h0M173.3 343.8h0M167.4 345.6h0M179.3 321.4h0M179.7 326.7h0M178.4 331.3h0M178.9 334.3h0M177.2 331.7h0M167.6 347.9h0M176.1 328.6h0M179.0 329.9h0M173.9 324.8h0M175.6 337.7h0M178.2 326.6h0M173.0 333.4h0M178.8 338.1h0M168.0 344.7h0M176.5 343.2h0M183.3 330.3h0M178.5 333.9h0M173.2 333.7h0M166.4 335.5h0M168.3 345.7h0M180.7 329.7h0M175.5 327.8h0M176.2 333.7h0M173.7 336.4h0M168.8 337.2h0M177.1 335.3h0M181.4 330.3h0M174.1 328.5h0M176.2 331.2h0M167.5 349.7h0M167.5 343.2h0M176.2 329.2h0M175.5 328.2h0M178.4 333.1h0M177.7 332.9h0M180.5 326.8h0M173.2 338.7h0M177.4 340.3h0M179.1 333.6h0M175.9 336.4h0M170.8 336.3h0M174.1 340.6h0M171.2 333.7h0M175.9 331.3h0M169.9 341.3h0M170.5 343.7h0M172.4 337.6h0M178.8 330.8h0M172.9 336.5h0M167.7 336.3h0M173.8 335.5h0M168.5 344.6h0M168.6 337.6h0M173.5 348.3h0M166.7 345.9h0M169.0 341.6h0M168.1 347.2h0M174.9 329.5h0M174.6 333.1h0M176.5 330.1h0M170.6 346.7h0M176.4 337.1h0M176.8 336.8h0M176.7 326.6h0M178.3 335.4h0M178.1 339.3h0M169.2 330.1h0M176.9 327.3h0M165.6 354.5h0M173.9 327.4h0M176.3 333.1h0M177.0 329.7h0M169.3 349.2h0M172.1 344.7h0M180.7 319.9h0M177.6 340.1h0M165.0 332.3h0M177.1 325.0h0M175.2 335.3h0M177.6 324.9h0M173.0 327.7h0M171.2 343.3h0M173.9 342.5h0M184.0 318.0h0M175.9 338.8h0M176.3 327.0h0M179.1 323.8h0M172.4 325.2h0M177.4 337.8h0M167.4 347.5h0M178.0 325.8h0M176.8 332.8h0M172.0 343.5h0" stroke="#ff0000" stroke-opacity="0.62" stroke-width="1.15" stroke-linecap="round" fill="none"/>
<path d="M172.0 331.1h0M178.2 330.7h0M176.9 331.4h0M174.0 332.7h0M169.0 340.3h0M173.0 335.4h0M178.3 329.8h0M174.7 335.2h0M171.4 349.0h0M181.3 319.6h0M176.8 329.6h0M179.2 337.0h0M176.7 327.3h0M168.9 342.7h0M183.0 316.2h0M172.2 333.1h0M178.3 331.7h0M181.5 323.0h0M171.6 342.4h0M176.9 335.0h0M171.5 339.3h0M177.5 333.8h0M175.5 335.4h0M177.8 337.2h0M174.1 337.6h0M174.9 329.9h0M178.0 333.5h0M177.1 331.2h0M175.0 329.4h0M171.3 344.9h0M171.8 347.8h0M167.8 343.1h0M171.3 341.8h0M177.1 314.5h0M180.2 323.6h0M163.4 333.1h0M174.1 323.1h0M177.8 332.7h0M178.6 326.2h0M175.2 324.8h0M179.7 327.7h0M167.7 346.8h0M176.6 335.5h0M174.0 322.7h0M171.4 335.2h0M171.4 342.3h0M173.2 331.1h0M180.1 332.1h0M178.4 325.8h0M177.0 336.5h0M184.1 316.7h0M177.2 331.4h0M179.7 340.0h0M178.9 327.2h0M170.3 345.6h0M180.5 333.7h0M174.8 340.3h0M183.4 330.8h0M177.8 335.5h0M176.7 338.8h0M176.0 332.6h0M170.7 348.4h0M169.0 349.0h0M177.1 323.8h0M171.1 343.8h0M176.8 329.9h0M173.2 327.9h0M174.0 340.6h0M172.6 343.3h0M178.2 326.6h0M170.8 345.0h0M172.1 330.4h0M179.1 333.1h0M175.9 343.4h0M180.6 332.2h0M171.1 346.3h0M171.5 335.4h0M168.3 346.1h0M167.8 349.7h0M170.8 335.1h0M176.4 336.5h0M172.7 341.0h0M177.6 332.5h0M182.6 324.4h0M175.0 338.5h0M165.5 344.6h0M175.9 330.1h0M177.7 336.2h0M179.6 323.6h0M166.8 348.8h0M176.9 325.7h0M180.2 327.0h0M172.7 322.9h0M181.2 325.9h0M178.8 331.1h0M176.9 324.1h0M177.2 333.2h0M169.3 347.9h0M174.0 330.6h0M163.0 334.2h0M170.0 339.5h0M180.5 333.8h0M167.0 345.2h0M178.6 325.5h0M168.9 350.6h0M181.7 324.7h0M179.8 333.1h0M176.5 338.6h0M172.8 333.1h0M179.2 324.8h0M179.6 334.8h0M175.6 340.8h0" stroke="#ff0000" stroke-opacity="0.62" stroke-width="1.15" stroke-linecap="round" fill="none"/>
<path d="M157.3 294.4V366.4H193.10000000000002" fill="none" stroke="#b4b4b4" stroke-width="1"/>
<path d="M161.80 366.4v1.6M170.60 366.4v1.6M179.40 366.4v1.6M188.20 366.4v1.6" stroke="#777" stroke-width="0.8"/>
<text x="147.25 149.70 154.15" y="310.1" font-size="8" text-anchor="middle" fill="#444444" stroke="#444444" stroke-width="0.18" font-family="Liberation Serif, serif">1.0</text>
<text x="147.25 149.70 154.15" y="334.1" font-size="8" text-anchor="middle" fill="#444444" stroke="#444444" stroke-width="0.18" font-family="Liberation Serif, serif">0.5</text>
<text x="147.25 149.70 154.15" y="358.1" font-size="8" text-anchor="middle" fill="#444444" stroke="#444444" stroke-width="0.18" font-family="Liberation Serif, serif">0.0</text>
<text x="161.8" y="374.3" font-size="7.2" text-anchor="middle" fill="#444444" stroke="#444444" stroke-width="0.08" font-family="Liberation Serif, serif">2</text>
<text x="170.6" y="374.3" font-size="7.2" text-anchor="middle" fill="#444444" stroke="#444444" stroke-width="0.08" font-family="Liberation Serif, serif">4</text>
<text x="179.4" y="374.3" font-size="7.2" text-anchor="middle" fill="#444444" stroke="#444444" stroke-width="0.08" font-family="Liberation Serif, serif">6</text>
<text x="188.2" y="374.3" font-size="7.2" text-anchor="middle" fill="#444444" stroke="#444444" stroke-width="0.08" font-family="Liberation Serif, serif">8</text>
<text y="383.6" font-size="9" fill="#444444" stroke="#444444" stroke-width="0.18" font-family="Liberation Serif, Noto Serif CJK SC, serif"><tspan x="161.7" font-family="Liberation Mono, monospace" font-size="9.5" font-weight="bold" stroke-width="0" textLength="8.6" lengthAdjust="spacingAndGlyphs">Md</tspan><tspan x="171.1">(</tspan><tspan x="175.9" font-size="9.6" stroke-width="0.05">Φ</tspan><tspan x="183.9">)</tspan></text>
<circle cx="173.5" cy="300.7" r="0.75" fill="#ff0000" fill-opacity="0.6"/>
<text transform="scale(0.9,1)" font-size="9.5" text-anchor="middle" fill="#444444" stroke="#444444" stroke-width="0.18" font-family="Liberation Serif, serif"><tspan x="209.92" y="304.4">G</tspan><tspan x="214.64" y="304.4">a</tspan></text>
<path d="M248.4 343.4h0M235.6 348.2h0M246.9 341.1h0M245.2 345.5h0M239.7 348.5h0M246.7 352.2h0M238.1 348.3h0M236.2 342.3h0M243.6 345.0h0M238.9 343.8h0M236.7 345.3h0M243.8 352.2h0M247.6 326.6h0M250.5 347.9h0M239.0 346.2h0M238.5 348.8h0M236.5 346.4h0M254.0 346.0h0M247.9 344.2h0M249.5 348.6h0M250.6 346.1h0M242.3 341.6h0M249.0 347.5h0M243.1 349.1h0M243.9 348.0h0M243.4 344.7h0M239.2 349.9h0M246.8 343.9h0M248.1 343.1h0M248.6 338.9h0M245.4 345.3h0M246.7 327.2h0M235.9 345.3h0M244.0 346.0h0M237.4 345.6h0M245.3 343.2h0M242.4 345.5h0M239.0 342.9h0M251.7 344.5h0M238.2 348.0h0M244.6 349.0h0M250.1 343.0h0M249.1 344.0h0M254.0 351.0h0M240.4 345.2h0M246.7 329.9h0M247.8 348.2h0M241.9 344.8h0M238.2 347.0h0M247.2 342.0h0M247.4 349.9h0M246.7 348.2h0M238.6 341.6h0M248.0 352.9h0M246.9 349.7h0M248.9 347.6h0M243.2 345.9h0M244.0 330.3h0M238.5 346.2h0M253.3 344.6h0M243.0 341.2h0M239.1 348.7h0M253.0 347.9h0M237.1 351.0h0M241.8 349.2h0M254.0 344.9h0M241.6 350.4h0M243.0 342.3h0M247.9 348.3h0M245.1 331.9h0M248.8 340.9h0M253.9 343.1h0M245.6 343.4h0M236.0 346.1h0M247.5 352.3h0M252.3 343.5h0M245.5 350.8h0M242.9 349.6h0M239.6 347.0h0M240.8 346.1h0M245.0 349.1h0M236.7 346.0h0M242.1 350.4h0M236.5 350.9h0M243.7 345.7h0M253.5 345.5h0M249.5 342.2h0M247.7 343.2h0M240.5 347.9h0M248.2 346.5h0M249.9 334.6h0M248.5 343.9h0M245.6 348.1h0M244.0 341.9h0M244.8 346.1h0M247.0 349.6h0M249.6 349.8h0" stroke="#ff0000" stroke-opacity="0.62" stroke-width="1.15" stroke-linecap="round" fill="none"/>
<path d="M247.1 352.2h0M236.1 351.3h0M244.3 351.9h0M238.5 346.5h0M238.5 348.1h0M244.6 344.3h0M244.5 338.5h0M244.6 345.0h0M240.3 346.8h0M247.5 340.5h0M251.9 341.2h0M248.8 348.4h0M240.2 347.2h0M244.5 342.5h0M244.8 337.8h0M252.9 351.8h0M244.2 347.7h0M246.1 343.7h0M248.0 342.9h0M247.1 329.5h0M246.7 327.9h0M248.0 343.2h0M234.8 346.0h0M248.2 348.6h0M241.2 346.2h0M246.1 345.3h0M240.8 348.6h0M247.3 350.6h0M241.3 349.1h0M236.9 342.6h0M243.7 346.9h0M246.7 346.2h0M242.4 344.8h0M250.2 347.8h0M249.9 342.7h0M247.5 348.0h0M245.9 346.4h0M246.4 347.1h0M250.7 345.8h0M246.3 323.3h0M246.6 327.3h0M237.6 344.7h0M236.2 350.8h0M249.9 344.0h0M249.8 327.0h0M247.2 352.2h0M246.4 348.9h0M247.4 346.3h0M243.7 346.8h0M250.8 348.5h0M245.8 337.0h0M238.5 347.0h0M236.1 346.7h0M244.8 346.7h0M234.5 348.8h0M249.0 347.5h0M233.6 346.0h0M244.9 342.0h0M244.1 334.9h0M235.8 345.5h0M251.3 351.1h0M248.9 350.1h0M248.1 344.8h0M242.8 339.7h0M244.8 338.0h0M245.3 333.7h0M247.2 347.5h0M247.4 345.6h0M249.9 352.2h0M244.8 334.7h0M247.8 347.4h0M247.6 345.1h0M249.5 344.7h0M235.8 350.0h0M235.8 347.8h0M246.6 347.0h0M237.5 345.7h0M239.6 346.2h0M247.9 341.0h0M245.9 344.6h0M238.6 346.7h0M251.6 349.9h0M237.2 349.0h0M246.1 348.3h0M245.8 346.9h0M243.0 341.3h0M242.8 347.1h0M235.6 341.3h0M239.7 344.2h0M239.9 349.7h0M244.6 346.5h0M249.3 344.8h0M237.5 343.5h0M237.0 346.9h0M247.3 343.4h0M235.4 347.9h0M238.0 347.1h0" stroke="#ff0000" stroke-opacity="0.62" stroke-width="1.15" stroke-linecap="round" fill="none"/>
<path d="M234.1 349.3h0M248.8 342.1h0M253.1 345.0h0M243.9 337.0h0M242.5 346.9h0M245.2 341.7h0M238.5 347.8h0M238.8 347.8h0M247.8 343.3h0M250.2 346.6h0M239.4 351.0h0M245.6 323.3h0M236.9 347.2h0M240.6 342.2h0M238.1 350.0h0M243.8 342.9h0M235.5 352.2h0M242.9 343.7h0M252.0 345.9h0M248.4 330.5h0M245.2 344.0h0M249.8 330.1h0M243.2 349.7h0M247.6 349.9h0M239.7 348.5h0M241.9 346.6h0M243.1 349.3h0M245.2 347.3h0M249.3 349.2h0M247.0 316.0h0M244.8 348.4h0M237.0 352.4h0M237.4 343.0h0M241.4 342.0h0M240.0 347.3h0M237.5 345.8h0M250.5 346.7h0M246.4 341.5h0M240.7 351.2h0M247.5 345.8h0M243.4 345.3h0M237.5 344.6h0M248.2 349.9h0M240.1 342.4h0M244.5 350.5h0M242.1 349.0h0M246.7 346.9h0M237.7 347.7h0M243.8 337.5h0M243.6 349.0h0M239.8 351.1h0M247.1 349.5h0M250.1 346.4h0M250.6 349.0h0M245.2 344.8h0M236.4 348.6h0M247.6 346.6h0M251.9 349.5h0M246.3 346.6h0M244.3 344.9h0M241.5 348.6h0M246.5 348.2h0M236.7 344.4h0M242.9 348.0h0M245.3 340.4h0M248.8 342.6h0M245.7 343.2h0M245.0 339.9h0M245.7 342.8h0M239.5 344.7h0M238.4 345.3h0M248.2 347.2h0M244.9 342.5h0M246.9 345.2h0M250.1 345.6h0M239.1 348.2h0M242.8 340.8h0M244.4 343.6h0M247.0 323.8h0M244.9 338.1h0M250.9 350.6h0M250.8 346.4h0M248.4 346.7h0M246.1 327.5h0M245.7 332.4h0M240.4 347.4h0M246.1 348.0h0M241.5 349.3h0M249.7 328.4h0M242.0 342.9h0M239.7 347.0h0M236.6 341.6h0M242.8 347.4h0M242.5 343.1h0M244.2 349.5h0M241.2 346.1h0M242.7 345.4h0" stroke="#ff0000" stroke-opacity="0.62" stroke-width="1.15" stroke-linecap="round" fill="none"/>
<path d="M225.3 294.4V366.4H261.1" fill="none" stroke="#b4b4b4" stroke-width="1"/>
<path d="M229.80 366.4v1.6M238.60 366.4v1.6M247.40 366.4v1.6M256.20 366.4v1.6" stroke="#777" stroke-width="0.8"/>
<text x="215.25 217.70 222.15" y="310.1" font-size="8" text-anchor="middle" fill="#444444" stroke="#444444" stroke-width="0.18" font-family="Liberation Serif, serif">1.0</text>
<text x="215.25 217.70 222.15" y="334.1" font-size="8" text-anchor="middle" fill="#444444" stroke="#444444" stroke-width="0.18" font-family="Liberation Serif, serif">0.5</text>
<text x="215.25 217.70 222.15" y="358.1" font-size="8" text-anchor="middle" fill="#444444" stroke="#444444" stroke-width="0.18" font-family="Liberation Serif, serif">0.0</text>
<text x="229.8" y="374.3" font-size="7.2" text-anchor="middle" fill="#444444" stroke="#444444" stroke-width="0.08" font-family="Liberation Serif, serif">2</text>
<text x="238.6" y="374.3" font-size="7.2" text-anchor="middle" fill="#444444" stroke="#444444" stroke-width="0.08" font-family="Liberation Serif, serif">4</text>
<text x="247.4" y="374.3" font-size="7.2" text-anchor="middle" fill="#444444" stroke="#444444" stroke-width="0.08" font-family="Liberation Serif, serif">6</text>
<text x="256.2" y="374.3" font-size="7.2" text-anchor="middle" fill="#444444" stroke="#444444" stroke-width="0.08" font-family="Liberation Serif, serif">8</text>
<text y="383.6" font-size="9" fill="#444444" stroke="#444444" stroke-width="0.18" font-family="Liberation Serif, Noto Serif CJK SC, serif"><tspan x="229.7" font-family="Liberation Mono, monospace" font-size="9.5" font-weight="bold" stroke-width="0" textLength="8.6" lengthAdjust="spacingAndGlyphs">Md</tspan><tspan x="239.1">(</tspan><tspan x="243.9" font-size="9.6" stroke-width="0.05">Φ</tspan><tspan x="251.9">)</tspan></text>
<circle cx="241.8" cy="300.7" r="0.75" fill="#ff0000" fill-opacity="0.6"/>
<text transform="scale(0.9,1)" font-size="9.5" text-anchor="middle" fill="#444444" stroke="#444444" stroke-width="0.18" font-family="Liberation Serif, serif"><tspan x="285.58" y="304.4">A</tspan><tspan x="290.31" y="304.4">s</tspan></text>
<path d="M308.6 337.4h0M306.9 330.9h0M309.3 335.1h0M316.5 325.3h0M312.5 325.4h0M305.6 336.4h0M309.6 328.6h0M309.9 337.8h0M312.5 330.9h0M304.5 348.6h0M312.6 321.2h0M308.5 336.8h0M314.3 321.5h0M312.4 326.5h0M313.4 330.5h0M316.5 328.3h0M313.1 319.1h0M314.5 321.7h0M310.7 343.7h0M309.2 335.3h0M311.4 328.2h0M302.9 342.0h0M309.0 327.9h0M313.6 324.7h0M310.2 329.9h0M310.4 334.3h0M316.0 354.7h0M312.5 318.5h0M311.9 338.8h0M315.8 328.9h0M320.3 321.7h0M311.4 327.7h0M312.1 319.8h0M313.7 333.8h0M309.7 331.0h0M311.6 330.3h0M317.9 323.2h0M302.9 320.0h0M310.3 328.2h0M305.3 340.9h0M319.7 327.3h0M310.4 322.0h0M310.6 326.7h0M307.2 328.8h0M309.4 326.7h0M312.4 316.9h0M311.2 335.7h0M307.4 350.8h0M307.6 326.4h0M317.2 333.4h0M304.2 335.1h0M313.2 325.1h0M307.6 336.8h0M308.9 337.3h0M315.7 320.7h0M310.8 333.9h0M311.6 333.0h0M317.1 315.0h0M315.5 331.5h0M308.4 332.7h0M308.0 335.6h0M312.9 326.5h0M307.1 331.6h0M306.2 336.3h0M313.3 331.0h0M311.0 323.4h0M309.1 327.6h0M304.4 332.4h0M308.8 329.5h0M310.0 328.6h0M315.7 328.0h0M316.3 338.2h0M309.8 329.6h0M308.7 331.5h0M313.4 317.5h0M308.6 329.0h0M312.2 322.6h0M315.2 324.2h0M309.9 348.5h0M310.3 319.6h0M316.2 322.1h0M319.5 322.5h0M313.0 320.4h0M320.9 316.6h0M311.0 334.4h0M303.7 335.7h0M312.1 313.7h0M312.2 331.7h0M318.1 325.5h0M307.4 348.1h0M316.6 323.1h0M309.5 320.7h0M310.8 332.1h0M312.9 326.6h0M317.6 315.9h0M306.8 339.0h0M313.3 334.1h0M301.7 345.1h0M316.1 331.0h0M316.0 320.4h0M313.3 326.7h0M300.6 351.4h0M314.4 317.2h0M318.5 316.0h0M313.4 318.6h0M314.0 324.6h0M303.9 335.3h0M309.5 338.0h0M307.5 332.5h0M303.3 334.8h0M311.8 329.3h0M312.6 321.0h0M308.9 325.5h0M312.7 320.8h0M319.4 325.1h0M317.5 318.9h0" stroke="#ff0000" stroke-opacity="0.62" stroke-width="1.15" stroke-linecap="round" fill="none"/>
<path d="M310.1 326.4h0M314.6 325.4h0M313.4 326.6h0M310.0 333.2h0M306.1 340.4h0M309.8 319.3h0M308.2 329.7h0M312.3 322.3h0M305.3 332.0h0M317.3 320.6h0M299.2 339.2h0M313.7 327.6h0M313.4 319.2h0M308.1 331.6h0M303.7 329.3h0M307.0 331.9h0M302.7 340.4h0M314.2 321.4h0M311.0 335.3h0M313.8 333.4h0M307.5 331.5h0M312.6 325.8h0M310.3 326.9h0M311.1 340.9h0M311.8 319.3h0M319.0 315.4h0M303.7 337.0h0M306.4 334.1h0M307.8 328.2h0M306.2 340.0h0M311.7 336.4h0M316.8 328.6h0M314.7 309.2h0M315.0 328.5h0M311.0 339.1h0M317.0 319.0h0M302.7 343.2h0M308.9 326.6h0M298.5 352.4h0M309.7 335.4h0M310.5 326.5h0M315.0 325.8h0M318.1 328.6h0M316.8 323.1h0M307.7 324.0h0M308.7 335.3h0M307.4 335.6h0M312.7 333.5h0M313.0 324.3h0M309.8 320.6h0M315.6 326.4h0M312.7 320.0h0M305.4 327.9h0M309.9 333.2h0M316.7 320.0h0M319.3 321.4h0M302.8 333.1h0M313.0 334.3h0M313.2 322.6h0M307.0 333.5h0M315.2 324.8h0M315.2 332.4h0M318.8 324.0h0M317.5 328.5h0M314.0 331.0h0M310.9 328.3h0M313.3 322.7h0M312.1 328.5h0M316.2 319.2h0M307.5 332.2h0M303.8 337.8h0M312.5 327.7h0M308.7 324.0h0M312.8 322.9h0M314.4 329.0h0M320.0 332.1h0M312.9 332.0h0M318.8 330.2h0M313.5 329.3h0M307.7 336.1h0M317.4 323.7h0M301.9 335.5h0M316.8 322.6h0M310.8 328.8h0M304.0 339.2h0M314.6 331.7h0M307.0 330.7h0M314.1 324.4h0M307.3 335.7h0M320.3 314.4h0M310.4 328.4h0M313.5 325.6h0M316.0 319.9h0M313.1 325.6h0M309.5 329.6h0M308.1 325.5h0M309.4 325.5h0M305.9 322.4h0M311.9 332.8h0M308.5 336.1h0M318.2 322.0h0M314.7 322.1h0M318.8 321.1h0M309.5 347.8h0M315.1 325.2h0M308.8 328.3h0M313.3 329.2h0M316.2 325.0h0M307.0 330.7h0M311.6 331.5h0M301.3 334.8h0M311.5 326.3h0M307.2 334.5h0M312.6 324.5h0M307.5 335.3h0M304.0 335.8h0" stroke="#ff0000" stroke-opacity="0.62" stroke-width="1.15" stroke-linecap="round" fill="none"/>
<path d="M312.6 319.9h0M315.1 320.2h0M307.7 325.4h0M308.3 335.9h0M309.9 331.9h0M308.7 337.4h0M307.0 330.9h0M319.2 330.1h0M321.1 321.2h0M307.1 330.2h0M317.7 324.3h0M310.2 330.1h0M306.9 333.5h0M310.9 329.4h0M313.9 324.5h0M316.2 322.1h0M319.0 323.4h0M313.3 329.2h0M317.4 319.3h0M304.5 326.2h0M319.6 321.8h0M314.7 323.6h0M306.8 345.0h0M314.3 319.8h0M311.7 329.5h0M312.7 337.4h0M308.4 331.3h0M310.9 324.3h0M314.7 325.1h0M309.9 329.5h0M306.3 330.9h0M308.9 343.6h0M308.5 328.7h0M310.7 327.7h0M310.2 332.3h0M306.2 332.8h0M315.1 336.3h0M310.7 339.0h0M312.5 327.0h0M309.8 335.0h0M305.2 331.2h0M319.6 337.2h0M320.2 316.9h0M308.9 336.8h0M314.9 321.0h0M314.7 325.8h0M312.8 334.3h0M307.1 333.6h0M308.4 339.7h0M317.5 328.4h0M306.8 336.4h0M313.8 321.4h0M305.7 331.2h0M316.1 331.0h0M310.7 324.2h0M308.9 340.0h0M307.9 325.6h0M312.1 333.2h0M314.2 326.8h0M315.1 325.1h0M312.4 334.3h0M301.2 335.2h0M308.7 332.1h0M324.2 315.4h0M309.7 338.6h0M309.2 329.2h0M305.6 336.5h0M310.3 342.3h0M304.2 339.3h0M310.2 329.1h0M315.0 326.4h0M308.3 335.2h0M308.5 331.5h0M321.9 320.6h0M318.2 328.0h0M314.1 322.9h0M317.3 331.9h0M310.5 331.3h0M315.7 324.8h0M307.3 330.9h0M308.9 326.6h0M313.0 322.7h0M310.5 325.6h0M316.2 327.5h0M310.7 324.8h0M306.1 320.9h0M314.6 325.3h0M310.6 321.5h0M305.8 335.5h0M312.7 326.8h0M314.8 327.1h0M311.2 328.3h0M310.0 344.6h0M313.2 325.6h0M316.6 311.1h0M306.4 327.4h0M312.3 330.4h0M316.3 323.1h0M314.6 320.4h0M309.4 319.6h0M309.4 324.5h0M308.4 330.8h0M310.8 333.2h0M311.7 309.9h0M307.8 323.2h0M306.8 335.0h0M318.9 330.5h0M311.8 328.8h0M312.6 325.7h0M307.4 334.1h0M313.5 332.2h0M309.7 322.2h0M305.7 346.1h0M303.9 340.2h0M303.0 344.4h0" stroke="#ff0000" stroke-opacity="0.62" stroke-width="1.15" stroke-linecap="round" fill="none"/>
<path d="M293.7 294.4V366.4H329.5" fill="none" stroke="#b4b4b4" stroke-width="1"/>
<path d="M298.20 366.4v1.6M307.00 366.4v1.6M315.80 366.4v1.6M324.60 366.4v1.6" stroke="#777" stroke-width="0.8"/>
<text x="283.65 286.10 290.55" y="310.1" font-size="8" text-anchor="middle" fill="#444444" stroke="#444444" stroke-width="0.18" font-family="Liberation Serif, serif">1.0</text>
<text x="283.65 286.10 290.55" y="334.1" font-size="8" text-anchor="middle" fill="#444444" stroke="#444444" stroke-width="0.18" font-family="Liberation Serif, serif">0.5</text>
<text x="283.65 286.10 290.55" y="358.1" font-size="8" text-anchor="middle" fill="#444444" stroke="#444444" stroke-width="0.18" font-family="Liberation Serif, serif">0.0</text>
<text x="298.2" y="374.3" font-size="7.2" text-anchor="middle" fill="#444444" stroke="#444444" stroke-width="0.08" font-family="Liberation Serif, serif">2</text>
<text x="307.0" y="374.3" font-size="7.2" text-anchor="middle" fill="#444444" stroke="#444444" stroke-width="0.08" font-family="Liberation Serif, serif">4</text>
<text x="315.8" y="374.3" font-size="7.2" text-anchor="middle" fill="#444444" stroke="#444444" stroke-width="0.08" font-family="Liberation Serif, serif">6</text>
<text x="324.6" y="374.3" font-size="7.2" text-anchor="middle" fill="#444444" stroke="#444444" stroke-width="0.08" font-family="Liberation Serif, serif">8</text>
<text y="383.6" font-size="9" fill="#444444" stroke="#444444" stroke-width="0.18" font-family="Liberation Serif, Noto Serif CJK SC, serif"><tspan x="298.1" font-family="Liberation Mono, monospace" font-size="9.5" font-weight="bold" stroke-width="0" textLength="8.6" lengthAdjust="spacingAndGlyphs">Md</tspan><tspan x="307.5">(</tspan><tspan x="312.3" font-size="9.6" stroke-width="0.05">Φ</tspan><tspan x="320.3">)</tspan></text>
<circle cx="310.3" cy="300.7" r="0.75" fill="#ff0000" fill-opacity="0.6"/>
<text transform="scale(0.9,1)" font-size="9.5" text-anchor="middle" fill="#444444" stroke="#444444" stroke-width="0.18" font-family="Liberation Serif, serif"><tspan x="361.25" y="304.4">N</tspan><tspan x="365.97" y="304.4">b</tspan></text>
<path d="M374.9 337.0h0M381.6 345.6h0M375.2 351.6h0M375.0 335.5h0M387.3 346.7h0M384.9 347.5h0M385.2 342.8h0M372.4 351.6h0M382.8 344.8h0M384.4 347.3h0M382.6 343.1h0M379.2 342.5h0M382.7 344.4h0M383.1 343.4h0M381.5 346.6h0M373.7 332.2h0M379.0 344.8h0M380.8 345.0h0M378.5 345.6h0M383.6 345.4h0M388.2 343.7h0M375.8 341.8h0M372.6 340.1h0M381.7 342.7h0M379.1 344.4h0M386.2 347.6h0M381.7 345.0h0M387.9 341.7h0M379.6 344.4h0M382.1 343.1h0M385.8 343.8h0M380.3 342.9h0M375.8 348.8h0M379.5 339.9h0M383.5 317.1h0M384.5 341.9h0M382.9 346.4h0M373.9 335.1h0M385.4 343.9h0M375.7 333.4h0M383.2 348.3h0M381.4 345.4h0M375.4 334.7h0M384.1 344.4h0M377.7 348.5h0M378.6 351.6h0M388.6 340.7h0M384.3 347.1h0M387.1 346.1h0M384.3 346.1h0M377.5 343.6h0M374.5 346.5h0M376.1 340.6h0M375.3 336.2h0M373.4 331.4h0M385.0 343.9h0M390.6 342.0h0M378.2 344.1h0M383.7 348.4h0M386.4 344.9h0M383.5 341.2h0M381.5 347.9h0M382.0 344.2h0M375.9 346.7h0M383.6 347.1h0M386.0 344.7h0M384.8 350.8h0M383.4 345.0h0M380.9 340.2h0M383.7 340.7h0M384.4 343.1h0M388.9 347.1h0M381.2 343.1h0M383.3 348.3h0" stroke="#0000ff" stroke-opacity="0.7" stroke-width="1.15" stroke-linecap="round" fill="none"/>
<path d="M388.5 330.0h0M387.0 349.4h0M386.8 346.2h0M371.1 342.6h0M381.8 344.9h0M380.3 348.8h0M385.6 344.0h0M386.7 348.1h0M382.1 349.0h0M373.9 323.9h0M381.1 345.0h0M377.1 350.1h0M387.4 347.2h0M374.9 306.5h0M377.6 338.8h0M385.7 351.5h0M382.4 348.5h0M386.6 345.4h0M384.6 346.7h0M386.1 348.6h0M383.3 344.1h0M380.8 342.6h0M383.6 347.2h0M387.9 348.0h0M373.1 340.2h0M387.2 345.7h0M384.7 347.4h0M385.4 348.0h0M383.2 347.8h0M387.4 321.0h0M385.3 339.6h0M382.9 345.8h0M384.3 344.3h0M385.9 342.6h0M383.2 340.1h0M380.5 340.5h0M387.6 341.8h0M378.7 343.5h0M380.4 345.7h0M382.9 347.6h0M386.7 346.5h0M381.8 347.2h0M375.3 337.8h0M374.3 333.2h0M375.9 331.7h0M381.8 349.8h0M384.2 346.6h0M378.9 350.9h0M376.1 350.6h0M387.9 344.3h0M382.8 343.5h0M381.6 344.8h0M382.3 344.2h0M376.4 350.0h0M388.1 345.8h0M376.0 335.5h0M388.1 345.4h0M382.3 345.2h0M382.5 347.5h0M386.2 345.1h0M374.1 348.0h0M377.2 341.9h0M388.7 351.6h0M380.8 344.5h0M376.5 333.8h0M373.2 341.5h0M379.0 343.5h0M378.8 341.7h0M382.7 348.2h0M381.4 339.9h0M382.8 346.6h0M390.9 343.5h0M374.7 331.7h0M374.5 327.0h0" stroke="#0000ff" stroke-opacity="0.7" stroke-width="1.15" stroke-linecap="round" fill="none"/>
<path d="M385.5 346.0h0M380.1 347.7h0M384.0 347.5h0M383.6 342.9h0M381.0 343.9h0M384.7 340.4h0M383.5 343.7h0M387.3 343.7h0M381.2 342.7h0M373.2 342.0h0M381.6 344.1h0M381.2 350.2h0M385.0 345.0h0M386.6 339.7h0M383.8 342.9h0M387.5 349.1h0M381.9 344.4h0M385.0 345.0h0M387.6 349.1h0M390.8 350.7h0M372.4 347.4h0M382.8 342.7h0M383.8 345.0h0M386.4 344.2h0M382.1 344.8h0M390.9 342.8h0M379.4 343.8h0M380.0 348.8h0M388.0 339.9h0M388.8 349.9h0M382.8 343.7h0M379.1 349.2h0M380.3 345.2h0M384.9 343.9h0M388.6 345.8h0M374.0 342.5h0M384.9 342.0h0M381.1 344.1h0M381.9 350.0h0M389.8 349.8h0M382.0 344.2h0M384.3 342.1h0M386.1 344.4h0M387.2 341.9h0M387.0 344.0h0M383.5 339.2h0M384.2 345.6h0M383.8 345.7h0M380.7 346.9h0M384.9 350.7h0M390.7 342.2h0M387.3 341.1h0M385.7 343.6h0M375.5 346.2h0M381.6 344.4h0M374.4 347.4h0M389.8 348.6h0M380.7 345.7h0M383.1 344.9h0M383.5 343.9h0M375.0 334.0h0M384.1 344.1h0M382.7 343.7h0M378.8 344.2h0M379.8 343.4h0M381.2 344.7h0M383.5 344.4h0M385.9 345.0h0M379.0 344.9h0M374.8 341.0h0M381.8 348.7h0M385.2 349.5h0M381.9 343.0h0" stroke="#0000ff" stroke-opacity="0.7" stroke-width="1.15" stroke-linecap="round" fill="none"/>
<path d="M361.8 294.4V366.4H397.6" fill="none" stroke="#b4b4b4" stroke-width="1"/>
<path d="M366.30 366.4v1.6M375.10 366.4v1.6M383.90 366.4v1.6M392.70 366.4v1.6" stroke="#777" stroke-width="0.8"/>
<text x="351.75 354.20 358.65" y="310.1" font-size="8" text-anchor="middle" fill="#444444" stroke="#444444" stroke-width="0.18" font-family="Liberation Serif, serif">1.0</text>
<text x="351.75 354.20 358.65" y="334.1" font-size="8" text-anchor="middle" fill="#444444" stroke="#444444" stroke-width="0.18" font-family="Liberation Serif, serif">0.5</text>
<text x="351.75 354.20 358.65" y="358.1" font-size="8" text-anchor="middle" fill="#444444" stroke="#444444" stroke-width="0.18" font-family="Liberation Serif, serif">0.0</text>
<text x="366.3" y="374.3" font-size="7.2" text-anchor="middle" fill="#444444" stroke="#444444" stroke-width="0.08" font-family="Liberation Serif, serif">2</text>
<text x="375.1" y="374.3" font-size="7.2" text-anchor="middle" fill="#444444" stroke="#444444" stroke-width="0.08" font-family="Liberation Serif, serif">4</text>
<text x="383.9" y="374.3" font-size="7.2" text-anchor="middle" fill="#444444" stroke="#444444" stroke-width="0.08" font-family="Liberation Serif, serif">6</text>
<text x="392.7" y="374.3" font-size="7.2" text-anchor="middle" fill="#444444" stroke="#444444" stroke-width="0.08" font-family="Liberation Serif, serif">8</text>
<text y="383.6" font-size="9" fill="#444444" stroke="#444444" stroke-width="0.18" font-family="Liberation Serif, Noto Serif CJK SC, serif"><tspan x="366.2" font-family="Liberation Mono, monospace" font-size="9.5" font-weight="bold" stroke-width="0" textLength="8.6" lengthAdjust="spacingAndGlyphs">Md</tspan><tspan x="375.6">(</tspan><tspan x="380.4" font-size="9.6" stroke-width="0.05">Φ</tspan><tspan x="388.4">)</tspan></text>
<circle cx="378" cy="300.7" r="0.75" fill="#0000ff" fill-opacity="0.6"/>
<text transform="scale(0.9,1)" font-size="9.5" text-anchor="middle" fill="#444444" stroke="#444444" stroke-width="0.18" font-family="Liberation Serif, serif"><tspan x="436.69" y="304.4">H</tspan><tspan x="441.42" y="304.4">f</tspan></text>
<path d="M443.5 349.8h0M444.1 352.9h0M452.5 352.8h0M444.1 351.9h0M447.9 344.9h0M442.6 350.4h0M450.8 347.5h0M453.2 351.7h0M447.1 353.6h0M448.5 323.0h0M449.3 310.9h0M450.6 352.8h0M440.2 349.1h0M451.1 345.3h0M447.6 348.2h0M436.3 348.5h0M449.5 352.8h0M449.9 335.2h0M445.4 347.2h0M453.1 353.6h0M457.0 351.8h0M451.8 353.0h0M451.5 348.3h0M443.8 349.9h0M443.8 349.4h0M443.9 348.8h0M442.7 347.9h0M449.8 347.0h0M450.3 344.6h0M451.7 352.0h0M450.1 347.9h0M458.6 347.0h0M449.4 353.4h0M449.3 347.2h0M450.9 353.1h0M446.8 349.6h0M454.9 345.6h0M443.6 348.8h0M443.3 349.2h0M451.4 353.3h0M440.8 353.1h0M440.5 353.4h0M450.9 350.5h0M450.5 349.2h0M439.9 353.5h0M448.4 331.0h0M451.7 349.1h0M450.7 351.0h0M450.0 351.6h0M444.1 347.9h0M441.1 348.3h0M449.9 348.7h0M446.9 353.2h0M448.1 345.5h0M446.2 348.8h0M449.1 349.6h0M452.7 346.6h0M441.9 344.1h0M447.8 339.1h0M454.7 342.7h0M444.6 348.6h0M443.5 348.3h0M444.8 347.1h0M453.5 333.4h0M440.8 353.4h0M455.5 350.9h0M444.3 353.4h0M453.4 336.2h0M448.7 344.6h0M439.7 349.3h0M446.3 343.9h0M455.9 336.4h0M446.3 347.2h0M447.0 346.3h0M444.7 342.5h0M451.7 351.6h0M442.5 350.1h0M450.7 336.0h0M449.7 353.1h0M447.0 352.0h0M446.4 349.9h0M452.0 351.4h0M457.6 352.3h0M446.5 353.2h0M453.8 332.0h0M442.8 354.1h0M444.8 350.4h0M456.6 349.5h0M441.5 342.4h0" stroke="#0000ff" stroke-opacity="0.7" stroke-width="1.15" stroke-linecap="round" fill="none"/>
<path d="M443.4 346.0h0M450.4 352.8h0M458.6 350.8h0M458.0 348.3h0M442.9 347.4h0M442.5 345.8h0M458.0 350.0h0M449.2 333.3h0M451.4 348.6h0M452.2 330.7h0M451.7 352.1h0M443.6 349.8h0M442.0 348.1h0M448.9 346.8h0M450.7 346.3h0M453.1 335.6h0M450.4 348.9h0M450.3 351.4h0M442.3 344.2h0M454.8 347.7h0M451.5 351.5h0M443.9 346.6h0M444.5 350.2h0M449.9 347.9h0M456.6 351.5h0M453.1 333.5h0M450.3 351.1h0M447.6 336.7h0M446.9 349.6h0M453.7 346.8h0M453.9 348.8h0M451.6 348.6h0M446.7 351.6h0M450.0 352.9h0M444.2 349.0h0M451.2 349.9h0M454.8 309.1h0M441.1 353.2h0M447.9 344.8h0M449.3 349.0h0M458.2 351.5h0M449.0 346.6h0M458.1 352.5h0M443.6 353.9h0M445.5 348.6h0M448.5 353.1h0M452.8 353.4h0M455.0 331.1h0M447.5 353.6h0M450.7 342.3h0M451.0 350.6h0M444.2 349.1h0M443.2 352.5h0M448.7 338.2h0M451.9 347.8h0M456.9 346.7h0M450.7 349.0h0M444.8 345.3h0M442.7 347.9h0M451.6 351.3h0M446.6 348.5h0M447.7 349.1h0M452.4 343.9h0M447.8 328.3h0M450.4 353.2h0M451.4 351.5h0M450.9 346.2h0M442.0 347.5h0M454.4 323.3h0M453.6 347.9h0M451.5 311.1h0M439.8 349.9h0M440.1 353.3h0M442.3 348.2h0M446.4 348.4h0M455.0 352.4h0M452.0 323.3h0M451.1 350.2h0M449.2 353.4h0M452.5 353.0h0M450.0 349.4h0M453.1 307.0h0M442.3 349.6h0M450.2 318.8h0M449.9 347.6h0M442.7 349.0h0M454.9 353.5h0M432.8 349.3h0M451.9 346.6h0" stroke="#0000ff" stroke-opacity="0.7" stroke-width="1.15" stroke-linecap="round" fill="none"/>
<path d="M439.8 346.6h0M439.1 348.6h0M457.7 347.2h0M455.7 344.0h0M440.9 348.2h0M442.6 353.3h0M447.7 318.0h0M454.5 337.5h0M452.8 348.9h0M452.6 352.3h0M447.8 348.1h0M444.1 353.0h0M454.8 326.2h0M452.6 346.0h0M448.3 353.0h0M450.3 353.3h0M445.8 345.3h0M451.2 344.6h0M443.1 348.1h0M449.8 334.8h0M451.0 307.3h0M452.6 353.6h0M449.2 351.2h0M453.9 349.8h0M445.6 345.8h0M453.3 347.2h0M445.9 352.9h0M450.9 345.6h0M444.9 350.3h0M457.2 343.1h0M451.6 330.3h0M444.8 349.3h0M440.8 348.2h0M441.9 351.7h0M452.5 350.1h0M450.3 353.2h0M453.5 348.2h0M451.6 341.1h0M449.1 352.9h0M442.0 345.7h0M452.9 353.4h0M456.7 344.2h0M453.1 347.8h0M447.4 353.3h0M457.3 343.6h0M447.8 348.0h0M450.8 353.3h0M454.7 327.3h0M455.2 350.4h0M448.9 347.9h0M450.5 344.9h0M450.1 352.9h0M455.4 327.5h0M454.4 352.8h0M441.6 353.6h0M450.1 337.2h0M451.0 349.1h0M448.8 349.7h0M446.1 349.4h0M450.4 350.0h0M450.8 347.2h0M440.9 350.2h0M449.6 348.2h0M442.2 343.8h0M438.2 349.1h0M448.9 351.3h0M445.1 345.2h0M455.3 351.4h0M446.9 351.1h0M449.1 353.3h0M444.6 349.0h0M444.7 346.8h0M442.7 351.3h0M442.3 353.4h0M451.2 345.3h0M450.5 347.2h0M442.6 347.3h0M449.4 343.3h0M443.1 350.8h0M446.3 349.2h0M442.3 348.6h0M447.9 345.6h0M448.5 334.2h0M456.3 343.6h0M443.5 346.8h0M452.2 346.2h0M450.8 346.9h0M453.1 327.1h0M451.8 336.2h0" stroke="#0000ff" stroke-opacity="0.7" stroke-width="1.15" stroke-linecap="round" fill="none"/>
<path d="M430.1 294.4V366.4H465.90000000000003" fill="none" stroke="#b4b4b4" stroke-width="1"/>
<path d="M434.60 366.4v1.6M443.40 366.4v1.6M452.20 366.4v1.6M461.00 366.4v1.6" stroke="#777" stroke-width="0.8"/>
<text x="420.05 422.50 426.95" y="310.1" font-size="8" text-anchor="middle" fill="#444444" stroke="#444444" stroke-width="0.18" font-family="Liberation Serif, serif">1.0</text>
<text x="420.05 422.50 426.95" y="334.1" font-size="8" text-anchor="middle" fill="#444444" stroke="#444444" stroke-width="0.18" font-family="Liberation Serif, serif">0.5</text>
<text x="420.05 422.50 426.95" y="358.1" font-size="8" text-anchor="middle" fill="#444444" stroke="#444444" stroke-width="0.18" font-family="Liberation Serif, serif">0.0</text>
<text x="434.6" y="374.3" font-size="7.2" text-anchor="middle" fill="#444444" stroke="#444444" stroke-width="0.08" font-family="Liberation Serif, serif">2</text>
<text x="443.4" y="374.3" font-size="7.2" text-anchor="middle" fill="#444444" stroke="#444444" stroke-width="0.08" font-family="Liberation Serif, serif">4</text>
<text x="452.2" y="374.3" font-size="7.2" text-anchor="middle" fill="#444444" stroke="#444444" stroke-width="0.08" font-family="Liberation Serif, serif">6</text>
<text x="461.0" y="374.3" font-size="7.2" text-anchor="middle" fill="#444444" stroke="#444444" stroke-width="0.08" font-family="Liberation Serif, serif">8</text>
<text y="383.6" font-size="9" fill="#444444" stroke="#444444" stroke-width="0.18" font-family="Liberation Serif, Noto Serif CJK SC, serif"><tspan x="434.5" font-family="Liberation Mono, monospace" font-size="9.5" font-weight="bold" stroke-width="0" textLength="8.6" lengthAdjust="spacingAndGlyphs">Md</tspan><tspan x="443.9">(</tspan><tspan x="448.7" font-size="9.6" stroke-width="0.05">Φ</tspan><tspan x="456.7">)</tspan></text>
<circle cx="446.6" cy="300.7" r="0.75" fill="#0000ff" fill-opacity="0.6"/>
<text transform="scale(0.9,1)" font-size="9.5" text-anchor="middle" fill="#444444" stroke="#444444" stroke-width="0.18" font-family="Liberation Serif, serif"><tspan x="513.36" y="304.4">T</tspan><tspan x="518.08" y="304.4">a</tspan></text>
<path d="M519.1 317.9h0M513.5 321.0h0M518.2 334.5h0M516.1 353.7h0M517.7 353.9h0M520.8 325.0h0M525.2 354.0h0M521.8 310.5h0M522.4 327.1h0M514.0 354.5h0M509.7 334.7h0M510.5 332.3h0M519.0 327.7h0M515.1 324.3h0M512.1 328.9h0M524.3 354.0h0M522.5 327.2h0M518.1 325.8h0M516.2 337.0h0M516.1 352.4h0M517.1 328.7h0M509.8 329.2h0M519.0 354.0h0M520.9 318.8h0M512.5 338.0h0M513.7 319.8h0M510.9 330.9h0M510.6 321.4h0M504.9 340.7h0M512.9 332.9h0M518.1 340.1h0M514.8 331.0h0M521.7 321.2h0M520.6 319.9h0M518.9 321.0h0M515.0 342.7h0M512.6 331.0h0M523.5 322.8h0M511.1 327.0h0M518.7 326.0h0M518.6 353.9h0M522.5 330.6h0M518.5 320.4h0M512.0 348.6h0M507.9 340.5h0M517.1 322.3h0M513.4 326.6h0M513.6 329.0h0M519.4 343.6h0M519.2 317.4h0M504.7 344.2h0M510.7 347.1h0M505.9 340.6h0M515.1 316.7h0M515.2 328.3h0M520.8 319.3h0M509.3 332.0h0M510.7 328.1h0M520.6 319.7h0M521.8 325.3h0M517.5 331.9h0M516.0 333.3h0M521.3 326.3h0M515.5 333.5h0M517.0 328.3h0M516.2 323.6h0M518.6 325.2h0M514.7 328.7h0M511.4 317.5h0M522.8 324.0h0M516.2 318.6h0M513.4 340.1h0M515.6 327.0h0M518.8 341.7h0M522.2 323.7h0M513.1 342.9h0M516.2 354.2h0M512.6 336.2h0M514.8 326.9h0M518.1 327.4h0M514.1 326.4h0M509.4 339.4h0M513.1 344.7h0M513.5 326.9h0M520.4 350.5h0M511.4 331.1h0M510.9 329.5h0M518.7 309.7h0M515.1 327.5h0M519.2 326.7h0M516.4 330.6h0M513.3 329.3h0M523.3 319.8h0M513.6 334.4h0M520.9 325.5h0M514.2 333.8h0M511.5 330.0h0M516.2 329.0h0M522.5 323.8h0M515.3 333.1h0M511.7 334.3h0M519.7 329.4h0M522.8 326.6h0M515.6 325.5h0M512.5 330.1h0M513.9 327.5h0M514.6 353.5h0M519.1 354.1h0M524.5 353.8h0M521.6 325.1h0M514.8 325.0h0M511.4 339.0h0M513.6 334.9h0M512.3 346.6h0M506.6 335.6h0M509.2 326.9h0M510.1 326.3h0M525.2 353.9h0M518.4 328.6h0M520.0 334.6h0M520.0 324.9h0M514.8 332.8h0M525.3 354.1h0M516.7 324.9h0M509.9 338.7h0M519.6 315.1h0M520.3 320.4h0M515.7 325.8h0M524.7 323.8h0M511.8 330.0h0M517.8 322.3h0M514.1 330.7h0M513.0 329.0h0M524.6 325.0h0M521.6 327.2h0M512.6 336.6h0M509.6 330.4h0M507.4 342.0h0M506.8 342.0h0" stroke="#ff0000" stroke-opacity="0.62" stroke-width="1.15" stroke-linecap="round" fill="none"/>
<path d="M513.2 326.2h0M518.8 320.5h0M512.5 331.8h0M520.2 326.5h0M523.6 331.0h0M510.5 336.2h0M517.5 331.2h0M520.5 323.1h0M520.8 320.2h0M519.4 324.5h0M514.1 331.7h0M516.7 315.7h0M516.7 354.3h0M518.7 325.3h0M520.9 329.2h0M511.4 340.2h0M521.2 314.8h0M515.2 321.5h0M510.5 344.0h0M511.8 325.2h0M513.2 332.7h0M521.9 321.6h0M511.2 326.3h0M511.8 340.3h0M520.0 320.7h0M517.6 324.8h0M513.9 334.1h0M514.9 323.1h0M509.2 338.5h0M517.4 330.5h0M519.9 348.4h0M508.0 323.3h0M513.4 324.7h0M512.2 330.7h0M509.8 326.0h0M521.1 354.1h0M518.4 328.9h0M519.6 323.6h0M512.8 331.7h0M524.6 353.9h0M522.2 322.5h0M507.6 341.7h0M519.3 314.6h0M518.9 322.6h0M510.5 333.2h0M520.1 323.8h0M506.7 335.0h0M526.3 323.0h0M510.8 342.0h0M518.4 317.6h0M520.5 319.1h0M520.5 324.5h0M519.9 319.1h0M520.6 319.7h0M513.2 329.2h0M513.5 328.7h0M515.9 332.2h0M513.3 328.4h0M523.2 327.7h0M514.7 328.8h0M515.1 337.9h0M518.4 345.8h0M513.2 353.8h0M521.8 325.6h0M513.1 324.7h0M518.5 323.9h0M512.8 327.0h0M520.2 323.1h0M505.9 332.5h0M511.3 334.3h0M524.5 322.0h0M523.6 322.4h0M525.2 316.4h0M522.1 353.7h0M519.8 330.5h0M514.4 331.2h0M516.1 334.3h0M522.2 328.4h0M519.0 327.1h0M509.1 330.4h0M521.5 322.6h0M509.1 342.7h0M512.2 330.0h0M521.1 353.3h0M523.8 310.8h0M510.1 338.1h0M523.9 307.9h0M521.7 325.8h0M520.5 327.7h0M521.3 319.0h0M507.8 340.4h0M519.4 327.8h0M517.6 352.4h0M519.3 320.3h0M522.0 322.2h0M516.8 320.4h0M517.9 331.4h0M517.3 335.5h0M520.9 324.2h0M517.7 324.7h0M511.6 329.9h0M513.5 333.0h0M521.0 324.3h0M516.2 320.2h0M513.9 332.7h0M515.4 339.0h0M518.0 322.3h0M513.8 329.4h0M526.0 321.4h0M514.7 353.6h0M515.8 354.1h0M521.2 327.8h0M526.3 328.8h0M522.2 320.2h0M510.7 325.5h0M512.0 336.5h0M516.4 329.4h0M513.9 325.0h0M515.0 323.7h0M512.1 346.5h0M507.9 327.8h0M517.0 331.2h0M516.5 328.4h0M511.8 333.6h0M514.8 329.2h0M519.9 322.6h0M513.7 323.8h0M523.0 315.9h0M514.7 322.2h0M511.8 334.3h0M515.6 341.3h0M520.4 351.6h0M516.7 325.3h0M511.7 329.7h0M515.2 324.6h0M514.7 332.9h0M522.0 354.1h0M511.1 330.9h0" stroke="#ff0000" stroke-opacity="0.62" stroke-width="1.15" stroke-linecap="round" fill="none"/>
<path d="M525.0 353.5h0M513.3 324.0h0M518.4 319.5h0M508.9 339.3h0M515.4 332.8h0M510.6 335.7h0M520.9 324.6h0M511.2 330.2h0M519.2 351.2h0M516.8 327.2h0M510.7 322.6h0M507.9 328.3h0M512.6 332.8h0M523.6 326.9h0M523.0 325.7h0M517.2 334.3h0M515.9 319.4h0M514.5 353.8h0M511.5 328.6h0M519.6 326.5h0M519.0 319.7h0M514.9 330.8h0M515.6 329.3h0M524.8 354.1h0M506.7 335.5h0M518.7 354.0h0M513.8 345.4h0M508.1 330.2h0M517.3 335.1h0M524.4 331.9h0M514.4 331.5h0M510.8 330.7h0M514.3 331.1h0M522.0 353.8h0M520.3 322.4h0M510.5 330.8h0M512.0 346.8h0M517.0 330.1h0M520.4 350.9h0M514.6 341.3h0M525.4 354.5h0M509.2 333.5h0M518.9 324.9h0M509.3 326.3h0M514.1 326.8h0M518.5 328.9h0M517.3 327.7h0M505.5 333.9h0M517.6 321.8h0M518.0 328.1h0M515.7 327.1h0M521.2 320.8h0M517.7 335.4h0M522.0 316.6h0M516.7 320.1h0M518.7 324.9h0M516.2 329.8h0M510.1 333.0h0M518.3 321.7h0M512.8 347.4h0M527.3 311.8h0M508.8 327.9h0M516.7 333.4h0M512.3 333.3h0M520.4 316.2h0M517.1 326.0h0M517.0 318.4h0M505.6 343.0h0M520.6 346.7h0M522.4 329.6h0M518.1 326.0h0M514.5 327.9h0M511.9 337.4h0M514.4 332.1h0M515.1 319.2h0M516.6 324.9h0M519.6 324.5h0M517.1 353.9h0M508.1 332.8h0M515.4 322.0h0M513.2 354.0h0M516.9 326.6h0M513.5 336.3h0M517.2 339.8h0M522.0 322.2h0M523.3 321.9h0M517.4 354.1h0M519.5 353.9h0M514.2 331.3h0M520.4 320.4h0M508.7 332.7h0M518.9 321.5h0M514.7 333.6h0M514.7 332.4h0M513.7 331.4h0M519.1 351.1h0M513.8 353.8h0M507.0 335.0h0M514.9 322.2h0M521.3 307.4h0M512.8 327.0h0M522.4 320.6h0M520.0 325.3h0M514.0 343.6h0M514.3 333.8h0M519.6 323.1h0M521.5 327.7h0M519.7 323.9h0M516.3 332.7h0M520.0 322.3h0M519.7 323.3h0M514.9 332.8h0M515.2 330.1h0M512.8 325.2h0M520.5 325.5h0M514.6 351.8h0M516.4 326.4h0M515.4 325.8h0M519.6 317.9h0M516.4 320.0h0M515.1 329.7h0M512.4 336.9h0M510.9 327.7h0M512.9 330.0h0M520.2 325.1h0M515.6 348.4h0M519.5 324.2h0M521.6 323.7h0M516.6 334.3h0M511.5 333.6h0M506.1 338.7h0M513.4 341.2h0M516.0 354.1h0M514.9 323.4h0M517.3 320.7h0M512.7 336.7h0M513.1 354.1h0M512.8 330.5h0" stroke="#ff0000" stroke-opacity="0.62" stroke-width="1.15" stroke-linecap="round" fill="none"/>
<path d="M498.1 294.4V366.4H533.9" fill="none" stroke="#b4b4b4" stroke-width="1"/>
<path d="M502.60 366.4v1.6M511.40 366.4v1.6M520.20 366.4v1.6M529.00 366.4v1.6" stroke="#777" stroke-width="0.8"/>
<text x="488.05 490.50 494.95" y="310.1" font-size="8" text-anchor="middle" fill="#444444" stroke="#444444" stroke-width="0.18" font-family="Liberation Serif, serif">1.0</text>
<text x="488.05 490.50 494.95" y="334.1" font-size="8" text-anchor="middle" fill="#444444" stroke="#444444" stroke-width="0.18" font-family="Liberation Serif, serif">0.5</text>
<text x="488.05 490.50 494.95" y="358.1" font-size="8" text-anchor="middle" fill="#444444" stroke="#444444" stroke-width="0.18" font-family="Liberation Serif, serif">0.0</text>
<text x="502.6" y="374.3" font-size="7.2" text-anchor="middle" fill="#444444" stroke="#444444" stroke-width="0.08" font-family="Liberation Serif, serif">2</text>
<text x="511.4" y="374.3" font-size="7.2" text-anchor="middle" fill="#444444" stroke="#444444" stroke-width="0.08" font-family="Liberation Serif, serif">4</text>
<text x="520.2" y="374.3" font-size="7.2" text-anchor="middle" fill="#444444" stroke="#444444" stroke-width="0.08" font-family="Liberation Serif, serif">6</text>
<text x="529.0" y="374.3" font-size="7.2" text-anchor="middle" fill="#444444" stroke="#444444" stroke-width="0.08" font-family="Liberation Serif, serif">8</text>
<text y="383.6" font-size="9" fill="#444444" stroke="#444444" stroke-width="0.18" font-family="Liberation Serif, Noto Serif CJK SC, serif"><tspan x="502.5" font-family="Liberation Mono, monospace" font-size="9.5" font-weight="bold" stroke-width="0" textLength="8.6" lengthAdjust="spacingAndGlyphs">Md</tspan><tspan x="511.9">(</tspan><tspan x="516.7" font-size="9.6" stroke-width="0.05">Φ</tspan><tspan x="524.7">)</tspan></text>
<circle cx="512.4" cy="300.7" r="0.75" fill="#ff0000" fill-opacity="0.6"/>
<text transform="scale(0.9,1)" font-size="9.5" text-anchor="middle" fill="#444444" stroke="#444444" stroke-width="0.18" font-family="Liberation Serif, serif"><tspan x="586.47" y="304.4">S</tspan><tspan x="591.19" y="304.4">c</tspan></text>
</svg></body></html>
